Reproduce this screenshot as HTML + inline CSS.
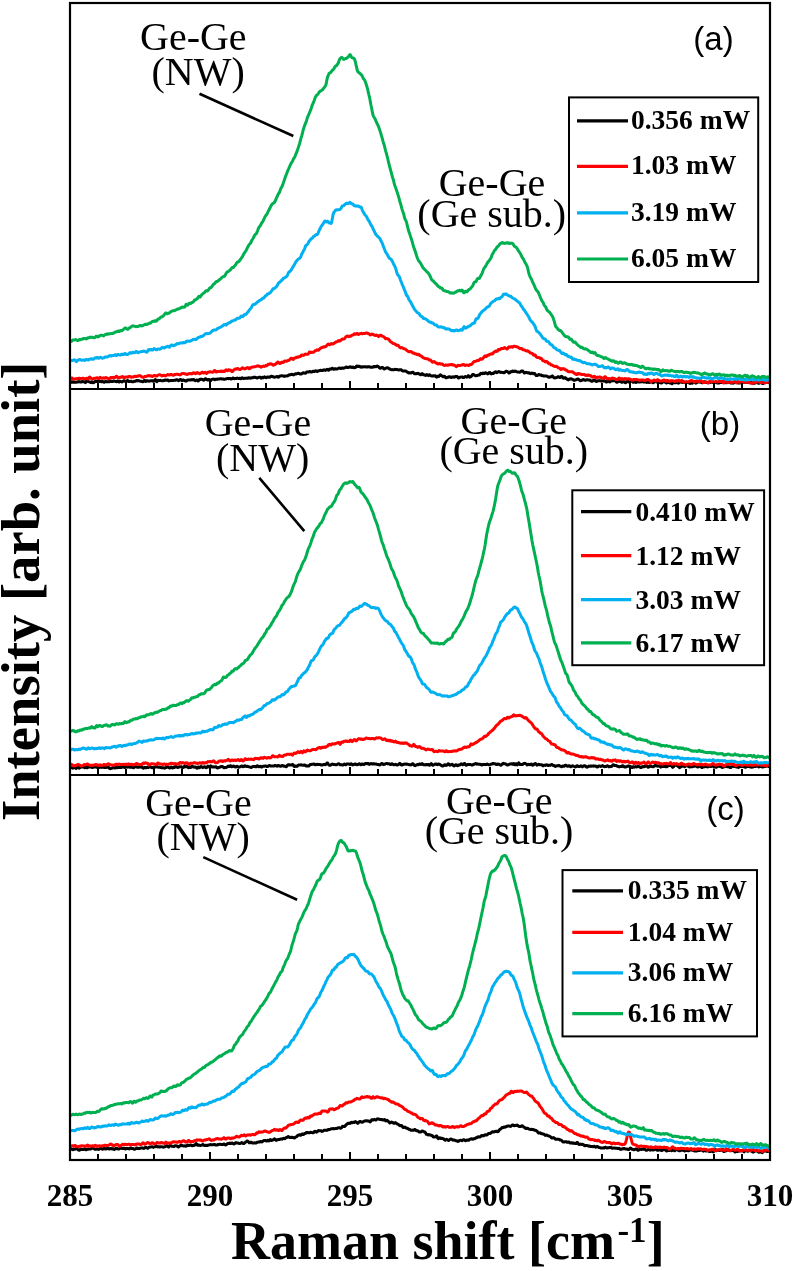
<!DOCTYPE html>
<html><head><meta charset="utf-8"><title>Raman spectra</title>
<style>html,body{margin:0;padding:0;background:#fff;}body{width:793px;height:1271px;overflow:hidden;font-family:"Liberation Serif",serif;}svg{display:block;will-change:transform;}</style>
</head><body>
<svg width="793" height="1271" viewBox="0 0 793 1271">
<rect x="0" y="0" width="793" height="1271" fill="#fff"/>
<defs><clipPath id="pc"><rect x="70" y="3" width="700" height="1157"/></clipPath></defs>
<g clip-path="url(#pc)">
<path d="M70.0,382.3 L70.7,382.5 L71.4,382.0 L72.1,381.7 L72.8,382.2 L73.5,382.2 L74.2,382.0 L74.9,382.2 L75.6,382.3 L76.3,382.2 L77.0,382.1 L77.7,382.0 L78.4,381.7 L79.1,381.6 L79.8,381.8 L80.5,382.1 L81.2,382.0 L81.9,381.7 L82.6,381.5 L83.3,381.7 L84.0,381.8 L84.7,382.0 L85.4,382.6 L86.1,382.0 L86.8,380.6 L87.5,380.5 L88.2,381.3 L88.9,381.7 L89.6,381.9 L90.3,382.4 L91.0,382.5 L91.7,381.7 L92.4,381.9 L93.1,382.7 L93.8,382.6 L94.5,382.1 L95.2,381.4 L95.9,381.1 L96.6,381.5 L97.3,381.6 L98.0,381.2 L98.7,381.2 L99.4,381.4 L100.1,381.3 L100.8,381.5 L101.5,381.7 L102.2,381.6 L102.9,381.6 L103.6,382.0 L104.3,382.2 L105.0,381.8 L105.7,381.5 L106.4,381.7 L107.1,381.8 L107.8,381.7 L108.5,381.6 L109.2,381.8 L109.9,381.5 L110.6,381.0 L111.3,381.2 L112.0,381.6 L112.7,381.5 L113.4,381.0 L114.1,380.9 L114.8,381.3 L115.5,381.4 L116.2,381.7 L116.9,381.5 L117.6,381.0 L118.3,381.5 L119.0,382.0 L119.7,381.4 L120.4,381.2 L121.1,381.6 L121.8,381.9 L122.5,381.8 L123.2,381.1 L123.9,380.7 L124.6,381.0 L125.3,381.3 L126.0,381.6 L126.7,381.3 L127.4,380.5 L128.1,380.7 L128.8,381.6 L129.5,381.6 L130.2,381.2 L130.9,381.2 L131.6,381.5 L132.3,381.7 L133.0,381.7 L133.7,381.5 L134.4,381.2 L135.1,381.3 L135.8,381.1 L136.5,380.5 L137.2,380.7 L137.9,380.9 L138.6,380.6 L139.3,380.8 L140.0,381.1 L140.7,381.3 L141.4,381.3 L142.1,381.6 L142.8,381.8 L143.5,381.3 L144.2,380.5 L144.9,380.6 L145.6,381.4 L146.3,381.2 L147.0,380.7 L147.7,380.8 L148.4,381.1 L149.1,381.2 L149.8,381.1 L150.5,380.8 L151.2,380.7 L151.9,380.7 L152.6,380.7 L153.3,381.2 L154.0,381.3 L154.7,380.0 L155.4,379.6 L156.1,381.1 L156.8,381.7 L157.5,380.6 L158.2,380.2 L158.9,380.6 L159.6,380.4 L160.3,380.3 L161.0,380.6 L161.7,380.8 L162.4,380.7 L163.1,380.7 L163.8,380.5 L164.5,380.2 L165.2,380.1 L165.9,380.2 L166.6,380.2 L167.3,379.9 L168.0,380.2 L168.7,380.9 L169.4,380.8 L170.1,380.6 L170.8,380.6 L171.5,380.4 L172.2,380.4 L172.9,380.6 L173.6,380.4 L174.3,380.2 L175.0,380.4 L175.7,380.1 L176.4,379.7 L177.1,379.7 L177.8,380.3 L178.5,380.7 L179.2,380.2 L179.9,379.7 L180.6,379.5 L181.3,380.0 L182.0,380.6 L182.7,380.2 L183.4,380.0 L184.1,380.3 L184.8,380.7 L185.5,381.0 L186.2,381.1 L186.9,380.5 L187.6,379.9 L188.3,379.9 L189.0,380.1 L189.7,380.1 L190.4,380.1 L191.1,379.8 L191.8,379.6 L192.5,379.9 L193.2,379.7 L193.9,379.5 L194.6,380.3 L195.3,380.7 L196.0,380.4 L196.7,379.9 L197.4,380.1 L198.1,381.0 L198.8,380.6 L199.5,379.4 L200.2,379.3 L200.9,379.4 L201.6,379.2 L202.3,379.4 L203.0,379.8 L203.7,380.3 L204.4,379.8 L205.1,378.8 L205.8,378.8 L206.5,379.2 L207.2,379.8 L207.9,380.0 L208.6,379.6 L209.3,379.6 L210.0,380.5 L210.7,380.5 L211.4,379.6 L212.1,379.3 L212.8,379.3 L213.5,379.1 L214.2,379.3 L214.9,379.7 L215.6,379.3 L216.3,379.2 L217.0,379.4 L217.7,379.1 L218.4,379.0 L219.1,379.0 L219.8,378.9 L220.5,378.7 L221.2,378.8 L221.9,379.0 L222.6,379.0 L223.3,379.0 L224.0,379.2 L224.7,379.3 L225.4,379.1 L226.1,378.8 L226.8,378.6 L227.5,378.4 L228.2,378.5 L228.9,378.7 L229.6,378.4 L230.3,378.5 L231.0,379.0 L231.7,379.0 L232.4,378.3 L233.1,378.0 L233.8,378.6 L234.5,378.7 L235.2,378.4 L235.9,378.6 L236.6,378.3 L237.3,378.1 L238.0,378.4 L238.7,378.6 L239.4,378.3 L240.1,378.3 L240.8,378.8 L241.5,378.3 L242.2,377.8 L242.9,378.3 L243.6,378.4 L244.3,378.4 L245.0,378.2 L245.7,378.3 L246.4,378.2 L247.1,378.1 L247.8,378.2 L248.5,378.0 L249.2,377.7 L249.9,378.1 L250.6,378.2 L251.3,377.9 L252.0,377.8 L252.7,377.7 L253.4,377.2 L254.1,377.2 L254.8,377.4 L255.5,377.3 L256.2,377.6 L256.9,378.0 L257.6,377.9 L258.3,377.4 L259.0,377.3 L259.7,377.2 L260.4,377.3 L261.1,378.2 L261.8,377.7 L262.5,377.2 L263.2,377.7 L263.9,377.2 L264.6,376.8 L265.3,377.4 L266.0,377.7 L266.7,377.2 L267.4,377.1 L268.1,377.2 L268.8,377.0 L269.5,377.2 L270.2,377.1 L270.9,376.5 L271.6,376.3 L272.3,376.4 L273.0,376.7 L273.7,377.1 L274.4,377.2 L275.1,377.1 L275.8,376.9 L276.5,376.6 L277.2,376.4 L277.9,377.0 L278.6,377.2 L279.3,376.5 L280.0,376.0 L280.7,375.9 L281.4,375.8 L282.1,375.7 L282.8,375.9 L283.5,376.1 L284.2,376.4 L284.9,376.1 L285.6,376.0 L286.3,376.0 L287.0,375.9 L287.7,375.8 L288.4,375.2 L289.1,374.8 L289.8,374.9 L290.5,374.7 L291.2,374.4 L291.9,374.3 L292.6,374.4 L293.3,374.9 L294.0,374.7 L294.7,374.1 L295.4,373.8 L296.1,373.9 L296.8,373.8 L297.5,373.4 L298.2,373.3 L298.9,373.5 L299.6,373.7 L300.3,374.1 L301.0,374.1 L301.7,373.7 L302.4,373.2 L303.1,372.8 L303.8,373.0 L304.5,373.1 L305.2,373.3 L305.9,373.0 L306.6,372.0 L307.3,371.9 L308.0,372.1 L308.7,372.0 L309.4,371.6 L310.1,371.6 L310.8,372.0 L311.5,372.1 L312.2,371.7 L312.9,371.2 L313.6,371.3 L314.3,371.6 L315.0,371.1 L315.7,370.7 L316.4,371.1 L317.1,371.5 L317.8,371.2 L318.5,370.9 L319.2,370.7 L319.9,370.4 L320.6,370.3 L321.3,370.4 L322.0,370.6 L322.7,370.5 L323.4,369.9 L324.1,369.8 L324.8,370.1 L325.5,370.4 L326.2,369.9 L326.9,369.3 L327.6,369.6 L328.3,370.2 L329.0,370.0 L329.7,368.9 L330.4,368.9 L331.1,369.2 L331.8,368.5 L332.5,368.3 L333.2,369.0 L333.9,369.2 L334.6,368.7 L335.3,368.7 L336.0,369.0 L336.7,369.1 L337.4,368.9 L338.1,368.6 L338.8,368.1 L339.5,367.9 L340.2,368.3 L340.9,368.6 L341.6,368.3 L342.3,367.9 L343.0,368.2 L343.7,368.3 L344.4,367.9 L345.1,367.6 L345.8,367.2 L346.5,367.0 L347.2,367.4 L347.9,367.5 L348.6,367.3 L349.3,367.3 L350.0,366.9 L350.7,366.7 L351.4,367.4 L352.1,367.6 L352.8,367.1 L353.5,367.2 L354.2,367.7 L354.9,367.6 L355.6,367.4 L356.3,366.3 L357.0,366.0 L357.7,366.5 L358.4,366.5 L359.1,366.2 L359.8,366.5 L360.5,367.1 L361.2,367.2 L361.9,366.8 L362.6,367.0 L363.3,366.9 L364.0,366.7 L364.7,366.7 L365.4,366.8 L366.1,367.0 L366.8,366.9 L367.5,366.8 L368.2,366.9 L368.9,366.7 L369.6,366.8 L370.3,367.2 L371.0,367.3 L371.7,367.1 L372.4,367.3 L373.1,367.1 L373.8,366.5 L374.5,366.5 L375.2,366.8 L375.9,366.7 L376.6,366.2 L377.3,366.1 L378.0,366.4 L378.7,366.9 L379.4,367.7 L380.1,368.2 L380.8,368.0 L381.5,367.7 L382.2,367.4 L382.9,367.7 L383.6,368.5 L384.3,369.0 L385.0,368.6 L385.7,368.1 L386.4,367.9 L387.1,367.8 L387.8,367.8 L388.5,368.1 L389.2,368.8 L389.9,369.3 L390.6,369.3 L391.3,369.6 L392.0,369.8 L392.7,369.6 L393.4,369.8 L394.1,369.7 L394.8,369.3 L395.5,369.4 L396.2,369.5 L396.9,369.4 L397.6,369.6 L398.3,369.9 L399.0,369.9 L399.7,369.8 L400.4,369.7 L401.1,369.7 L401.8,370.3 L402.5,370.9 L403.2,370.9 L403.9,371.0 L404.6,371.1 L405.3,370.9 L406.0,371.1 L406.7,371.7 L407.4,372.1 L408.1,372.6 L408.8,373.0 L409.5,372.7 L410.2,372.9 L410.9,373.1 L411.6,372.6 L412.3,372.2 L413.0,372.3 L413.7,373.1 L414.4,373.8 L415.1,373.8 L415.8,373.6 L416.5,373.7 L417.2,373.6 L417.9,373.3 L418.6,373.8 L419.3,374.0 L420.0,374.2 L420.7,374.7 L421.4,374.2 L422.1,373.6 L422.8,374.2 L423.5,374.8 L424.2,374.8 L424.9,375.1 L425.6,375.4 L426.3,375.0 L427.0,374.6 L427.7,375.1 L428.4,375.6 L429.1,375.0 L429.8,374.8 L430.5,375.5 L431.2,375.9 L431.9,376.1 L432.6,375.9 L433.3,375.7 L434.0,376.1 L434.7,376.0 L435.4,375.7 L436.1,376.8 L436.8,377.1 L437.5,376.3 L438.2,376.3 L438.9,376.5 L439.6,375.5 L440.3,374.9 L441.0,375.3 L441.7,375.8 L442.4,376.2 L443.1,376.7 L443.8,376.5 L444.5,376.2 L445.2,377.0 L445.9,377.8 L446.6,377.8 L447.3,377.4 L448.0,377.2 L448.7,377.0 L449.4,376.8 L450.1,377.0 L450.8,377.3 L451.5,377.5 L452.2,377.2 L452.9,376.7 L453.6,377.1 L454.3,377.3 L455.0,376.7 L455.7,376.5 L456.4,376.4 L457.1,376.5 L457.8,377.4 L458.5,378.0 L459.2,377.7 L459.9,377.3 L460.6,377.1 L461.3,376.9 L462.0,376.9 L462.7,377.3 L463.4,377.6 L464.1,377.3 L464.8,376.7 L465.5,376.6 L466.2,376.9 L466.9,377.2 L467.6,376.5 L468.3,375.7 L469.0,376.4 L469.7,377.2 L470.4,376.9 L471.1,376.5 L471.8,375.7 L472.5,374.7 L473.2,374.4 L473.9,374.8 L474.6,375.3 L475.3,375.7 L476.0,375.7 L476.7,375.5 L477.4,375.5 L478.1,375.1 L478.8,374.9 L479.5,374.9 L480.2,374.1 L480.9,373.2 L481.6,373.6 L482.3,373.7 L483.0,373.0 L483.7,373.4 L484.4,373.6 L485.1,373.0 L485.8,372.8 L486.5,373.1 L487.2,373.5 L487.9,373.9 L488.6,373.4 L489.3,372.5 L490.0,372.6 L490.7,373.5 L491.4,373.9 L492.1,373.4 L492.8,373.3 L493.5,373.4 L494.2,372.8 L494.9,372.1 L495.6,371.7 L496.3,372.3 L497.0,372.8 L497.7,372.1 L498.4,371.6 L499.1,371.6 L499.8,372.1 L500.5,372.4 L501.2,372.2 L501.9,372.4 L502.6,372.4 L503.3,372.5 L504.0,372.8 L504.7,372.4 L505.4,371.7 L506.1,371.2 L506.8,371.3 L507.5,371.6 L508.2,372.1 L508.9,373.0 L509.6,372.8 L510.3,371.8 L511.0,371.7 L511.7,371.8 L512.4,371.0 L513.1,371.1 L513.8,371.6 L514.5,371.2 L515.2,371.1 L515.9,371.4 L516.6,371.8 L517.3,371.9 L518.0,372.0 L518.7,372.1 L519.4,372.2 L520.1,372.2 L520.8,371.6 L521.5,371.0 L522.2,370.9 L522.9,371.2 L523.6,372.1 L524.3,372.9 L525.0,372.9 L525.7,372.4 L526.4,372.3 L527.1,372.6 L527.8,372.9 L528.5,372.8 L529.2,372.8 L529.9,373.4 L530.6,373.7 L531.3,373.2 L532.0,373.1 L532.7,373.3 L533.4,373.8 L534.1,373.7 L534.8,373.5 L535.5,374.6 L536.2,375.5 L536.9,375.5 L537.6,375.4 L538.3,374.8 L539.0,374.4 L539.7,374.9 L540.4,375.0 L541.1,374.9 L541.8,375.6 L542.5,375.8 L543.2,375.8 L543.9,376.0 L544.6,375.9 L545.3,376.0 L546.0,376.1 L546.7,376.1 L547.4,376.4 L548.1,376.9 L548.8,377.3 L549.5,377.2 L550.2,376.7 L550.9,376.7 L551.6,376.7 L552.3,375.9 L553.0,376.4 L553.7,377.6 L554.4,377.9 L555.1,377.9 L555.8,377.7 L556.5,377.6 L557.2,377.2 L557.9,376.7 L558.6,376.8 L559.3,377.3 L560.0,377.5 L560.7,377.0 L561.4,376.2 L562.1,376.6 L562.8,377.7 L563.5,378.3 L564.2,378.1 L564.9,377.6 L565.6,377.9 L566.3,378.8 L567.0,379.0 L567.7,379.6 L568.4,379.9 L569.1,379.3 L569.8,378.9 L570.5,378.8 L571.2,378.8 L571.9,379.1 L572.6,379.5 L573.3,379.8 L574.0,380.3 L574.7,380.3 L575.4,379.9 L576.1,379.8 L576.8,379.4 L577.5,379.1 L578.2,379.1 L578.9,379.5 L579.6,380.2 L580.3,380.7 L581.0,380.6 L581.7,380.3 L582.4,380.0 L583.1,379.7 L583.8,379.6 L584.5,380.2 L585.2,380.2 L585.9,380.0 L586.6,380.0 L587.3,379.7 L588.0,379.9 L588.7,380.1 L589.4,379.9 L590.1,380.2 L590.8,380.9 L591.5,381.3 L592.2,381.3 L592.9,380.7 L593.6,380.2 L594.3,380.1 L595.0,380.4 L595.7,381.1 L596.4,381.5 L597.1,381.2 L597.8,380.7 L598.5,380.8 L599.2,380.8 L599.9,380.6 L600.6,380.9 L601.3,381.2 L602.0,380.9 L602.7,381.0 L603.4,381.1 L604.1,380.8 L604.8,381.0 L605.5,381.5 L606.2,382.0 L606.9,381.9 L607.6,381.0 L608.3,380.7 L609.0,381.7 L609.7,381.9 L610.4,381.1 L611.1,380.8 L611.8,380.9 L612.5,380.8 L613.2,380.7 L613.9,380.6 L614.6,380.7 L615.3,380.7 L616.0,381.4 L616.7,382.2 L617.4,382.0 L618.1,381.8 L618.8,381.4 L619.5,380.9 L620.2,381.2 L620.9,381.8 L621.6,382.3 L622.3,382.2 L623.0,381.6 L623.7,381.5 L624.4,382.1 L625.1,382.7 L625.8,382.7 L626.5,381.7 L627.2,380.9 L627.9,381.2 L628.6,382.0 L629.3,382.0 L630.0,381.6 L630.7,381.2 L631.4,380.5 L632.1,380.9 L632.8,382.0 L633.5,382.3 L634.2,381.8 L634.9,381.7 L635.6,382.3 L636.3,382.5 L637.0,381.8 L637.7,381.6 L638.4,381.9 L639.1,382.0 L639.8,382.0 L640.5,381.7 L641.2,381.6 L641.9,381.7 L642.6,381.7 L643.3,381.8 L644.0,382.1 L644.7,382.1 L645.4,381.9 L646.1,382.0 L646.8,382.4 L647.5,382.1 L648.2,382.1 L648.9,382.4 L649.6,382.4 L650.3,382.2 L651.0,381.9 L651.7,381.7 L652.4,382.3 L653.1,382.8 L653.8,382.3 L654.5,381.7 L655.2,381.7 L655.9,381.8 L656.6,381.9 L657.3,381.9 L658.0,382.0 L658.7,382.4 L659.4,382.5 L660.1,382.6 L660.8,382.8 L661.5,383.1 L662.2,382.6 L662.9,381.8 L663.6,381.5 L664.3,381.2 L665.0,381.7 L665.7,382.6 L666.4,383.0 L667.1,382.8 L667.8,382.4 L668.5,382.3 L669.2,382.6 L669.9,383.1 L670.6,383.0 L671.3,383.2 L672.0,383.7 L672.7,382.9 L673.4,382.2 L674.1,382.6 L674.8,382.8 L675.5,382.5 L676.2,382.4 L676.9,382.7 L677.6,382.9 L678.3,383.2 L679.0,382.9 L679.7,381.9 L680.4,381.4 L681.1,381.7 L681.8,382.2 L682.5,382.4 L683.2,382.3 L683.9,382.1 L684.6,382.6 L685.3,382.7 L686.0,382.0 L686.7,382.0 L687.4,382.4 L688.1,382.3 L688.8,382.6 L689.5,383.3 L690.2,383.4 L690.9,382.8 L691.6,382.7 L692.3,383.2 L693.0,382.8 L693.7,382.1 L694.4,382.0 L695.1,382.5 L695.8,383.2 L696.5,382.9 L697.2,382.0 L697.9,381.7 L698.6,382.0 L699.3,381.9 L700.0,381.8 L700.7,382.2 L701.4,382.3 L702.1,382.8 L702.8,382.7 L703.5,381.9 L704.2,381.7 L704.9,381.7 L705.6,382.3 L706.3,382.5 L707.0,382.4 L707.7,382.8 L708.4,382.4 L709.1,381.9 L709.8,382.3 L710.5,382.5 L711.2,382.0 L711.9,381.9 L712.6,382.1 L713.3,382.7 L714.0,382.7 L714.7,382.5 L715.4,382.5 L716.1,382.1 L716.8,382.4 L717.5,383.1 L718.2,383.1 L718.9,383.0 L719.6,382.7 L720.3,382.2 L721.0,382.3 L721.7,382.4 L722.4,382.2 L723.1,381.9 L723.8,381.7 L724.5,381.8 L725.2,382.3 L725.9,382.8 L726.6,382.5 L727.3,382.1 L728.0,382.5 L728.7,382.4 L729.4,382.0 L730.1,382.4 L730.8,383.0 L731.5,383.0 L732.2,383.1 L732.9,383.2 L733.6,383.1 L734.3,382.3 L735.0,381.5 L735.7,381.9 L736.4,382.4 L737.1,382.6 L737.8,382.9 L738.5,383.0 L739.2,383.1 L739.9,383.1 L740.6,382.7 L741.3,382.6 L742.0,382.4 L742.7,382.3 L743.4,382.5 L744.1,382.6 L744.8,382.5 L745.5,382.3 L746.2,382.2 L746.9,382.2 L747.6,382.2 L748.3,382.1 L749.0,382.2 L749.7,382.4 L750.4,382.0 L751.1,382.1 L751.8,382.9 L752.5,383.3 L753.2,383.1 L753.9,383.3 L754.6,383.3 L755.3,382.4 L756.0,381.8 L756.7,382.2 L757.4,382.8 L758.1,383.1 L758.8,383.3 L759.5,383.1 L760.2,382.5 L760.9,382.0 L761.6,382.5 L762.3,383.5 L763.0,383.5 L763.7,382.9 L764.4,382.5 L765.1,382.4 L765.8,382.3 L766.5,381.9 L767.2,381.5 L767.9,382.0 L768.6,382.5 L769.3,382.7 L770.0,382.7" fill="none" stroke="#000000" stroke-width="3.00" stroke-linejoin="round" stroke-linecap="round"/>
<path d="M70.0,378.7 L70.7,378.4 L71.4,377.9 L72.1,378.0 L72.8,379.1 L73.5,379.4 L74.2,378.9 L74.9,378.9 L75.6,378.8 L76.3,378.6 L77.0,378.8 L77.7,378.6 L78.4,378.2 L79.1,378.3 L79.8,378.5 L80.5,378.7 L81.2,378.6 L81.9,378.4 L82.6,378.2 L83.3,378.3 L84.0,378.7 L84.7,378.8 L85.4,378.7 L86.1,378.4 L86.8,378.2 L87.5,378.9 L88.2,379.0 L88.9,377.8 L89.6,377.0 L90.3,377.5 L91.0,378.4 L91.7,378.7 L92.4,378.9 L93.1,378.8 L93.8,378.5 L94.5,378.3 L95.2,378.3 L95.9,378.2 L96.6,377.8 L97.3,377.8 L98.0,378.5 L98.7,378.7 L99.4,377.9 L100.1,377.3 L100.8,377.8 L101.5,378.2 L102.2,378.3 L102.9,378.1 L103.6,377.7 L104.3,378.2 L105.0,378.2 L105.7,377.5 L106.4,377.8 L107.1,378.3 L107.8,378.3 L108.5,378.6 L109.2,378.9 L109.9,378.2 L110.6,377.5 L111.3,377.4 L112.0,377.7 L112.7,377.6 L113.4,377.4 L114.1,377.6 L114.8,377.5 L115.5,376.9 L116.2,376.2 L116.9,376.4 L117.6,377.4 L118.3,378.0 L119.0,378.0 L119.7,377.5 L120.4,377.1 L121.1,377.3 L121.8,377.1 L122.5,376.5 L123.2,376.9 L123.9,377.8 L124.6,377.7 L125.3,377.3 L126.0,376.9 L126.7,376.9 L127.4,377.2 L128.1,377.0 L128.8,376.6 L129.5,376.5 L130.2,376.5 L130.9,377.0 L131.6,377.2 L132.3,377.0 L133.0,377.0 L133.7,376.8 L134.4,376.5 L135.1,376.3 L135.8,376.4 L136.5,376.5 L137.2,376.3 L137.9,376.0 L138.6,375.9 L139.3,375.7 L140.0,375.6 L140.7,376.1 L141.4,376.7 L142.1,376.9 L142.8,377.2 L143.5,377.5 L144.2,376.8 L144.9,376.5 L145.6,376.6 L146.3,376.3 L147.0,376.1 L147.7,376.0 L148.4,375.6 L149.1,375.5 L149.8,375.9 L150.5,375.9 L151.2,375.8 L151.9,376.5 L152.6,376.5 L153.3,375.8 L154.0,375.5 L154.7,375.5 L155.4,375.8 L156.1,376.1 L156.8,376.0 L157.5,375.4 L158.2,375.1 L158.9,374.9 L159.6,374.7 L160.3,374.9 L161.0,375.4 L161.7,375.9 L162.4,375.8 L163.1,375.4 L163.8,375.2 L164.5,375.6 L165.2,375.9 L165.9,375.7 L166.6,375.1 L167.3,374.7 L168.0,374.6 L168.7,374.9 L169.4,374.9 L170.1,374.7 L170.8,374.5 L171.5,374.6 L172.2,374.9 L172.9,375.2 L173.6,375.2 L174.3,374.8 L175.0,374.4 L175.7,374.4 L176.4,374.2 L177.1,374.2 L177.8,374.4 L178.5,374.4 L179.2,374.6 L179.9,374.9 L180.6,374.7 L181.3,374.1 L182.0,373.5 L182.7,373.6 L183.4,373.5 L184.1,373.4 L184.8,373.9 L185.5,374.0 L186.2,374.0 L186.9,374.4 L187.6,374.4 L188.3,373.9 L189.0,373.5 L189.7,373.7 L190.4,373.7 L191.1,373.6 L191.8,373.9 L192.5,373.6 L193.2,372.8 L193.9,372.8 L194.6,373.1 L195.3,373.7 L196.0,373.6 L196.7,372.8 L197.4,372.6 L198.1,372.9 L198.8,373.3 L199.5,373.7 L200.2,373.5 L200.9,373.0 L201.6,372.6 L202.3,372.1 L203.0,372.6 L203.7,373.0 L204.4,372.6 L205.1,372.3 L205.8,373.0 L206.5,373.4 L207.2,372.6 L207.9,372.2 L208.6,372.2 L209.3,371.8 L210.0,371.8 L210.7,372.1 L211.4,372.1 L212.1,372.1 L212.8,372.3 L213.5,371.9 L214.2,370.7 L214.9,370.5 L215.6,371.4 L216.3,372.0 L217.0,371.8 L217.7,371.4 L218.4,371.4 L219.1,371.6 L219.8,371.6 L220.5,371.2 L221.2,371.0 L221.9,371.6 L222.6,371.5 L223.3,371.1 L224.0,371.6 L224.7,371.4 L225.4,370.3 L226.1,369.9 L226.8,370.6 L227.5,370.7 L228.2,369.9 L228.9,369.7 L229.6,370.3 L230.3,370.1 L231.0,370.4 L231.7,371.5 L232.4,371.6 L233.1,370.6 L233.8,370.0 L234.5,369.5 L235.2,368.9 L235.9,369.1 L236.6,369.0 L237.3,368.5 L238.0,368.6 L238.7,369.2 L239.4,369.4 L240.1,369.4 L240.8,369.3 L241.5,368.6 L242.2,367.9 L242.9,367.8 L243.6,368.4 L244.3,368.9 L245.0,368.8 L245.7,368.5 L246.4,368.0 L247.1,367.8 L247.8,367.6 L248.5,367.9 L249.2,368.7 L249.9,368.5 L250.6,367.6 L251.3,367.3 L252.0,367.2 L252.7,367.1 L253.4,367.1 L254.1,366.9 L254.8,366.7 L255.5,366.6 L256.2,366.4 L256.9,366.1 L257.6,365.8 L258.3,366.0 L259.0,366.2 L259.7,366.4 L260.4,366.8 L261.1,367.2 L261.8,366.9 L262.5,366.4 L263.2,366.2 L263.9,366.1 L264.6,366.4 L265.3,365.9 L266.0,365.3 L266.7,365.7 L267.4,365.3 L268.1,364.2 L268.8,364.2 L269.5,364.3 L270.2,363.8 L270.9,363.7 L271.6,364.1 L272.3,364.5 L273.0,365.1 L273.7,365.2 L274.4,364.6 L275.1,364.2 L275.8,364.0 L276.5,363.4 L277.2,362.6 L277.9,362.0 L278.6,362.5 L279.3,363.3 L280.0,363.5 L280.7,363.1 L281.4,362.4 L282.1,362.1 L282.8,362.6 L283.5,362.4 L284.2,361.5 L284.9,360.9 L285.6,360.9 L286.3,361.3 L287.0,361.1 L287.7,360.6 L288.4,360.5 L289.1,360.2 L289.8,359.5 L290.5,358.8 L291.2,358.3 L291.9,358.3 L292.6,359.2 L293.3,359.4 L294.0,358.3 L294.7,358.1 L295.4,358.0 L296.1,357.5 L296.8,357.2 L297.5,357.1 L298.2,357.2 L298.9,356.8 L299.6,356.6 L300.3,356.5 L301.0,355.6 L301.7,354.9 L302.4,355.1 L303.1,355.4 L303.8,355.2 L304.5,354.6 L305.2,354.1 L305.9,354.2 L306.6,354.3 L307.3,354.2 L308.0,354.2 L308.7,353.3 L309.4,352.1 L310.1,352.0 L310.8,352.5 L311.5,352.5 L312.2,352.3 L312.9,352.2 L313.6,352.2 L314.3,351.7 L315.0,350.8 L315.7,350.6 L316.4,350.3 L317.1,349.8 L317.8,350.1 L318.5,350.2 L319.2,349.5 L319.9,348.8 L320.6,348.2 L321.3,347.7 L322.0,347.5 L322.7,347.3 L323.4,347.0 L324.1,346.8 L324.8,346.9 L325.5,346.6 L326.2,346.0 L326.9,345.5 L327.6,344.5 L328.3,344.0 L329.0,344.5 L329.7,344.8 L330.4,344.3 L331.1,343.7 L331.8,343.6 L332.5,344.0 L333.2,343.9 L333.9,343.5 L334.6,342.9 L335.3,342.3 L336.0,341.9 L336.7,341.9 L337.4,341.6 L338.1,340.9 L338.8,340.5 L339.5,340.9 L340.2,341.0 L340.9,340.3 L341.6,339.5 L342.3,339.1 L343.0,339.1 L343.7,339.0 L344.4,338.8 L345.1,337.9 L345.8,336.9 L346.5,336.5 L347.2,336.1 L347.9,336.1 L348.6,336.8 L349.3,336.4 L350.0,335.9 L350.7,336.2 L351.4,335.7 L352.1,335.0 L352.8,335.0 L353.5,334.8 L354.2,334.0 L354.9,333.7 L355.6,334.2 L356.3,334.0 L357.0,333.4 L357.7,334.0 L358.4,334.4 L359.1,334.0 L359.8,333.8 L360.5,333.6 L361.2,333.3 L361.9,333.7 L362.6,333.8 L363.3,333.4 L364.0,333.4 L364.7,333.6 L365.4,333.3 L366.1,333.0 L366.8,332.9 L367.5,333.1 L368.2,333.7 L368.9,333.8 L369.6,334.3 L370.3,335.0 L371.0,334.6 L371.7,334.1 L372.4,334.2 L373.1,334.5 L373.8,334.9 L374.5,335.0 L375.2,335.5 L375.9,335.5 L376.6,335.1 L377.3,335.4 L378.0,336.0 L378.7,336.6 L379.4,336.1 L380.1,335.3 L380.8,335.2 L381.5,335.6 L382.2,336.2 L382.9,336.4 L383.6,336.6 L384.3,337.2 L385.0,338.2 L385.7,338.7 L386.4,338.4 L387.1,338.6 L387.8,339.0 L388.5,339.2 L389.2,339.8 L389.9,340.8 L390.6,341.8 L391.3,342.1 L392.0,342.5 L392.7,343.2 L393.4,343.6 L394.1,343.8 L394.8,344.0 L395.5,344.3 L396.2,345.0 L396.9,345.4 L397.6,345.2 L398.3,345.5 L399.0,346.5 L399.7,347.4 L400.4,347.9 L401.1,347.7 L401.8,347.6 L402.5,347.9 L403.2,348.4 L403.9,348.8 L404.6,348.8 L405.3,349.1 L406.0,349.7 L406.7,350.2 L407.4,350.9 L408.1,351.4 L408.8,351.7 L409.5,351.7 L410.2,351.5 L410.9,351.5 L411.6,351.8 L412.3,352.6 L413.0,353.2 L413.7,353.1 L414.4,353.2 L415.1,353.8 L415.8,353.9 L416.5,354.0 L417.2,354.6 L417.9,354.7 L418.6,354.2 L419.3,354.7 L420.0,355.7 L420.7,355.9 L421.4,356.0 L422.1,356.7 L422.8,357.5 L423.5,357.7 L424.2,358.1 L424.9,358.4 L425.6,358.5 L426.3,358.7 L427.0,358.8 L427.7,358.8 L428.4,359.2 L429.1,360.0 L429.8,360.1 L430.5,360.0 L431.2,360.7 L431.9,361.8 L432.6,362.2 L433.3,361.8 L434.0,361.6 L434.7,361.8 L435.4,362.7 L436.1,363.0 L436.8,363.1 L437.5,363.9 L438.2,364.1 L438.9,363.6 L439.6,363.5 L440.3,363.9 L441.0,364.2 L441.7,363.9 L442.4,364.0 L443.1,364.8 L443.8,365.2 L444.5,365.4 L445.2,365.3 L445.9,364.9 L446.6,365.0 L447.3,365.3 L448.0,365.3 L448.7,364.9 L449.4,364.7 L450.1,364.8 L450.8,364.8 L451.5,364.5 L452.2,364.5 L452.9,364.9 L453.6,365.0 L454.3,365.2 L455.0,365.6 L455.7,366.2 L456.4,366.6 L457.1,366.0 L457.8,365.3 L458.5,365.4 L459.2,365.6 L459.9,365.6 L460.6,365.4 L461.3,365.1 L462.0,365.1 L462.7,364.8 L463.4,364.4 L464.1,364.7 L464.8,365.4 L465.5,365.6 L466.2,365.1 L466.9,364.9 L467.6,365.1 L468.3,365.4 L469.0,365.4 L469.7,364.8 L470.4,364.4 L471.1,364.6 L471.8,364.2 L472.5,363.3 L473.2,362.4 L473.9,361.7 L474.6,361.4 L475.3,361.3 L476.0,361.1 L476.7,360.8 L477.4,360.6 L478.1,360.5 L478.8,360.3 L479.5,359.8 L480.2,359.0 L480.9,358.7 L481.6,359.2 L482.3,359.0 L483.0,358.2 L483.7,357.4 L484.4,356.4 L485.1,355.9 L485.8,356.4 L486.5,356.5 L487.2,355.5 L487.9,355.2 L488.6,355.2 L489.3,354.4 L490.0,354.3 L490.7,354.3 L491.4,353.7 L492.1,353.9 L492.8,353.8 L493.5,352.6 L494.2,351.9 L494.9,351.7 L495.6,351.1 L496.3,351.0 L497.0,351.4 L497.7,350.7 L498.4,349.5 L499.1,349.4 L499.8,349.7 L500.5,349.3 L501.2,348.5 L501.9,348.4 L502.6,348.6 L503.3,348.5 L504.0,347.9 L504.7,347.6 L505.4,348.2 L506.1,348.5 L506.8,348.9 L507.5,348.9 L508.2,347.6 L508.9,346.9 L509.6,347.3 L510.3,347.1 L511.0,346.6 L511.7,346.8 L512.4,347.3 L513.1,346.8 L513.8,346.2 L514.5,346.2 L515.2,346.4 L515.9,346.7 L516.6,346.8 L517.3,346.9 L518.0,347.3 L518.7,347.7 L519.4,348.3 L520.1,348.7 L520.8,348.4 L521.5,348.4 L522.2,349.1 L522.9,349.7 L523.6,349.8 L524.3,349.9 L525.0,350.2 L525.7,350.6 L526.4,350.9 L527.1,350.8 L527.8,351.0 L528.5,351.5 L529.2,351.8 L529.9,352.5 L530.6,353.1 L531.3,353.2 L532.0,353.2 L532.7,353.9 L533.4,355.1 L534.1,355.2 L534.8,354.7 L535.5,355.4 L536.2,356.9 L536.9,357.4 L537.6,357.4 L538.3,357.5 L539.0,357.4 L539.7,358.0 L540.4,358.6 L541.1,358.3 L541.8,358.9 L542.5,360.3 L543.2,360.8 L543.9,360.7 L544.6,361.3 L545.3,362.0 L546.0,361.6 L546.7,361.5 L547.4,362.1 L548.1,362.9 L548.8,363.6 L549.5,363.7 L550.2,364.0 L550.9,364.9 L551.6,364.9 L552.3,365.1 L553.0,365.7 L553.7,366.0 L554.4,366.2 L555.1,366.5 L555.8,366.4 L556.5,366.3 L557.2,366.9 L557.9,367.5 L558.6,367.9 L559.3,368.1 L560.0,368.5 L560.7,369.5 L561.4,369.4 L562.1,368.6 L562.8,368.8 L563.5,368.8 L564.2,368.7 L564.9,369.5 L565.6,370.0 L566.3,370.0 L567.0,370.5 L567.7,371.3 L568.4,371.7 L569.1,371.7 L569.8,371.7 L570.5,371.7 L571.2,371.7 L571.9,371.8 L572.6,372.0 L573.3,372.4 L574.0,373.0 L574.7,373.5 L575.4,373.8 L576.1,374.5 L576.8,374.6 L577.5,373.6 L578.2,373.5 L578.9,373.9 L579.6,373.8 L580.3,373.9 L581.0,374.3 L581.7,374.5 L582.4,374.5 L583.1,374.6 L583.8,374.4 L584.5,374.4 L585.2,375.2 L585.9,375.4 L586.6,375.2 L587.3,375.5 L588.0,375.1 L588.7,375.0 L589.4,375.5 L590.1,375.5 L590.8,375.7 L591.5,376.5 L592.2,377.1 L592.9,377.2 L593.6,376.6 L594.3,376.2 L595.0,376.6 L595.7,377.5 L596.4,377.9 L597.1,377.4 L597.8,377.1 L598.5,377.3 L599.2,377.1 L599.9,377.0 L600.6,377.3 L601.3,377.7 L602.0,377.9 L602.7,378.3 L603.4,378.5 L604.1,377.7 L604.8,376.7 L605.5,376.8 L606.2,377.7 L606.9,378.5 L607.6,379.0 L608.3,378.6 L609.0,378.4 L609.7,378.9 L610.4,379.0 L611.1,378.7 L611.8,378.5 L612.5,378.0 L613.2,378.3 L613.9,378.7 L614.6,378.6 L615.3,379.0 L616.0,379.5 L616.7,379.5 L617.4,379.6 L618.1,379.0 L618.8,378.1 L619.5,378.1 L620.2,378.8 L620.9,379.2 L621.6,378.8 L622.3,378.6 L623.0,379.2 L623.7,379.4 L624.4,378.7 L625.1,378.6 L625.8,378.9 L626.5,378.8 L627.2,379.1 L627.9,379.0 L628.6,378.7 L629.3,378.9 L630.0,379.1 L630.7,379.5 L631.4,380.1 L632.1,380.3 L632.8,380.0 L633.5,379.6 L634.2,379.5 L634.9,379.8 L635.6,379.8 L636.3,379.4 L637.0,379.6 L637.7,379.8 L638.4,379.9 L639.1,380.2 L639.8,380.4 L640.5,380.1 L641.2,379.9 L641.9,380.1 L642.6,380.1 L643.3,380.0 L644.0,380.3 L644.7,380.5 L645.4,380.4 L646.1,380.0 L646.8,379.7 L647.5,379.5 L648.2,379.6 L648.9,380.0 L649.6,380.3 L650.3,381.2 L651.0,381.7 L651.7,381.0 L652.4,380.9 L653.1,380.7 L653.8,380.1 L654.5,380.1 L655.2,380.8 L655.9,381.2 L656.6,380.6 L657.3,379.7 L658.0,379.7 L658.7,380.5 L659.4,381.1 L660.1,381.0 L660.8,381.0 L661.5,381.1 L662.2,380.8 L662.9,380.5 L663.6,380.2 L664.3,380.0 L665.0,380.6 L665.7,381.2 L666.4,381.0 L667.1,380.3 L667.8,380.4 L668.5,381.1 L669.2,381.4 L669.9,381.3 L670.6,380.8 L671.3,380.7 L672.0,380.7 L672.7,380.8 L673.4,380.9 L674.1,381.3 L674.8,381.6 L675.5,381.1 L676.2,380.6 L676.9,381.1 L677.6,381.2 L678.3,380.6 L679.0,380.5 L679.7,381.0 L680.4,381.3 L681.1,380.7 L681.8,380.5 L682.5,381.0 L683.2,381.8 L683.9,382.0 L684.6,381.7 L685.3,382.3 L686.0,382.5 L686.7,382.1 L687.4,382.0 L688.1,381.9 L688.8,381.6 L689.5,381.2 L690.2,381.0 L690.9,380.7 L691.6,380.5 L692.3,380.8 L693.0,381.2 L693.7,381.8 L694.4,382.0 L695.1,381.6 L695.8,381.5 L696.5,381.2 L697.2,380.9 L697.9,381.3 L698.6,381.6 L699.3,381.3 L700.0,380.7 L700.7,380.5 L701.4,381.1 L702.1,381.9 L702.8,382.4 L703.5,382.6 L704.2,382.5 L704.9,382.3 L705.6,382.1 L706.3,381.9 L707.0,382.1 L707.7,382.7 L708.4,383.0 L709.1,382.1 L709.8,381.5 L710.5,381.8 L711.2,381.7 L711.9,381.5 L712.6,381.4 L713.3,381.6 L714.0,382.2 L714.7,382.1 L715.4,381.7 L716.1,381.6 L716.8,381.8 L717.5,381.9 L718.2,381.6 L718.9,381.3 L719.6,381.3 L720.3,381.6 L721.0,381.7 L721.7,381.5 L722.4,381.7 L723.1,382.5 L723.8,383.1 L724.5,382.1 L725.2,380.8 L725.9,381.0 L726.6,381.7 L727.3,382.3 L728.0,382.8 L728.7,382.1 L729.4,381.2 L730.1,381.7 L730.8,382.2 L731.5,382.4 L732.2,382.4 L732.9,382.1 L733.6,381.9 L734.3,381.6 L735.0,381.8 L735.7,382.7 L736.4,382.9 L737.1,381.9 L737.8,381.4 L738.5,381.9 L739.2,382.3 L739.9,382.4 L740.6,381.9 L741.3,381.9 L742.0,382.4 L742.7,382.6 L743.4,382.2 L744.1,382.1 L744.8,382.4 L745.5,382.4 L746.2,382.2 L746.9,381.6 L747.6,381.3 L748.3,381.8 L749.0,382.5 L749.7,382.9 L750.4,382.8 L751.1,382.7 L751.8,383.2 L752.5,383.4 L753.2,382.8 L753.9,382.5 L754.6,382.5 L755.3,382.2 L756.0,382.3 L756.7,382.3 L757.4,381.7 L758.1,381.4 L758.8,381.7 L759.5,381.9 L760.2,382.5 L760.9,382.6 L761.6,382.3 L762.3,382.3 L763.0,382.2 L763.7,382.1 L764.4,382.6 L765.1,383.0 L765.8,382.5 L766.5,381.7 L767.2,382.0 L767.9,382.3 L768.6,381.8 L769.3,381.7 L770.0,382.1" fill="none" stroke="#ff0000" stroke-width="3.00" stroke-linejoin="round" stroke-linecap="round"/>
<path d="M70.0,361.3 L70.7,360.4 L71.4,360.4 L72.1,360.6 L72.8,360.4 L73.5,360.1 L74.2,359.8 L74.9,359.9 L75.6,360.8 L76.3,361.7 L77.0,361.1 L77.7,360.2 L78.4,360.0 L79.1,359.7 L79.8,359.5 L80.5,359.8 L81.2,360.1 L81.9,360.2 L82.6,360.2 L83.3,359.9 L84.0,360.0 L84.7,360.4 L85.4,360.0 L86.1,359.4 L86.8,359.4 L87.5,359.9 L88.2,360.1 L88.9,359.5 L89.6,359.2 L90.3,359.2 L91.0,358.8 L91.7,358.8 L92.4,359.2 L93.1,359.2 L93.8,359.0 L94.5,358.3 L95.2,357.7 L95.9,358.1 L96.6,357.8 L97.3,357.4 L98.0,358.1 L98.7,358.3 L99.4,357.7 L100.1,357.3 L100.8,357.5 L101.5,357.9 L102.2,358.3 L102.9,358.1 L103.6,357.8 L104.3,357.7 L105.0,357.1 L105.7,356.7 L106.4,357.1 L107.1,357.1 L107.8,356.6 L108.5,356.3 L109.2,355.9 L109.9,355.5 L110.6,356.1 L111.3,356.1 L112.0,355.5 L112.7,355.4 L113.4,355.6 L114.1,355.4 L114.8,354.7 L115.5,354.8 L116.2,355.7 L116.9,355.4 L117.6,354.4 L118.3,354.5 L119.0,354.8 L119.7,354.9 L120.4,355.0 L121.1,354.5 L121.8,354.2 L122.5,354.3 L123.2,354.6 L123.9,354.4 L124.6,353.6 L125.3,353.6 L126.0,354.4 L126.7,354.6 L127.4,354.4 L128.1,354.3 L128.8,353.7 L129.5,353.0 L130.2,352.7 L130.9,353.0 L131.6,353.2 L132.3,352.5 L133.0,352.3 L133.7,352.6 L134.4,352.8 L135.1,352.6 L135.8,351.7 L136.5,351.4 L137.2,352.1 L137.9,352.8 L138.6,352.6 L139.3,352.1 L140.0,351.8 L140.7,351.7 L141.4,351.7 L142.1,351.6 L142.8,351.3 L143.5,351.1 L144.2,351.2 L144.9,351.3 L145.6,351.6 L146.3,352.2 L147.0,352.1 L147.7,351.0 L148.4,349.8 L149.1,349.6 L149.8,350.0 L150.5,349.7 L151.2,349.4 L151.9,350.0 L152.6,350.1 L153.3,349.1 L154.0,348.6 L154.7,348.8 L155.4,349.2 L156.1,349.7 L156.8,349.8 L157.5,349.3 L158.2,348.9 L158.9,349.1 L159.6,349.2 L160.3,349.1 L161.0,348.6 L161.7,347.7 L162.4,347.3 L163.1,347.6 L163.8,348.1 L164.5,347.9 L165.2,347.1 L165.9,346.9 L166.6,346.9 L167.3,346.4 L168.0,346.2 L168.7,346.9 L169.4,347.3 L170.1,346.4 L170.8,345.4 L171.5,344.9 L172.2,344.9 L172.9,345.5 L173.6,345.7 L174.3,345.3 L175.0,345.0 L175.7,344.8 L176.4,344.3 L177.1,343.6 L177.8,343.7 L178.5,343.7 L179.2,343.4 L179.9,343.0 L180.6,342.9 L181.3,343.0 L182.0,343.1 L182.7,342.7 L183.4,342.5 L184.1,342.7 L184.8,342.8 L185.5,342.3 L186.2,341.3 L186.9,341.3 L187.6,341.2 L188.3,341.1 L189.0,341.3 L189.7,341.3 L190.4,341.0 L191.1,340.6 L191.8,340.4 L192.5,339.8 L193.2,339.4 L193.9,339.3 L194.6,339.2 L195.3,339.5 L196.0,339.6 L196.7,339.1 L197.4,338.2 L198.1,337.4 L198.8,337.4 L199.5,337.2 L200.2,336.7 L200.9,336.5 L201.6,336.5 L202.3,336.4 L203.0,335.8 L203.7,335.4 L204.4,334.7 L205.1,334.0 L205.8,333.6 L206.5,333.4 L207.2,333.7 L207.9,333.8 L208.6,333.4 L209.3,333.3 L210.0,333.2 L210.7,332.5 L211.4,331.8 L212.1,331.0 L212.8,330.5 L213.5,330.3 L214.2,329.9 L214.9,329.9 L215.6,330.0 L216.3,329.7 L217.0,329.0 L217.7,328.4 L218.4,328.2 L219.1,327.8 L219.8,327.4 L220.5,327.2 L221.2,326.9 L221.9,326.3 L222.6,325.9 L223.3,325.3 L224.0,324.7 L224.7,324.5 L225.4,324.6 L226.1,325.1 L226.8,324.6 L227.5,323.4 L228.2,323.2 L228.9,323.0 L229.6,322.5 L230.3,322.4 L231.0,321.7 L231.7,320.9 L232.4,320.9 L233.1,320.9 L233.8,320.4 L234.5,319.9 L235.2,320.1 L235.9,319.7 L236.6,318.7 L237.3,318.3 L238.0,318.2 L238.7,318.2 L239.4,318.3 L240.1,317.6 L240.8,316.4 L241.5,316.0 L242.2,316.4 L242.9,316.5 L243.6,315.6 L244.3,314.9 L245.0,314.5 L245.7,314.3 L246.4,314.0 L247.1,313.0 L247.8,312.1 L248.5,311.4 L249.2,310.2 L249.9,309.3 L250.6,308.8 L251.3,307.7 L252.0,306.3 L252.7,305.1 L253.4,304.5 L254.1,304.5 L254.8,304.3 L255.5,303.8 L256.2,303.3 L256.9,302.5 L257.6,301.8 L258.3,301.5 L259.0,301.0 L259.7,300.3 L260.4,300.2 L261.1,299.9 L261.8,299.0 L262.5,298.2 L263.2,298.3 L263.9,298.0 L264.6,296.9 L265.3,296.0 L266.0,295.7 L266.7,295.1 L267.4,294.0 L268.1,293.9 L268.8,293.7 L269.5,292.9 L270.2,292.7 L270.9,291.9 L271.6,290.8 L272.3,289.9 L273.0,288.8 L273.7,288.7 L274.4,288.6 L275.1,287.8 L275.8,287.2 L276.5,286.5 L277.2,285.6 L277.9,284.3 L278.6,282.8 L279.3,282.5 L280.0,282.2 L280.7,281.1 L281.4,280.4 L282.1,280.2 L282.8,279.2 L283.5,278.1 L284.2,277.9 L284.9,277.8 L285.6,277.1 L286.3,276.7 L287.0,276.1 L287.7,274.5 L288.4,272.8 L289.1,271.8 L289.8,271.5 L290.5,271.0 L291.2,269.9 L291.9,268.7 L292.6,267.5 L293.3,266.4 L294.0,265.3 L294.7,264.0 L295.4,262.6 L296.1,261.6 L296.8,260.8 L297.5,259.9 L298.2,259.1 L298.9,258.6 L299.6,258.2 L300.3,257.7 L301.0,256.1 L301.7,254.1 L302.4,253.0 L303.1,251.6 L303.8,250.2 L304.5,249.1 L305.2,247.1 L305.9,245.4 L306.6,245.0 L307.3,244.5 L308.0,243.5 L308.7,241.9 L309.4,240.8 L310.1,240.2 L310.8,239.1 L311.5,238.5 L312.2,238.3 L312.9,237.4 L313.6,236.5 L314.3,236.2 L315.0,235.7 L315.7,234.9 L316.4,234.5 L317.1,234.5 L317.8,233.9 L318.5,232.0 L319.2,230.2 L319.9,229.1 L320.6,227.6 L321.3,226.2 L322.0,225.3 L322.7,224.5 L323.4,223.4 L324.1,222.1 L324.8,221.0 L325.5,221.3 L326.2,221.9 L326.9,221.5 L327.6,221.2 L328.3,221.8 L329.0,222.8 L329.7,223.1 L330.4,223.1 L331.1,223.4 L331.8,221.6 L332.5,217.8 L333.2,214.1 L333.9,212.3 L334.6,211.5 L335.3,210.5 L336.0,209.9 L336.7,209.8 L337.4,209.9 L338.1,209.7 L338.8,209.7 L339.5,209.6 L340.2,209.3 L340.9,208.6 L341.6,207.2 L342.3,205.9 L343.0,205.8 L343.7,205.6 L344.4,204.9 L345.1,204.3 L345.8,203.7 L346.5,203.2 L347.2,203.3 L347.9,203.7 L348.6,203.4 L349.3,202.6 L350.0,202.3 L350.7,203.0 L351.4,203.8 L352.1,203.8 L352.8,203.9 L353.5,204.9 L354.2,205.7 L354.9,205.8 L355.6,206.0 L356.3,206.1 L357.0,206.2 L357.7,205.9 L358.4,206.0 L359.1,206.5 L359.8,207.0 L360.5,206.9 L361.2,207.1 L361.9,208.9 L362.6,211.0 L363.3,212.0 L364.0,213.2 L364.7,214.5 L365.4,215.3 L366.1,215.9 L366.8,217.1 L367.5,218.7 L368.2,220.0 L368.9,220.9 L369.6,222.0 L370.3,223.7 L371.0,225.1 L371.7,225.9 L372.4,227.2 L373.1,229.0 L373.8,230.3 L374.5,231.7 L375.2,233.4 L375.9,234.5 L376.6,235.3 L377.3,236.0 L378.0,236.6 L378.7,237.4 L379.4,237.9 L380.1,238.9 L380.8,240.6 L381.5,241.8 L382.2,243.0 L382.9,244.9 L383.6,246.9 L384.3,248.7 L385.0,250.5 L385.7,252.2 L386.4,253.2 L387.1,254.1 L387.8,255.5 L388.5,256.9 L389.2,258.0 L389.9,258.6 L390.6,258.9 L391.3,259.6 L392.0,260.8 L392.7,261.9 L393.4,263.6 L394.1,265.1 L394.8,266.3 L395.5,268.0 L396.2,270.2 L396.9,272.8 L397.6,274.6 L398.3,275.4 L399.0,276.1 L399.7,277.5 L400.4,279.7 L401.1,281.6 L401.8,283.3 L402.5,285.1 L403.2,286.5 L403.9,288.4 L404.6,290.2 L405.3,291.8 L406.0,294.0 L406.7,295.5 L407.4,296.0 L408.1,297.3 L408.8,299.3 L409.5,300.5 L410.2,301.2 L410.9,302.5 L411.6,303.9 L412.3,305.2 L413.0,306.5 L413.7,307.8 L414.4,309.2 L415.1,310.2 L415.8,310.8 L416.5,311.7 L417.2,312.6 L417.9,312.9 L418.6,313.1 L419.3,314.1 L420.0,315.2 L420.7,316.0 L421.4,316.4 L422.1,316.8 L422.8,317.6 L423.5,318.4 L424.2,318.4 L424.9,318.6 L425.6,319.0 L426.3,319.4 L427.0,319.9 L427.7,320.5 L428.4,321.3 L429.1,322.0 L429.8,321.9 L430.5,322.0 L431.2,322.6 L431.9,323.0 L432.6,322.9 L433.3,323.3 L434.0,324.2 L434.7,324.8 L435.4,325.0 L436.1,324.9 L436.8,325.3 L437.5,326.3 L438.2,327.0 L438.9,327.0 L439.6,327.0 L440.3,327.0 L441.0,326.8 L441.7,326.9 L442.4,327.4 L443.1,327.7 L443.8,327.6 L444.5,327.7 L445.2,328.6 L445.9,329.1 L446.6,328.7 L447.3,328.8 L448.0,329.1 L448.7,329.1 L449.4,329.1 L450.1,329.8 L450.8,330.3 L451.5,330.6 L452.2,330.7 L452.9,330.5 L453.6,330.8 L454.3,331.0 L455.0,330.5 L455.7,330.3 L456.4,330.0 L457.1,330.0 L457.8,330.7 L458.5,330.7 L459.2,330.4 L459.9,330.2 L460.6,329.6 L461.3,329.7 L462.0,330.2 L462.7,329.4 L463.4,327.6 L464.1,326.7 L464.8,327.6 L465.5,328.3 L466.2,327.8 L466.9,327.4 L467.6,327.1 L468.3,326.4 L469.0,326.2 L469.7,326.1 L470.4,325.6 L471.1,324.8 L471.8,324.1 L472.5,323.6 L473.2,323.2 L473.9,323.3 L474.6,322.8 L475.3,320.7 L476.0,319.0 L476.7,318.7 L477.4,318.6 L478.1,318.0 L478.8,316.7 L479.5,314.9 L480.2,313.8 L480.9,313.2 L481.6,312.1 L482.3,311.4 L483.0,310.8 L483.7,310.3 L484.4,309.9 L485.1,309.4 L485.8,308.5 L486.5,307.6 L487.2,307.2 L487.9,306.8 L488.6,306.5 L489.3,306.0 L490.0,304.8 L490.7,303.5 L491.4,302.7 L492.1,302.3 L492.8,301.8 L493.5,301.1 L494.2,300.9 L494.9,300.5 L495.6,299.5 L496.3,299.0 L497.0,299.2 L497.7,298.9 L498.4,298.3 L499.1,298.7 L499.8,298.7 L500.5,297.6 L501.2,297.1 L501.9,296.9 L502.6,295.8 L503.3,294.5 L504.0,294.2 L504.7,294.3 L505.4,294.0 L506.1,293.9 L506.8,294.6 L507.5,295.0 L508.2,295.3 L508.9,295.8 L509.6,296.2 L510.3,296.2 L511.0,296.3 L511.7,297.2 L512.4,297.9 L513.1,298.1 L513.8,298.7 L514.5,298.9 L515.2,299.3 L515.9,300.1 L516.6,300.5 L517.3,301.1 L518.0,301.7 L518.7,302.2 L519.4,302.6 L520.1,303.6 L520.8,305.2 L521.5,306.3 L522.2,307.1 L522.9,308.3 L523.6,309.5 L524.3,310.1 L525.0,311.1 L525.7,312.4 L526.4,313.3 L527.1,314.3 L527.8,315.5 L528.5,316.5 L529.2,317.8 L529.9,319.4 L530.6,320.6 L531.3,321.4 L532.0,322.0 L532.7,322.6 L533.4,323.7 L534.1,324.8 L534.8,325.9 L535.5,327.6 L536.2,329.8 L536.9,331.3 L537.6,331.7 L538.3,332.0 L539.0,332.7 L539.7,333.5 L540.4,334.4 L541.1,335.2 L541.8,336.4 L542.5,337.6 L543.2,338.2 L543.9,338.7 L544.6,338.7 L545.3,339.1 L546.0,340.4 L546.7,341.2 L547.4,341.2 L548.1,341.4 L548.8,341.9 L549.5,343.1 L550.2,344.2 L550.9,344.6 L551.6,344.7 L552.3,345.2 L553.0,346.4 L553.7,347.4 L554.4,347.9 L555.1,348.0 L555.8,348.4 L556.5,349.5 L557.2,349.9 L557.9,350.2 L558.6,350.4 L559.3,350.3 L560.0,351.1 L560.7,352.0 L561.4,352.9 L562.1,353.6 L562.8,353.5 L563.5,353.1 L564.2,353.8 L564.9,354.7 L565.6,354.9 L566.3,354.6 L567.0,355.0 L567.7,356.1 L568.4,356.8 L569.1,356.6 L569.8,356.9 L570.5,357.4 L571.2,357.0 L571.9,357.9 L572.6,359.2 L573.3,359.2 L574.0,358.9 L574.7,359.2 L575.4,359.7 L576.1,359.7 L576.8,360.0 L577.5,360.3 L578.2,360.4 L578.9,360.8 L579.6,360.6 L580.3,360.8 L581.0,361.4 L581.7,361.8 L582.4,362.4 L583.1,362.7 L583.8,362.5 L584.5,362.4 L585.2,362.6 L585.9,363.1 L586.6,363.5 L587.3,363.7 L588.0,363.8 L588.7,363.7 L589.4,363.9 L590.1,364.2 L590.8,364.1 L591.5,364.6 L592.2,365.0 L592.9,364.6 L593.6,364.3 L594.3,364.3 L595.0,364.3 L595.7,364.5 L596.4,364.9 L597.1,365.3 L597.8,366.0 L598.5,366.6 L599.2,366.5 L599.9,366.4 L600.6,366.3 L601.3,366.1 L602.0,365.8 L602.7,365.8 L603.4,366.8 L604.1,367.7 L604.8,367.5 L605.5,367.5 L606.2,367.9 L606.9,367.6 L607.6,367.1 L608.3,367.0 L609.0,367.3 L609.7,368.2 L610.4,368.9 L611.1,368.5 L611.8,367.9 L612.5,368.1 L613.2,368.2 L613.9,368.2 L614.6,368.9 L615.3,369.5 L616.0,369.7 L616.7,369.4 L617.4,368.8 L618.1,369.0 L618.8,370.2 L619.5,370.3 L620.2,369.6 L620.9,369.9 L621.6,370.4 L622.3,370.6 L623.0,370.6 L623.7,370.5 L624.4,370.7 L625.1,370.9 L625.8,370.5 L626.5,369.7 L627.2,369.4 L627.9,370.0 L628.6,370.6 L629.3,371.4 L630.0,371.9 L630.7,371.8 L631.4,371.7 L632.1,372.0 L632.8,372.3 L633.5,372.1 L634.2,372.5 L634.9,372.7 L635.6,372.8 L636.3,372.9 L637.0,372.6 L637.7,372.6 L638.4,372.3 L639.1,372.0 L639.8,372.3 L640.5,372.6 L641.2,372.6 L641.9,372.6 L642.6,372.8 L643.3,373.7 L644.0,374.2 L644.7,374.0 L645.4,374.1 L646.1,374.4 L646.8,374.5 L647.5,373.7 L648.2,373.3 L648.9,373.9 L649.6,373.8 L650.3,373.2 L651.0,373.1 L651.7,373.1 L652.4,373.4 L653.1,373.9 L653.8,374.6 L654.5,374.4 L655.2,373.4 L655.9,373.3 L656.6,373.5 L657.3,373.6 L658.0,374.1 L658.7,374.4 L659.4,374.3 L660.1,374.5 L660.8,375.2 L661.5,375.9 L662.2,375.9 L662.9,375.6 L663.6,375.4 L664.3,375.2 L665.0,375.1 L665.7,375.2 L666.4,375.3 L667.1,375.0 L667.8,375.0 L668.5,375.6 L669.2,375.7 L669.9,375.2 L670.6,375.4 L671.3,375.9 L672.0,375.9 L672.7,375.8 L673.4,375.9 L674.1,376.3 L674.8,376.8 L675.5,376.5 L676.2,375.4 L676.9,375.2 L677.6,376.2 L678.3,377.0 L679.0,377.0 L679.7,376.8 L680.4,376.3 L681.1,376.1 L681.8,376.7 L682.5,377.0 L683.2,376.8 L683.9,376.4 L684.6,376.5 L685.3,376.8 L686.0,377.0 L686.7,376.7 L687.4,376.5 L688.1,376.9 L688.8,377.4 L689.5,377.2 L690.2,376.6 L690.9,376.4 L691.6,376.9 L692.3,377.2 L693.0,376.7 L693.7,376.7 L694.4,377.7 L695.1,377.9 L695.8,377.7 L696.5,377.9 L697.2,378.1 L697.9,378.1 L698.6,378.1 L699.3,378.3 L700.0,378.3 L700.7,378.1 L701.4,377.7 L702.1,377.6 L702.8,377.1 L703.5,377.0 L704.2,377.5 L704.9,377.7 L705.6,377.7 L706.3,377.9 L707.0,378.3 L707.7,378.0 L708.4,377.6 L709.1,378.0 L709.8,378.3 L710.5,378.0 L711.2,378.5 L711.9,379.2 L712.6,378.9 L713.3,378.2 L714.0,378.1 L714.7,378.0 L715.4,377.1 L716.1,376.6 L716.8,377.2 L717.5,378.1 L718.2,378.8 L718.9,378.6 L719.6,377.8 L720.3,377.8 L721.0,378.2 L721.7,378.1 L722.4,378.1 L723.1,378.4 L723.8,378.6 L724.5,378.6 L725.2,378.9 L725.9,379.5 L726.6,379.2 L727.3,378.9 L728.0,379.4 L728.7,379.5 L729.4,379.1 L730.1,378.8 L730.8,378.8 L731.5,379.0 L732.2,379.1 L732.9,379.3 L733.6,379.1 L734.3,378.6 L735.0,378.8 L735.7,379.3 L736.4,379.3 L737.1,378.9 L737.8,378.8 L738.5,378.7 L739.2,378.3 L739.9,378.6 L740.6,379.4 L741.3,379.3 L742.0,378.9 L742.7,379.1 L743.4,379.9 L744.1,380.1 L744.8,379.5 L745.5,379.2 L746.2,379.4 L746.9,380.0 L747.6,379.8 L748.3,379.4 L749.0,379.7 L749.7,379.8 L750.4,379.6 L751.1,379.4 L751.8,379.0 L752.5,379.1 L753.2,379.5 L753.9,379.3 L754.6,379.4 L755.3,380.0 L756.0,379.6 L756.7,379.0 L757.4,379.2 L758.1,379.8 L758.8,380.1 L759.5,380.0 L760.2,379.6 L760.9,379.0 L761.6,379.0 L762.3,379.3 L763.0,379.6 L763.7,379.4 L764.4,379.5 L765.1,380.3 L765.8,379.9 L766.5,379.7 L767.2,380.2 L767.9,380.2 L768.6,379.3 L769.3,378.3 L770.0,378.6" fill="none" stroke="#00b0f0" stroke-width="3.00" stroke-linejoin="round" stroke-linecap="round"/>
<path d="M70.0,340.5 L70.7,340.9 L71.4,341.4 L72.1,340.8 L72.8,340.0 L73.5,340.0 L74.2,340.1 L74.9,339.9 L75.6,339.6 L76.3,339.9 L77.0,340.4 L77.7,340.6 L78.4,340.3 L79.1,339.7 L79.8,339.5 L80.5,339.7 L81.2,339.3 L81.9,339.3 L82.6,339.1 L83.3,338.5 L84.0,338.4 L84.7,338.5 L85.4,338.7 L86.1,338.9 L86.8,338.7 L87.5,337.9 L88.2,337.7 L88.9,337.9 L89.6,337.7 L90.3,337.1 L91.0,337.3 L91.7,337.4 L92.4,337.2 L93.1,337.5 L93.8,337.7 L94.5,337.8 L95.2,337.4 L95.9,336.5 L96.6,336.2 L97.3,336.5 L98.0,336.9 L98.7,336.6 L99.4,335.9 L100.1,335.4 L100.8,335.3 L101.5,335.2 L102.2,335.3 L102.9,335.7 L103.6,335.9 L104.3,335.2 L105.0,334.7 L105.7,334.6 L106.4,334.1 L107.1,334.0 L107.8,334.2 L108.5,334.0 L109.2,333.7 L109.9,333.8 L110.6,333.6 L111.3,333.4 L112.0,333.5 L112.7,333.5 L113.4,333.2 L114.1,332.7 L114.8,332.3 L115.5,332.0 L116.2,331.8 L116.9,331.8 L117.6,331.2 L118.3,331.0 L119.0,331.6 L119.7,331.0 L120.4,330.6 L121.1,330.9 L121.8,330.7 L122.5,330.3 L123.2,329.7 L123.9,329.0 L124.6,328.3 L125.3,327.9 L126.0,328.2 L126.7,328.7 L127.4,329.3 L128.1,329.2 L128.8,328.3 L129.5,327.9 L130.2,327.6 L130.9,327.0 L131.6,326.3 L132.3,326.0 L133.0,326.1 L133.7,326.1 L134.4,326.2 L135.1,326.4 L135.8,326.7 L136.5,326.5 L137.2,326.4 L137.9,326.5 L138.6,326.3 L139.3,325.8 L140.0,325.5 L140.7,325.6 L141.4,325.9 L142.1,325.8 L142.8,325.5 L143.5,325.2 L144.2,324.8 L144.9,324.4 L145.6,324.2 L146.3,324.5 L147.0,324.4 L147.7,324.0 L148.4,323.8 L149.1,323.3 L149.8,323.1 L150.5,323.2 L151.2,322.5 L151.9,321.8 L152.6,321.4 L153.3,321.2 L154.0,321.4 L154.7,321.0 L155.4,320.7 L156.1,321.2 L156.8,320.7 L157.5,319.6 L158.2,319.0 L158.9,318.9 L159.6,318.5 L160.3,317.5 L161.0,317.1 L161.7,317.0 L162.4,316.5 L163.1,316.1 L163.8,315.4 L164.5,314.4 L165.2,313.4 L165.9,312.9 L166.6,313.5 L167.3,313.8 L168.0,313.2 L168.7,313.3 L169.4,313.1 L170.1,312.3 L170.8,311.8 L171.5,311.4 L172.2,310.9 L172.9,310.7 L173.6,310.7 L174.3,310.8 L175.0,310.4 L175.7,309.9 L176.4,309.7 L177.1,309.2 L177.8,309.0 L178.5,309.0 L179.2,308.7 L179.9,308.3 L180.6,308.0 L181.3,307.5 L182.0,307.1 L182.7,307.2 L183.4,307.2 L184.1,307.0 L184.8,306.9 L185.5,305.7 L186.2,304.2 L186.9,304.6 L187.6,305.2 L188.3,304.5 L189.0,303.5 L189.7,303.2 L190.4,303.5 L191.1,303.3 L191.8,302.6 L192.5,302.2 L193.2,302.0 L193.9,301.1 L194.6,300.0 L195.3,299.8 L196.0,299.5 L196.7,298.9 L197.4,298.6 L198.1,297.3 L198.8,296.4 L199.5,297.0 L200.2,296.9 L200.9,295.7 L201.6,294.9 L202.3,294.2 L203.0,293.5 L203.7,293.2 L204.4,292.6 L205.1,291.8 L205.8,291.0 L206.5,290.7 L207.2,291.0 L207.9,290.6 L208.6,289.6 L209.3,288.5 L210.0,287.8 L210.7,287.8 L211.4,287.2 L212.1,286.0 L212.8,285.2 L213.5,284.2 L214.2,283.7 L214.9,283.4 L215.6,282.2 L216.3,281.4 L217.0,281.6 L217.7,281.3 L218.4,280.6 L219.1,280.0 L219.8,279.4 L220.5,279.0 L221.2,278.2 L221.9,277.4 L222.6,276.9 L223.3,276.6 L224.0,276.6 L224.7,276.1 L225.4,274.8 L226.1,273.3 L226.8,272.3 L227.5,271.8 L228.2,271.6 L228.9,271.1 L229.6,270.4 L230.3,269.9 L231.0,269.1 L231.7,267.9 L232.4,267.4 L233.1,267.6 L233.8,267.0 L234.5,266.0 L235.2,265.3 L235.9,264.3 L236.6,263.0 L237.3,262.2 L238.0,262.0 L238.7,261.6 L239.4,260.9 L240.1,260.0 L240.8,258.8 L241.5,257.9 L242.2,257.0 L242.9,255.6 L243.6,254.1 L244.3,253.1 L245.0,252.1 L245.7,251.2 L246.4,249.9 L247.1,248.4 L247.8,247.0 L248.5,245.6 L249.2,244.5 L249.9,243.8 L250.6,243.0 L251.3,241.5 L252.0,240.0 L252.7,239.0 L253.4,237.9 L254.1,236.4 L254.8,235.0 L255.5,234.3 L256.2,233.9 L256.9,232.5 L257.6,230.7 L258.3,228.7 L259.0,227.2 L259.7,226.4 L260.4,225.5 L261.1,224.2 L261.8,222.7 L262.5,221.9 L263.2,220.8 L263.9,219.2 L264.6,217.7 L265.3,216.3 L266.0,215.2 L266.7,214.5 L267.4,213.3 L268.1,211.5 L268.8,210.3 L269.5,209.1 L270.2,207.4 L270.9,206.1 L271.6,204.8 L272.3,203.9 L273.0,203.4 L273.7,203.0 L274.4,202.5 L275.1,201.3 L275.8,199.7 L276.5,197.9 L277.2,196.5 L277.9,194.9 L278.6,193.5 L279.3,192.7 L280.0,190.9 L280.7,188.8 L281.4,187.5 L282.1,186.4 L282.8,184.6 L283.5,182.4 L284.2,180.4 L284.9,178.3 L285.6,176.2 L286.3,174.6 L287.0,172.7 L287.7,170.8 L288.4,169.4 L289.1,167.7 L289.8,166.2 L290.5,164.6 L291.2,163.1 L291.9,162.1 L292.6,160.9 L293.3,159.2 L294.0,158.2 L294.7,157.2 L295.4,155.2 L296.1,153.5 L296.8,152.0 L297.5,150.0 L298.2,147.9 L298.9,145.7 L299.6,143.5 L300.3,140.8 L301.0,138.1 L301.7,136.0 L302.4,133.3 L303.1,130.4 L303.8,127.9 L304.5,125.9 L305.2,124.1 L305.9,122.4 L306.6,120.4 L307.3,117.8 L308.0,116.1 L308.7,114.8 L309.4,112.9 L310.1,111.2 L310.8,109.6 L311.5,107.5 L312.2,105.3 L312.9,103.6 L313.6,102.2 L314.3,100.3 L315.0,98.1 L315.7,96.6 L316.4,95.5 L317.1,95.0 L317.8,94.3 L318.5,93.2 L319.2,92.0 L319.9,91.3 L320.6,91.2 L321.3,90.6 L322.0,90.0 L322.7,89.5 L323.4,88.6 L324.1,87.7 L324.8,86.7 L325.5,85.8 L326.2,83.7 L326.9,79.9 L327.6,76.9 L328.3,75.3 L329.0,73.5 L329.7,73.0 L330.4,72.7 L331.1,71.9 L331.8,71.1 L332.5,70.0 L333.2,69.7 L333.9,69.0 L334.6,67.2 L335.3,66.3 L336.0,66.1 L336.7,65.4 L337.4,64.4 L338.1,63.4 L338.8,61.6 L339.5,59.5 L340.2,58.4 L340.9,57.9 L341.6,57.3 L342.3,57.7 L343.0,58.8 L343.7,59.4 L344.4,59.3 L345.1,58.6 L345.8,58.4 L346.5,58.4 L347.2,57.8 L347.9,57.2 L348.6,56.4 L349.3,55.2 L350.0,54.5 L350.7,55.4 L351.4,56.9 L352.1,57.7 L352.8,58.0 L353.5,58.1 L354.2,58.5 L354.9,60.1 L355.6,62.9 L356.3,66.1 L357.0,69.3 L357.7,71.5 L358.4,72.2 L359.1,72.7 L359.8,73.2 L360.5,74.0 L361.2,74.6 L361.9,75.3 L362.6,76.9 L363.3,78.4 L364.0,79.3 L364.7,80.2 L365.4,81.9 L366.1,84.0 L366.8,86.2 L367.5,88.7 L368.2,91.8 L368.9,94.8 L369.6,97.5 L370.3,101.4 L371.0,105.2 L371.7,108.4 L372.4,112.4 L373.1,115.4 L373.8,116.7 L374.5,117.9 L375.2,119.2 L375.9,120.8 L376.6,122.5 L377.3,124.0 L378.0,125.4 L378.7,127.0 L379.4,129.0 L380.1,131.1 L380.8,133.4 L381.5,135.8 L382.2,138.1 L382.9,140.9 L383.6,143.3 L384.3,145.4 L385.0,148.3 L385.7,151.1 L386.4,153.4 L387.1,156.1 L387.8,159.0 L388.5,162.0 L389.2,164.8 L389.9,167.5 L390.6,170.2 L391.3,172.7 L392.0,175.5 L392.7,177.9 L393.4,179.8 L394.1,182.8 L394.8,185.5 L395.5,187.2 L396.2,189.2 L396.9,191.4 L397.6,193.6 L398.3,195.7 L399.0,198.1 L399.7,200.8 L400.4,203.3 L401.1,205.6 L401.8,208.3 L402.5,210.7 L403.2,212.5 L403.9,214.8 L404.6,217.8 L405.3,219.7 L406.0,220.8 L406.7,222.9 L407.4,226.0 L408.1,229.0 L408.8,231.4 L409.5,233.2 L410.2,235.4 L410.9,237.6 L411.6,239.7 L412.3,242.2 L413.0,244.7 L413.7,247.0 L414.4,249.1 L415.1,250.9 L415.8,253.0 L416.5,255.5 L417.2,257.5 L417.9,259.2 L418.6,260.8 L419.3,261.6 L420.0,262.3 L420.7,263.6 L421.4,264.8 L422.1,266.0 L422.8,267.3 L423.5,268.3 L424.2,269.1 L424.9,269.7 L425.6,270.3 L426.3,271.2 L427.0,271.9 L427.7,272.5 L428.4,273.2 L429.1,274.3 L429.8,275.5 L430.5,277.0 L431.2,278.8 L431.9,280.1 L432.6,280.5 L433.3,280.9 L434.0,281.9 L434.7,282.6 L435.4,283.1 L436.1,283.9 L436.8,284.6 L437.5,285.5 L438.2,286.4 L438.9,286.7 L439.6,287.1 L440.3,287.9 L441.0,288.0 L441.7,288.1 L442.4,288.9 L443.1,290.0 L443.8,290.6 L444.5,290.8 L445.2,290.7 L445.9,291.1 L446.6,291.6 L447.3,291.5 L448.0,291.6 L448.7,291.9 L449.4,292.4 L450.1,293.1 L450.8,293.1 L451.5,292.7 L452.2,293.1 L452.9,293.2 L453.6,293.1 L454.3,293.0 L455.0,292.3 L455.7,292.0 L456.4,291.9 L457.1,291.3 L457.8,290.8 L458.5,290.8 L459.2,290.5 L459.9,290.3 L460.6,291.0 L461.3,290.7 L462.0,290.0 L462.7,290.9 L463.4,292.5 L464.1,292.8 L464.8,292.0 L465.5,291.2 L466.2,291.5 L466.9,291.8 L467.6,291.2 L468.3,290.1 L469.0,289.5 L469.7,289.2 L470.4,288.6 L471.1,287.7 L471.8,287.0 L472.5,286.0 L473.2,284.6 L473.9,282.9 L474.6,281.9 L475.3,281.9 L476.0,281.6 L476.7,280.1 L477.4,278.7 L478.1,278.3 L478.8,278.5 L479.5,278.2 L480.2,276.9 L480.9,275.5 L481.6,274.4 L482.3,272.8 L483.0,270.7 L483.7,269.0 L484.4,267.8 L485.1,266.9 L485.8,265.9 L486.5,264.6 L487.2,263.2 L487.9,262.0 L488.6,261.2 L489.3,260.5 L490.0,259.3 L490.7,258.5 L491.4,256.9 L492.1,254.7 L492.8,253.7 L493.5,252.4 L494.2,250.9 L494.9,250.1 L495.6,249.4 L496.3,248.2 L497.0,247.1 L497.7,246.5 L498.4,246.0 L499.1,245.0 L499.8,244.1 L500.5,243.5 L501.2,243.1 L501.9,242.7 L502.6,242.5 L503.3,243.2 L504.0,243.4 L504.7,243.3 L505.4,243.0 L506.1,242.9 L506.8,243.2 L507.5,242.8 L508.2,242.8 L508.9,243.3 L509.6,243.6 L510.3,243.2 L511.0,243.1 L511.7,243.3 L512.4,243.3 L513.1,244.0 L513.8,245.3 L514.5,246.3 L515.2,246.7 L515.9,247.1 L516.6,247.8 L517.3,248.7 L518.0,250.0 L518.7,251.2 L519.4,252.1 L520.1,253.1 L520.8,254.4 L521.5,256.0 L522.2,257.4 L522.9,258.2 L523.6,259.4 L524.3,260.9 L525.0,262.4 L525.7,263.6 L526.4,264.8 L527.1,266.2 L527.8,268.6 L528.5,271.8 L529.2,274.5 L529.9,276.2 L530.6,277.8 L531.3,278.9 L532.0,280.5 L532.7,282.3 L533.4,283.5 L534.1,285.1 L534.8,286.8 L535.5,288.4 L536.2,289.9 L536.9,290.6 L537.6,291.4 L538.3,292.4 L539.0,294.0 L539.7,295.8 L540.4,297.5 L541.1,299.1 L541.8,300.7 L542.5,301.6 L543.2,302.6 L543.9,304.6 L544.6,305.9 L545.3,306.4 L546.0,307.6 L546.7,309.4 L547.4,310.5 L548.1,311.1 L548.8,311.7 L549.5,312.2 L550.2,313.0 L550.9,314.2 L551.6,315.2 L552.3,316.2 L553.0,317.7 L553.7,319.6 L554.4,321.9 L555.1,324.5 L555.8,326.7 L556.5,327.3 L557.2,328.0 L557.9,329.2 L558.6,329.7 L559.3,330.3 L560.0,330.6 L560.7,330.6 L561.4,331.5 L562.1,332.5 L562.8,333.4 L563.5,334.3 L564.2,335.2 L564.9,336.0 L565.6,336.5 L566.3,336.6 L567.0,336.7 L567.7,337.0 L568.4,337.1 L569.1,337.9 L569.8,339.2 L570.5,339.4 L571.2,339.1 L571.9,339.9 L572.6,341.2 L573.3,342.1 L574.0,342.3 L574.7,341.9 L575.4,342.3 L576.1,343.3 L576.8,343.9 L577.5,344.7 L578.2,345.4 L578.9,345.9 L579.6,346.4 L580.3,347.0 L581.0,347.5 L581.7,347.3 L582.4,347.5 L583.1,348.4 L583.8,348.8 L584.5,348.9 L585.2,348.8 L585.9,348.8 L586.6,349.4 L587.3,349.6 L588.0,350.0 L588.7,350.9 L589.4,351.2 L590.1,351.6 L590.8,352.5 L591.5,352.6 L592.2,352.0 L592.9,352.4 L593.6,353.2 L594.3,352.8 L595.0,352.6 L595.7,353.8 L596.4,354.9 L597.1,355.4 L597.8,355.5 L598.5,355.5 L599.2,355.9 L599.9,356.1 L600.6,356.3 L601.3,356.9 L602.0,357.1 L602.7,357.2 L603.4,358.0 L604.1,358.6 L604.8,358.1 L605.5,357.5 L606.2,358.1 L606.9,358.6 L607.6,358.8 L608.3,359.1 L609.0,359.4 L609.7,360.1 L610.4,360.4 L611.1,360.4 L611.8,361.1 L612.5,361.3 L613.2,360.9 L613.9,360.8 L614.6,361.6 L615.3,362.4 L616.0,362.2 L616.7,361.9 L617.4,362.7 L618.1,363.3 L618.8,363.0 L619.5,362.3 L620.2,361.9 L620.9,362.1 L621.6,362.7 L622.3,363.3 L623.0,363.4 L623.7,362.9 L624.4,362.7 L625.1,362.9 L625.8,363.5 L626.5,364.0 L627.2,364.0 L627.9,364.3 L628.6,364.6 L629.3,364.4 L630.0,364.8 L630.7,364.7 L631.4,364.3 L632.1,364.5 L632.8,365.2 L633.5,365.3 L634.2,364.9 L634.9,365.3 L635.6,365.6 L636.3,365.4 L637.0,365.7 L637.7,366.0 L638.4,366.4 L639.1,366.5 L639.8,366.7 L640.5,367.5 L641.2,367.5 L641.9,366.5 L642.6,366.2 L643.3,366.8 L644.0,367.4 L644.7,367.9 L645.4,368.6 L646.1,368.8 L646.8,368.5 L647.5,368.4 L648.2,368.2 L648.9,368.5 L649.6,369.1 L650.3,368.9 L651.0,368.7 L651.7,368.9 L652.4,369.2 L653.1,369.5 L653.8,369.1 L654.5,369.0 L655.2,369.2 L655.9,369.2 L656.6,369.4 L657.3,369.8 L658.0,369.5 L658.7,369.4 L659.4,370.3 L660.1,371.1 L660.8,371.6 L661.5,371.4 L662.2,370.3 L662.9,369.9 L663.6,370.6 L664.3,370.8 L665.0,370.4 L665.7,370.6 L666.4,370.8 L667.1,370.6 L667.8,370.9 L668.5,371.2 L669.2,371.1 L669.9,371.2 L670.6,370.8 L671.3,370.3 L672.0,370.5 L672.7,370.9 L673.4,371.1 L674.1,371.3 L674.8,371.6 L675.5,371.7 L676.2,371.6 L676.9,371.4 L677.6,371.4 L678.3,371.4 L679.0,371.8 L679.7,371.9 L680.4,371.5 L681.1,371.4 L681.8,371.4 L682.5,371.8 L683.2,372.4 L683.9,372.6 L684.6,372.7 L685.3,372.3 L686.0,372.1 L686.7,372.3 L687.4,372.5 L688.1,372.5 L688.8,372.6 L689.5,373.0 L690.2,373.4 L690.9,373.2 L691.6,373.0 L692.3,372.8 L693.0,372.4 L693.7,372.2 L694.4,372.5 L695.1,372.6 L695.8,372.6 L696.5,373.1 L697.2,373.1 L697.9,372.8 L698.6,373.1 L699.3,373.7 L700.0,373.8 L700.7,374.1 L701.4,374.8 L702.1,374.6 L702.8,373.8 L703.5,373.6 L704.2,373.3 L704.9,373.0 L705.6,373.6 L706.3,374.1 L707.0,373.9 L707.7,374.0 L708.4,374.6 L709.1,374.6 L709.8,374.6 L710.5,375.0 L711.2,374.6 L711.9,373.9 L712.6,373.7 L713.3,374.0 L714.0,374.6 L714.7,375.1 L715.4,375.1 L716.1,374.5 L716.8,374.3 L717.5,374.8 L718.2,374.7 L718.9,374.1 L719.6,374.1 L720.3,374.7 L721.0,375.2 L721.7,375.0 L722.4,375.0 L723.1,375.1 L723.8,374.7 L724.5,374.9 L725.2,375.8 L725.9,375.6 L726.6,375.1 L727.3,375.5 L728.0,376.0 L728.7,375.7 L729.4,375.4 L730.1,375.5 L730.8,375.1 L731.5,374.9 L732.2,375.0 L732.9,375.1 L733.6,375.5 L734.3,375.5 L735.0,375.3 L735.7,375.8 L736.4,376.3 L737.1,376.2 L737.8,376.1 L738.5,376.0 L739.2,375.6 L739.9,375.6 L740.6,376.0 L741.3,376.6 L742.0,377.3 L742.7,377.1 L743.4,376.2 L744.1,375.7 L744.8,375.2 L745.5,375.3 L746.2,376.4 L746.9,376.4 L747.6,375.7 L748.3,376.5 L749.0,377.5 L749.7,377.2 L750.4,376.8 L751.1,376.5 L751.8,376.0 L752.5,375.8 L753.2,376.1 L753.9,376.5 L754.6,376.8 L755.3,377.3 L756.0,377.7 L756.7,377.5 L757.4,377.2 L758.1,376.6 L758.8,376.7 L759.5,377.7 L760.2,377.9 L760.9,377.5 L761.6,376.8 L762.3,376.5 L763.0,376.8 L763.7,376.5 L764.4,376.5 L765.1,377.0 L765.8,377.3 L766.5,377.8 L767.2,377.3 L767.9,376.8 L768.6,376.9 L769.3,376.9 L770.0,377.3" fill="none" stroke="#00b050" stroke-width="3.00" stroke-linejoin="round" stroke-linecap="round"/>
<path d="M70.0,767.0 L70.7,766.9 L71.4,767.3 L72.1,767.9 L72.8,768.2 L73.5,767.8 L74.2,767.2 L74.9,767.3 L75.6,768.1 L76.3,768.5 L77.0,767.8 L77.7,767.0 L78.4,767.3 L79.1,768.1 L79.8,767.7 L80.5,766.9 L81.2,767.0 L81.9,767.0 L82.6,767.0 L83.3,767.1 L84.0,767.3 L84.7,767.7 L85.4,767.6 L86.1,767.4 L86.8,767.8 L87.5,767.7 L88.2,767.0 L88.9,767.0 L89.6,767.1 L90.3,767.1 L91.0,767.0 L91.7,767.3 L92.4,767.5 L93.1,767.2 L93.8,767.0 L94.5,767.0 L95.2,766.8 L95.9,766.9 L96.6,767.2 L97.3,767.4 L98.0,768.0 L98.7,767.7 L99.4,767.0 L100.1,767.0 L100.8,767.2 L101.5,767.4 L102.2,767.2 L102.9,766.7 L103.6,767.0 L104.3,767.6 L105.0,767.6 L105.7,767.4 L106.4,767.4 L107.1,767.2 L107.8,767.0 L108.5,767.4 L109.2,768.1 L109.9,768.5 L110.6,768.7 L111.3,768.4 L112.0,768.2 L112.7,767.9 L113.4,767.4 L114.1,767.6 L114.8,768.0 L115.5,767.7 L116.2,767.5 L116.9,767.7 L117.6,767.7 L118.3,767.4 L119.0,767.4 L119.7,767.6 L120.4,767.4 L121.1,767.3 L121.8,767.4 L122.5,766.9 L123.2,766.5 L123.9,766.9 L124.6,767.5 L125.3,767.3 L126.0,766.8 L126.7,766.9 L127.4,767.2 L128.1,766.9 L128.8,766.9 L129.5,767.2 L130.2,767.0 L130.9,767.1 L131.6,767.3 L132.3,767.2 L133.0,767.6 L133.7,767.8 L134.4,767.2 L135.1,766.4 L135.8,766.4 L136.5,766.9 L137.2,767.3 L137.9,767.3 L138.6,767.2 L139.3,767.0 L140.0,766.9 L140.7,767.1 L141.4,767.3 L142.1,767.3 L142.8,767.7 L143.5,768.2 L144.2,767.6 L144.9,767.2 L145.6,767.8 L146.3,767.7 L147.0,767.2 L147.7,767.5 L148.4,767.4 L149.1,767.0 L149.8,766.8 L150.5,766.8 L151.2,767.4 L151.9,767.7 L152.6,767.5 L153.3,767.8 L154.0,767.9 L154.7,767.2 L155.4,767.1 L156.1,767.0 L156.8,766.6 L157.5,766.7 L158.2,767.2 L158.9,767.3 L159.6,767.2 L160.3,767.3 L161.0,767.6 L161.7,767.7 L162.4,767.8 L163.1,767.7 L163.8,767.9 L164.5,768.2 L165.2,767.9 L165.9,767.5 L166.6,767.4 L167.3,766.9 L168.0,767.1 L168.7,767.6 L169.4,767.9 L170.1,767.9 L170.8,767.2 L171.5,767.0 L172.2,767.9 L172.9,767.8 L173.6,767.2 L174.3,767.5 L175.0,767.1 L175.7,766.4 L176.4,766.5 L177.1,767.2 L177.8,767.5 L178.5,767.1 L179.2,766.8 L179.9,766.9 L180.6,766.7 L181.3,766.7 L182.0,767.2 L182.7,767.7 L183.4,767.4 L184.1,766.6 L184.8,766.5 L185.5,766.8 L186.2,766.7 L186.9,766.3 L187.6,766.7 L188.3,767.7 L189.0,767.6 L189.7,767.0 L190.4,767.5 L191.1,767.3 L191.8,766.2 L192.5,766.3 L193.2,766.9 L193.9,767.2 L194.6,767.0 L195.3,766.9 L196.0,767.3 L196.7,768.2 L197.4,768.1 L198.1,767.0 L198.8,767.0 L199.5,767.7 L200.2,767.0 L200.9,766.5 L201.6,766.9 L202.3,767.3 L203.0,767.5 L203.7,767.1 L204.4,766.8 L205.1,767.0 L205.8,767.5 L206.5,767.7 L207.2,767.0 L207.9,766.1 L208.6,766.5 L209.3,767.1 L210.0,766.5 L210.7,765.8 L211.4,766.2 L212.1,767.0 L212.8,767.1 L213.5,766.8 L214.2,767.1 L214.9,767.1 L215.6,766.7 L216.3,767.0 L217.0,767.8 L217.7,768.0 L218.4,767.6 L219.1,767.3 L219.8,767.3 L220.5,766.9 L221.2,766.5 L221.9,766.4 L222.6,766.6 L223.3,767.3 L224.0,767.8 L224.7,767.5 L225.4,767.5 L226.1,767.5 L226.8,767.1 L227.5,766.7 L228.2,766.1 L228.9,766.5 L229.6,766.6 L230.3,765.7 L231.0,766.0 L231.7,766.8 L232.4,766.6 L233.1,766.1 L233.8,766.2 L234.5,766.5 L235.2,766.9 L235.9,766.9 L236.6,766.5 L237.3,766.3 L238.0,766.7 L238.7,767.2 L239.4,767.1 L240.1,766.9 L240.8,766.4 L241.5,765.9 L242.2,766.2 L242.9,766.7 L243.6,766.6 L244.3,765.9 L245.0,765.7 L245.7,766.2 L246.4,766.4 L247.1,766.3 L247.8,766.4 L248.5,766.6 L249.2,766.9 L249.9,767.1 L250.6,767.3 L251.3,767.4 L252.0,767.0 L252.7,766.5 L253.4,766.5 L254.1,766.6 L254.8,766.5 L255.5,766.8 L256.2,766.8 L256.9,766.0 L257.6,765.8 L258.3,766.5 L259.0,766.8 L259.7,766.4 L260.4,766.3 L261.1,766.9 L261.8,767.0 L262.5,766.4 L263.2,766.2 L263.9,766.2 L264.6,766.2 L265.3,765.9 L266.0,766.0 L266.7,766.5 L267.4,766.5 L268.1,766.3 L268.8,765.8 L269.5,765.4 L270.2,765.9 L270.9,766.1 L271.6,766.0 L272.3,765.9 L273.0,765.9 L273.7,766.1 L274.4,765.8 L275.1,765.4 L275.8,765.6 L276.5,766.1 L277.2,766.2 L277.9,765.6 L278.6,765.5 L279.3,765.9 L280.0,766.0 L280.7,766.2 L281.4,766.0 L282.1,765.5 L282.8,765.6 L283.5,766.1 L284.2,766.2 L284.9,766.1 L285.6,766.6 L286.3,766.8 L287.0,765.9 L287.7,765.0 L288.4,764.8 L289.1,764.8 L289.8,765.0 L290.5,765.0 L291.2,765.1 L291.9,765.1 L292.6,764.4 L293.3,764.9 L294.0,766.3 L294.7,766.5 L295.4,766.0 L296.1,766.2 L296.8,766.4 L297.5,766.1 L298.2,765.3 L298.9,764.9 L299.6,765.0 L300.3,764.9 L301.0,764.8 L301.7,764.9 L302.4,765.1 L303.1,765.3 L303.8,765.3 L304.5,764.9 L305.2,765.3 L305.9,765.9 L306.6,765.8 L307.3,765.9 L308.0,766.1 L308.7,766.0 L309.4,765.4 L310.1,764.6 L310.8,764.6 L311.5,764.5 L312.2,764.3 L312.9,764.3 L313.6,764.1 L314.3,764.1 L315.0,764.7 L315.7,764.8 L316.4,764.4 L317.1,764.3 L317.8,764.4 L318.5,764.5 L319.2,764.6 L319.9,764.6 L320.6,764.7 L321.3,765.0 L322.0,765.1 L322.7,764.9 L323.4,764.4 L324.1,764.4 L324.8,764.7 L325.5,764.7 L326.2,764.1 L326.9,763.1 L327.6,763.1 L328.3,764.3 L329.0,765.1 L329.7,765.3 L330.4,765.2 L331.1,764.8 L331.8,764.3 L332.5,764.1 L333.2,764.4 L333.9,764.5 L334.6,764.6 L335.3,764.7 L336.0,764.7 L336.7,764.7 L337.4,764.3 L338.1,763.9 L338.8,763.8 L339.5,764.3 L340.2,764.8 L340.9,764.7 L341.6,764.8 L342.3,765.0 L343.0,764.9 L343.7,764.5 L344.4,764.1 L345.1,764.5 L345.8,764.8 L346.5,764.2 L347.2,763.9 L347.9,763.9 L348.6,763.9 L349.3,764.1 L350.0,764.5 L350.7,764.0 L351.4,763.8 L352.1,764.7 L352.8,764.9 L353.5,764.6 L354.2,764.3 L354.9,764.0 L355.6,764.0 L356.3,764.5 L357.0,764.7 L357.7,764.6 L358.4,764.2 L359.1,763.8 L359.8,764.0 L360.5,764.7 L361.2,764.7 L361.9,764.0 L362.6,763.9 L363.3,764.5 L364.0,764.6 L364.7,764.1 L365.4,763.5 L366.1,763.4 L366.8,763.7 L367.5,763.6 L368.2,763.5 L368.9,764.1 L369.6,764.4 L370.3,763.9 L371.0,763.5 L371.7,763.9 L372.4,764.1 L373.1,763.6 L373.8,763.8 L374.5,764.1 L375.2,763.9 L375.9,764.0 L376.6,764.2 L377.3,764.4 L378.0,764.4 L378.7,764.5 L379.4,764.9 L380.1,764.9 L380.8,764.4 L381.5,763.6 L382.2,763.6 L382.9,764.3 L383.6,764.5 L384.3,764.3 L385.0,764.1 L385.7,763.7 L386.4,763.6 L387.1,763.6 L387.8,763.8 L388.5,763.8 L389.2,763.7 L389.9,764.3 L390.6,764.6 L391.3,763.9 L392.0,763.8 L392.7,764.3 L393.4,764.5 L394.1,764.8 L394.8,764.6 L395.5,764.3 L396.2,764.6 L396.9,765.0 L397.6,764.9 L398.3,764.6 L399.0,764.1 L399.7,763.4 L400.4,763.8 L401.1,764.8 L401.8,765.0 L402.5,764.7 L403.2,764.5 L403.9,764.3 L404.6,764.1 L405.3,764.1 L406.0,764.2 L406.7,764.1 L407.4,764.2 L408.1,764.4 L408.8,764.5 L409.5,764.7 L410.2,764.8 L410.9,764.9 L411.6,764.7 L412.3,763.8 L413.0,763.7 L413.7,764.6 L414.4,765.4 L415.1,765.7 L415.8,765.4 L416.5,764.9 L417.2,764.5 L417.9,764.8 L418.6,764.8 L419.3,764.1 L420.0,764.0 L420.7,764.5 L421.4,764.2 L422.1,763.6 L422.8,764.2 L423.5,764.8 L424.2,764.7 L424.9,764.9 L425.6,764.8 L426.3,764.5 L427.0,764.7 L427.7,764.6 L428.4,764.4 L429.1,765.0 L429.8,765.2 L430.5,764.2 L431.2,763.5 L431.9,764.2 L432.6,765.3 L433.3,765.1 L434.0,764.6 L434.7,764.4 L435.4,764.0 L436.1,763.9 L436.8,764.6 L437.5,764.7 L438.2,764.0 L438.9,764.0 L439.6,764.4 L440.3,764.8 L441.0,765.3 L441.7,765.7 L442.4,766.0 L443.1,765.9 L443.8,765.5 L444.5,764.7 L445.2,764.8 L445.9,765.4 L446.6,765.3 L447.3,764.7 L448.0,763.8 L448.7,764.0 L449.4,765.0 L450.1,765.2 L450.8,764.9 L451.5,764.4 L452.2,764.3 L452.9,765.0 L453.6,765.8 L454.3,765.9 L455.0,765.3 L455.7,764.7 L456.4,764.7 L457.1,765.6 L457.8,765.8 L458.5,765.1 L459.2,765.0 L459.9,764.9 L460.6,764.2 L461.3,763.7 L462.0,764.4 L462.7,764.8 L463.4,764.3 L464.1,763.6 L464.8,763.6 L465.5,764.8 L466.2,765.3 L466.9,764.9 L467.6,764.6 L468.3,764.5 L469.0,764.6 L469.7,764.6 L470.4,764.6 L471.1,764.7 L471.8,765.1 L472.5,765.0 L473.2,764.5 L473.9,764.3 L474.6,764.2 L475.3,763.6 L476.0,763.6 L476.7,764.2 L477.4,764.1 L478.1,764.1 L478.8,764.3 L479.5,764.2 L480.2,764.3 L480.9,764.6 L481.6,765.0 L482.3,764.8 L483.0,764.5 L483.7,764.6 L484.4,764.6 L485.1,764.4 L485.8,764.4 L486.5,764.4 L487.2,764.0 L487.9,764.4 L488.6,764.7 L489.3,764.8 L490.0,764.8 L490.7,764.4 L491.4,764.0 L492.1,763.9 L492.8,763.6 L493.5,763.5 L494.2,763.7 L494.9,763.8 L495.6,763.9 L496.3,764.6 L497.0,764.5 L497.7,763.9 L498.4,764.1 L499.1,764.3 L499.8,764.6 L500.5,765.3 L501.2,765.0 L501.9,764.4 L502.6,763.7 L503.3,763.3 L504.0,763.7 L504.7,763.8 L505.4,763.8 L506.1,764.2 L506.8,764.7 L507.5,765.1 L508.2,764.9 L508.9,764.5 L509.6,764.1 L510.3,764.1 L511.0,763.9 L511.7,763.8 L512.4,764.2 L513.1,763.7 L513.8,763.5 L514.5,764.6 L515.2,764.8 L515.9,763.8 L516.6,764.0 L517.3,764.9 L518.0,764.1 L518.7,762.9 L519.4,763.6 L520.1,764.6 L520.8,764.6 L521.5,764.5 L522.2,764.6 L522.9,764.3 L523.6,763.6 L524.3,763.3 L525.0,763.6 L525.7,763.6 L526.4,764.1 L527.1,764.9 L527.8,764.7 L528.5,764.3 L529.2,764.4 L529.9,764.7 L530.6,764.5 L531.3,764.0 L532.0,764.5 L532.7,765.3 L533.4,764.9 L534.1,764.2 L534.8,763.7 L535.5,763.5 L536.2,764.2 L536.9,765.2 L537.6,764.9 L538.3,764.3 L539.0,764.4 L539.7,764.7 L540.4,764.8 L541.1,764.7 L541.8,764.8 L542.5,765.5 L543.2,765.8 L543.9,765.2 L544.6,765.2 L545.3,765.4 L546.0,764.9 L546.7,764.8 L547.4,765.3 L548.1,765.5 L548.8,765.3 L549.5,765.3 L550.2,765.4 L550.9,764.9 L551.6,764.4 L552.3,764.8 L553.0,765.4 L553.7,765.4 L554.4,765.8 L555.1,766.4 L555.8,766.3 L556.5,765.9 L557.2,765.7 L557.9,765.8 L558.6,765.5 L559.3,765.6 L560.0,766.1 L560.7,766.3 L561.4,766.7 L562.1,766.5 L562.8,766.0 L563.5,766.3 L564.2,766.3 L564.9,765.5 L565.6,765.2 L566.3,765.5 L567.0,766.0 L567.7,766.2 L568.4,766.0 L569.1,765.7 L569.8,765.9 L570.5,766.7 L571.2,766.8 L571.9,766.1 L572.6,765.7 L573.3,766.1 L574.0,766.4 L574.7,766.6 L575.4,767.0 L576.1,766.6 L576.8,765.7 L577.5,765.8 L578.2,766.5 L578.9,766.6 L579.6,766.5 L580.3,766.1 L581.0,765.8 L581.7,766.4 L582.4,766.9 L583.1,766.4 L583.8,765.7 L584.5,765.7 L585.2,766.0 L585.9,766.4 L586.6,767.0 L587.3,767.2 L588.0,766.6 L588.7,766.1 L589.4,766.2 L590.1,766.2 L590.8,766.1 L591.5,766.2 L592.2,766.0 L592.9,765.9 L593.6,766.2 L594.3,766.0 L595.0,765.9 L595.7,766.2 L596.4,766.5 L597.1,767.0 L597.8,766.8 L598.5,766.2 L599.2,765.9 L599.9,766.1 L600.6,766.4 L601.3,766.3 L602.0,766.0 L602.7,765.6 L603.4,766.1 L604.1,766.7 L604.8,766.6 L605.5,766.5 L606.2,766.5 L606.9,765.9 L607.6,765.7 L608.3,766.4 L609.0,766.9 L609.7,766.7 L610.4,766.4 L611.1,766.5 L611.8,766.3 L612.5,765.3 L613.2,764.7 L613.9,765.0 L614.6,765.4 L615.3,765.5 L616.0,765.5 L616.7,765.8 L617.4,766.3 L618.1,766.4 L618.8,766.7 L619.5,766.9 L620.2,766.4 L620.9,766.4 L621.6,766.6 L622.3,765.8 L623.0,765.7 L623.7,766.6 L624.4,766.9 L625.1,766.8 L625.8,766.9 L626.5,766.8 L627.2,766.4 L627.9,766.0 L628.6,766.0 L629.3,766.3 L630.0,766.4 L630.7,766.4 L631.4,767.2 L632.1,767.5 L632.8,766.7 L633.5,766.7 L634.2,767.2 L634.9,766.9 L635.6,766.6 L636.3,766.9 L637.0,766.9 L637.7,766.4 L638.4,766.3 L639.1,766.7 L639.8,767.0 L640.5,767.4 L641.2,767.5 L641.9,766.9 L642.6,766.6 L643.3,766.6 L644.0,766.7 L644.7,766.6 L645.4,766.0 L646.1,765.7 L646.8,766.0 L647.5,766.7 L648.2,767.3 L648.9,766.9 L649.6,766.1 L650.3,766.1 L651.0,766.4 L651.7,766.4 L652.4,766.6 L653.1,766.8 L653.8,766.6 L654.5,765.8 L655.2,765.5 L655.9,765.6 L656.6,765.7 L657.3,766.1 L658.0,766.2 L658.7,765.9 L659.4,766.0 L660.1,766.6 L660.8,767.2 L661.5,766.6 L662.2,765.8 L662.9,766.3 L663.6,766.6 L664.3,766.3 L665.0,766.3 L665.7,766.7 L666.4,766.8 L667.1,766.5 L667.8,766.0 L668.5,765.7 L669.2,765.4 L669.9,765.3 L670.6,765.6 L671.3,765.7 L672.0,766.5 L672.7,767.4 L673.4,766.9 L674.1,765.7 L674.8,765.1 L675.5,765.3 L676.2,765.2 L676.9,765.3 L677.6,766.1 L678.3,766.4 L679.0,767.0 L679.7,767.7 L680.4,767.1 L681.1,766.5 L681.8,766.4 L682.5,766.1 L683.2,765.9 L683.9,766.3 L684.6,766.7 L685.3,766.2 L686.0,765.5 L686.7,765.4 L687.4,765.7 L688.1,766.2 L688.8,766.6 L689.5,766.9 L690.2,766.9 L690.9,766.7 L691.6,766.7 L692.3,766.8 L693.0,766.4 L693.7,766.0 L694.4,766.2 L695.1,765.8 L695.8,765.8 L696.5,766.4 L697.2,766.8 L697.9,767.1 L698.6,766.6 L699.3,766.1 L700.0,766.2 L700.7,766.6 L701.4,767.3 L702.1,767.6 L702.8,767.0 L703.5,766.5 L704.2,766.6 L704.9,766.7 L705.6,766.2 L706.3,766.1 L707.0,766.8 L707.7,766.9 L708.4,766.5 L709.1,765.9 L709.8,765.9 L710.5,766.5 L711.2,766.4 L711.9,765.6 L712.6,765.6 L713.3,766.2 L714.0,767.1 L714.7,766.8 L715.4,766.4 L716.1,767.2 L716.8,767.2 L717.5,765.8 L718.2,765.4 L718.9,766.2 L719.6,766.4 L720.3,766.2 L721.0,766.5 L721.7,767.2 L722.4,767.5 L723.1,767.1 L723.8,766.6 L724.5,766.7 L725.2,766.5 L725.9,766.2 L726.6,766.6 L727.3,766.7 L728.0,766.6 L728.7,766.8 L729.4,767.1 L730.1,767.5 L730.8,767.5 L731.5,766.6 L732.2,766.1 L732.9,766.2 L733.6,766.4 L734.3,766.6 L735.0,766.4 L735.7,766.6 L736.4,767.1 L737.1,767.1 L737.8,767.1 L738.5,767.4 L739.2,767.0 L739.9,766.2 L740.6,766.4 L741.3,766.6 L742.0,766.3 L742.7,766.2 L743.4,766.5 L744.1,766.7 L744.8,767.0 L745.5,767.3 L746.2,767.1 L746.9,766.3 L747.6,766.3 L748.3,766.6 L749.0,766.5 L749.7,766.5 L750.4,767.0 L751.1,767.1 L751.8,767.2 L752.5,767.1 L753.2,766.8 L753.9,766.6 L754.6,766.4 L755.3,766.5 L756.0,766.4 L756.7,765.7 L757.4,765.5 L758.1,766.5 L758.8,766.9 L759.5,766.5 L760.2,766.2 L760.9,766.4 L761.6,766.7 L762.3,766.9 L763.0,767.0 L763.7,766.6 L764.4,766.3 L765.1,766.5 L765.8,766.4 L766.5,766.1 L767.2,765.8 L767.9,766.1 L768.6,766.6 L769.3,766.4 L770.0,766.4" fill="none" stroke="#000000" stroke-width="3.00" stroke-linejoin="round" stroke-linecap="round"/>
<path d="M70.0,765.8 L70.7,765.4 L71.4,764.3 L72.1,764.6 L72.8,765.6 L73.5,765.9 L74.2,765.8 L74.9,765.8 L75.6,765.5 L76.3,765.3 L77.0,765.0 L77.7,764.4 L78.4,764.5 L79.1,764.9 L79.8,765.1 L80.5,765.6 L81.2,766.1 L81.9,765.9 L82.6,765.6 L83.3,765.3 L84.0,764.7 L84.7,764.5 L85.4,764.9 L86.1,764.8 L86.8,764.0 L87.5,764.0 L88.2,764.6 L88.9,764.9 L89.6,765.3 L90.3,765.4 L91.0,765.2 L91.7,765.2 L92.4,765.3 L93.1,765.3 L93.8,765.2 L94.5,764.9 L95.2,764.6 L95.9,764.7 L96.6,765.0 L97.3,764.8 L98.0,764.9 L98.7,765.4 L99.4,765.1 L100.1,764.8 L100.8,765.3 L101.5,765.6 L102.2,765.3 L102.9,765.1 L103.6,764.7 L104.3,764.4 L105.0,765.0 L105.7,765.3 L106.4,764.9 L107.1,764.4 L107.8,763.9 L108.5,763.8 L109.2,764.4 L109.9,764.8 L110.6,764.7 L111.3,765.0 L112.0,765.2 L112.7,765.1 L113.4,765.3 L114.1,765.2 L114.8,764.6 L115.5,764.4 L116.2,764.2 L116.9,764.5 L117.6,764.7 L118.3,764.3 L119.0,764.1 L119.7,764.3 L120.4,764.5 L121.1,764.4 L121.8,764.4 L122.5,764.4 L123.2,764.2 L123.9,764.2 L124.6,764.6 L125.3,764.7 L126.0,764.1 L126.7,764.3 L127.4,764.8 L128.1,764.2 L128.8,763.9 L129.5,764.3 L130.2,764.6 L130.9,764.6 L131.6,764.3 L132.3,764.5 L133.0,764.9 L133.7,764.8 L134.4,764.5 L135.1,764.6 L135.8,764.0 L136.5,763.4 L137.2,763.7 L137.9,764.2 L138.6,764.3 L139.3,764.5 L140.0,764.7 L140.7,764.5 L141.4,764.6 L142.1,764.5 L142.8,763.4 L143.5,763.0 L144.2,763.4 L144.9,763.1 L145.6,762.8 L146.3,763.2 L147.0,763.2 L147.7,763.2 L148.4,764.3 L149.1,765.1 L149.8,764.8 L150.5,764.2 L151.2,763.8 L151.9,763.7 L152.6,763.8 L153.3,763.9 L154.0,764.0 L154.7,764.2 L155.4,764.5 L156.1,764.8 L156.8,764.3 L157.5,763.2 L158.2,763.0 L158.9,763.6 L159.6,763.9 L160.3,764.0 L161.0,764.1 L161.7,764.2 L162.4,764.4 L163.1,764.4 L163.8,764.0 L164.5,763.9 L165.2,764.4 L165.9,764.4 L166.6,764.3 L167.3,764.4 L168.0,764.4 L168.7,764.1 L169.4,763.9 L170.1,763.7 L170.8,763.3 L171.5,763.3 L172.2,763.5 L172.9,763.4 L173.6,763.7 L174.3,764.2 L175.0,763.6 L175.7,763.7 L176.4,764.3 L177.1,763.9 L177.8,763.8 L178.5,763.9 L179.2,763.2 L179.9,762.5 L180.6,762.5 L181.3,763.2 L182.0,763.1 L182.7,762.6 L183.4,762.8 L184.1,763.2 L184.8,763.5 L185.5,763.3 L186.2,762.8 L186.9,762.8 L187.6,763.3 L188.3,764.2 L189.0,764.6 L189.7,763.8 L190.4,763.3 L191.1,763.3 L191.8,763.2 L192.5,763.3 L193.2,763.2 L193.9,762.8 L194.6,762.6 L195.3,762.9 L196.0,763.2 L196.7,763.2 L197.4,763.5 L198.1,763.3 L198.8,763.1 L199.5,763.0 L200.2,762.7 L200.9,763.1 L201.6,763.4 L202.3,762.7 L203.0,762.5 L203.7,763.0 L204.4,763.2 L205.1,762.8 L205.8,762.6 L206.5,762.7 L207.2,762.2 L207.9,761.6 L208.6,761.8 L209.3,761.7 L210.0,761.5 L210.7,761.7 L211.4,761.8 L212.1,761.7 L212.8,761.2 L213.5,760.8 L214.2,761.2 L214.9,762.2 L215.6,762.7 L216.3,762.7 L217.0,762.6 L217.7,762.3 L218.4,761.7 L219.1,761.0 L219.8,761.1 L220.5,761.1 L221.2,760.8 L221.9,761.0 L222.6,761.5 L223.3,761.2 L224.0,760.7 L224.7,761.0 L225.4,760.9 L226.1,760.5 L226.8,760.4 L227.5,760.0 L228.2,759.4 L228.9,759.8 L229.6,760.7 L230.3,761.0 L231.0,760.6 L231.7,760.0 L232.4,760.1 L233.1,760.5 L233.8,760.5 L234.5,760.0 L235.2,760.0 L235.9,760.5 L236.6,760.4 L237.3,759.9 L238.0,759.6 L238.7,760.0 L239.4,760.7 L240.1,760.6 L240.8,759.7 L241.5,759.6 L242.2,760.6 L242.9,761.0 L243.6,760.7 L244.3,759.9 L245.0,758.8 L245.7,758.8 L246.4,759.4 L247.1,759.5 L247.8,759.4 L248.5,759.1 L249.2,759.1 L249.9,759.3 L250.6,759.2 L251.3,759.1 L252.0,759.2 L252.7,759.4 L253.4,759.8 L254.1,759.4 L254.8,758.5 L255.5,758.3 L256.2,758.6 L256.9,758.6 L257.6,758.5 L258.3,758.8 L259.0,759.0 L259.7,758.6 L260.4,758.0 L261.1,757.8 L261.8,757.8 L262.5,758.3 L263.2,758.3 L263.9,757.4 L264.6,757.3 L265.3,757.6 L266.0,757.9 L266.7,758.2 L267.4,758.0 L268.1,757.5 L268.8,757.4 L269.5,757.9 L270.2,757.9 L270.9,757.7 L271.6,757.0 L272.3,756.0 L273.0,755.7 L273.7,756.2 L274.4,756.7 L275.1,756.8 L275.8,756.8 L276.5,756.8 L277.2,756.8 L277.9,756.9 L278.6,756.2 L279.3,755.4 L280.0,755.8 L280.7,756.3 L281.4,756.1 L282.1,756.4 L282.8,756.5 L283.5,755.7 L284.2,755.2 L284.9,755.0 L285.6,755.1 L286.3,754.7 L287.0,754.2 L287.7,754.3 L288.4,754.3 L289.1,754.3 L289.8,754.4 L290.5,754.2 L291.2,754.1 L291.9,754.8 L292.6,755.1 L293.3,754.2 L294.0,753.2 L294.7,753.1 L295.4,753.4 L296.1,753.3 L296.8,752.7 L297.5,752.0 L298.2,751.8 L298.9,752.2 L299.6,752.7 L300.3,752.0 L301.0,751.3 L301.7,752.1 L302.4,752.8 L303.1,752.1 L303.8,750.9 L304.5,751.2 L305.2,751.9 L305.9,751.6 L306.6,750.8 L307.3,750.1 L308.0,750.2 L308.7,750.6 L309.4,750.8 L310.1,750.7 L310.8,750.5 L311.5,750.2 L312.2,749.6 L312.9,749.3 L313.6,749.6 L314.3,749.6 L315.0,749.5 L315.7,749.7 L316.4,749.2 L317.1,748.5 L317.8,748.3 L318.5,747.9 L319.2,747.4 L319.9,747.5 L320.6,748.3 L321.3,747.9 L322.0,747.2 L322.7,747.5 L323.4,747.5 L324.1,747.0 L324.8,747.2 L325.5,747.4 L326.2,746.8 L326.9,746.4 L327.6,746.1 L328.3,745.1 L329.0,744.4 L329.7,744.3 L330.4,744.8 L331.1,744.9 L331.8,744.1 L332.5,743.7 L333.2,743.9 L333.9,744.0 L334.6,744.0 L335.3,743.7 L336.0,743.4 L336.7,743.2 L337.4,742.9 L338.1,742.4 L338.8,742.5 L339.5,743.7 L340.2,744.3 L340.9,743.1 L341.6,741.9 L342.3,742.1 L343.0,742.2 L343.7,741.4 L344.4,741.2 L345.1,741.3 L345.8,741.0 L346.5,741.2 L347.2,741.5 L347.9,741.2 L348.6,741.3 L349.3,741.5 L350.0,740.5 L350.7,740.0 L351.4,741.0 L352.1,741.6 L352.8,741.0 L353.5,740.3 L354.2,739.6 L354.9,739.8 L355.6,740.7 L356.3,740.9 L357.0,740.2 L357.7,739.4 L358.4,738.8 L359.1,738.7 L359.8,738.9 L360.5,739.2 L361.2,739.0 L361.9,739.0 L362.6,739.4 L363.3,739.5 L364.0,739.2 L364.7,739.1 L365.4,738.5 L366.1,738.0 L366.8,738.2 L367.5,738.4 L368.2,738.4 L368.9,738.5 L369.6,738.6 L370.3,738.8 L371.0,738.7 L371.7,738.5 L372.4,738.6 L373.1,738.5 L373.8,738.8 L374.5,739.0 L375.2,738.7 L375.9,738.1 L376.6,737.8 L377.3,738.1 L378.0,738.0 L378.7,737.7 L379.4,737.7 L380.1,737.9 L380.8,738.1 L381.5,738.5 L382.2,739.2 L382.9,739.6 L383.6,739.4 L384.3,738.9 L385.0,738.8 L385.7,739.5 L386.4,740.5 L387.1,740.6 L387.8,740.1 L388.5,740.5 L389.2,740.9 L389.9,740.2 L390.6,740.4 L391.3,741.2 L392.0,741.1 L392.7,740.9 L393.4,741.6 L394.1,742.0 L394.8,741.6 L395.5,741.1 L396.2,741.6 L396.9,742.4 L397.6,742.6 L398.3,742.5 L399.0,742.7 L399.7,743.0 L400.4,743.0 L401.1,743.2 L401.8,743.1 L402.5,743.1 L403.2,743.4 L403.9,743.0 L404.6,743.0 L405.3,743.3 L406.0,742.9 L406.7,743.0 L407.4,743.7 L408.1,744.1 L408.8,744.4 L409.5,745.3 L410.2,745.8 L410.9,745.8 L411.6,746.2 L412.3,746.0 L413.0,745.1 L413.7,744.4 L414.4,744.9 L415.1,746.2 L415.8,746.6 L416.5,746.5 L417.2,747.0 L417.9,747.4 L418.6,746.9 L419.3,746.5 L420.0,746.9 L420.7,747.6 L421.4,748.3 L422.1,748.4 L422.8,748.2 L423.5,748.4 L424.2,748.7 L424.9,749.1 L425.6,749.8 L426.3,749.9 L427.0,749.4 L427.7,749.1 L428.4,749.2 L429.1,749.4 L429.8,749.6 L430.5,749.8 L431.2,749.7 L431.9,749.5 L432.6,749.7 L433.3,750.8 L434.0,751.7 L434.7,751.6 L435.4,751.3 L436.1,751.2 L436.8,751.4 L437.5,751.8 L438.2,751.3 L438.9,750.6 L439.6,750.7 L440.3,751.1 L441.0,751.0 L441.7,750.9 L442.4,750.9 L443.1,751.0 L443.8,751.2 L444.5,751.6 L445.2,751.8 L445.9,750.8 L446.6,750.7 L447.3,751.6 L448.0,751.8 L448.7,751.6 L449.4,751.6 L450.1,751.6 L450.8,751.6 L451.5,751.6 L452.2,751.3 L452.9,751.0 L453.6,751.0 L454.3,751.0 L455.0,750.8 L455.7,750.9 L456.4,751.0 L457.1,750.7 L457.8,750.3 L458.5,749.7 L459.2,749.5 L459.9,749.5 L460.6,749.2 L461.3,749.2 L462.0,749.1 L462.7,748.3 L463.4,747.7 L464.1,747.5 L464.8,747.0 L465.5,747.2 L466.2,747.5 L466.9,747.1 L467.6,746.8 L468.3,746.8 L469.0,746.7 L469.7,746.2 L470.4,745.0 L471.1,743.8 L471.8,744.1 L472.5,744.7 L473.2,744.1 L473.9,743.7 L474.6,743.5 L475.3,742.8 L476.0,742.5 L476.7,742.3 L477.4,741.8 L478.1,741.3 L478.8,740.7 L479.5,739.9 L480.2,739.5 L480.9,739.1 L481.6,738.9 L482.3,738.8 L483.0,738.1 L483.7,737.0 L484.4,736.3 L485.1,736.3 L485.8,736.4 L486.5,735.7 L487.2,735.2 L487.9,734.6 L488.6,733.5 L489.3,732.9 L490.0,732.4 L490.7,731.6 L491.4,731.1 L492.1,730.5 L492.8,730.0 L493.5,729.1 L494.2,728.4 L494.9,727.7 L495.6,726.5 L496.3,725.6 L497.0,725.0 L497.7,724.5 L498.4,723.9 L499.1,723.0 L499.8,722.1 L500.5,721.4 L501.2,721.0 L501.9,720.4 L502.6,720.1 L503.3,719.5 L504.0,718.6 L504.7,718.4 L505.4,718.6 L506.1,718.8 L506.8,718.2 L507.5,717.2 L508.2,717.5 L508.9,717.9 L509.6,717.5 L510.3,717.2 L511.0,716.8 L511.7,716.6 L512.4,716.4 L513.1,715.3 L513.8,714.9 L514.5,715.6 L515.2,715.9 L515.9,715.7 L516.6,715.8 L517.3,715.7 L518.0,715.5 L518.7,715.6 L519.4,715.5 L520.1,715.3 L520.8,715.6 L521.5,716.0 L522.2,716.3 L522.9,716.9 L523.6,717.3 L524.3,717.9 L525.0,718.2 L525.7,717.6 L526.4,717.9 L527.1,719.0 L527.8,719.7 L528.5,720.5 L529.2,721.3 L529.9,721.7 L530.6,722.3 L531.3,722.9 L532.0,723.7 L532.7,724.9 L533.4,726.1 L534.1,727.2 L534.8,728.0 L535.5,728.8 L536.2,729.1 L536.9,729.1 L537.6,729.9 L538.3,731.2 L539.0,732.0 L539.7,732.4 L540.4,733.1 L541.1,733.5 L541.8,733.9 L542.5,735.1 L543.2,736.2 L543.9,736.8 L544.6,737.7 L545.3,738.4 L546.0,738.7 L546.7,739.1 L547.4,739.8 L548.1,740.6 L548.8,740.9 L549.5,741.1 L550.2,742.0 L550.9,743.1 L551.6,744.0 L552.3,744.1 L553.0,744.2 L553.7,744.5 L554.4,744.6 L555.1,744.9 L555.8,746.0 L556.5,747.1 L557.2,747.6 L557.9,747.5 L558.6,747.9 L559.3,748.5 L560.0,748.8 L560.7,749.3 L561.4,749.8 L562.1,750.0 L562.8,749.9 L563.5,749.9 L564.2,750.4 L564.9,750.7 L565.6,751.4 L566.3,752.2 L567.0,752.9 L567.7,753.0 L568.4,752.4 L569.1,752.7 L569.8,753.4 L570.5,753.9 L571.2,754.1 L571.9,754.1 L572.6,754.0 L573.3,754.2 L574.0,754.4 L574.7,754.6 L575.4,755.2 L576.1,755.4 L576.8,755.3 L577.5,755.4 L578.2,755.7 L578.9,756.2 L579.6,756.6 L580.3,756.8 L581.0,756.5 L581.7,756.5 L582.4,757.1 L583.1,757.2 L583.8,756.8 L584.5,757.0 L585.2,757.0 L585.9,756.7 L586.6,756.9 L587.3,757.4 L588.0,757.7 L588.7,757.8 L589.4,757.9 L590.1,758.1 L590.8,757.9 L591.5,757.4 L592.2,757.6 L592.9,758.0 L593.6,757.7 L594.3,757.7 L595.0,758.4 L595.7,759.0 L596.4,758.9 L597.1,758.8 L597.8,759.0 L598.5,759.1 L599.2,759.6 L599.9,759.5 L600.6,759.2 L601.3,759.6 L602.0,760.0 L602.7,759.9 L603.4,760.2 L604.1,760.7 L604.8,761.1 L605.5,760.8 L606.2,760.4 L606.9,760.1 L607.6,759.8 L608.3,760.3 L609.0,760.8 L609.7,760.6 L610.4,760.4 L611.1,761.0 L611.8,761.3 L612.5,760.5 L613.2,760.1 L613.9,760.3 L614.6,760.1 L615.3,759.8 L616.0,760.7 L616.7,761.4 L617.4,760.8 L618.1,760.6 L618.8,761.3 L619.5,761.3 L620.2,760.8 L620.9,760.9 L621.6,761.5 L622.3,761.9 L623.0,761.8 L623.7,761.3 L624.4,761.5 L625.1,762.1 L625.8,761.8 L626.5,761.4 L627.2,761.4 L627.9,761.1 L628.6,761.5 L629.3,762.5 L630.0,762.8 L630.7,762.7 L631.4,762.4 L632.1,761.8 L632.8,762.1 L633.5,763.2 L634.2,763.8 L634.9,763.1 L635.6,762.2 L636.3,762.4 L637.0,763.3 L637.7,763.2 L638.4,762.6 L639.1,762.9 L639.8,763.7 L640.5,763.6 L641.2,763.0 L641.9,762.9 L642.6,762.9 L643.3,762.3 L644.0,762.0 L644.7,762.7 L645.4,763.6 L646.1,763.9 L646.8,763.3 L647.5,762.4 L648.2,761.9 L648.9,762.4 L649.6,763.2 L650.3,763.4 L651.0,763.1 L651.7,762.7 L652.4,762.1 L653.1,762.1 L653.8,762.6 L654.5,762.6 L655.2,762.2 L655.9,762.4 L656.6,762.8 L657.3,762.8 L658.0,762.7 L658.7,762.7 L659.4,763.2 L660.1,763.9 L660.8,763.8 L661.5,763.7 L662.2,763.9 L662.9,764.1 L663.6,763.9 L664.3,763.5 L665.0,763.8 L665.7,763.6 L666.4,763.3 L667.1,763.7 L667.8,763.9 L668.5,763.9 L669.2,763.7 L669.9,763.0 L670.6,762.6 L671.3,763.4 L672.0,764.2 L672.7,764.2 L673.4,763.8 L674.1,763.5 L674.8,763.9 L675.5,764.2 L676.2,763.7 L676.9,763.6 L677.6,764.1 L678.3,764.3 L679.0,764.4 L679.7,764.6 L680.4,764.1 L681.1,763.2 L681.8,763.2 L682.5,764.0 L683.2,764.3 L683.9,764.2 L684.6,764.6 L685.3,764.9 L686.0,765.0 L686.7,764.8 L687.4,764.4 L688.1,764.2 L688.8,764.1 L689.5,764.0 L690.2,764.4 L690.9,764.9 L691.6,764.8 L692.3,764.3 L693.0,763.8 L693.7,763.6 L694.4,763.8 L695.1,764.1 L695.8,764.5 L696.5,764.7 L697.2,764.9 L697.9,764.7 L698.6,764.2 L699.3,764.2 L700.0,764.7 L700.7,764.7 L701.4,764.2 L702.1,764.3 L702.8,764.9 L703.5,765.1 L704.2,764.7 L704.9,764.3 L705.6,764.1 L706.3,764.4 L707.0,764.7 L707.7,765.0 L708.4,765.0 L709.1,765.0 L709.8,765.0 L710.5,764.8 L711.2,764.7 L711.9,764.3 L712.6,763.6 L713.3,763.6 L714.0,764.2 L714.7,764.7 L715.4,765.1 L716.1,765.2 L716.8,764.8 L717.5,764.6 L718.2,764.5 L718.9,764.2 L719.6,764.2 L720.3,764.3 L721.0,764.4 L721.7,764.4 L722.4,764.8 L723.1,765.6 L723.8,766.0 L724.5,766.0 L725.2,765.3 L725.9,764.6 L726.6,764.4 L727.3,764.2 L728.0,764.1 L728.7,764.4 L729.4,764.3 L730.1,763.8 L730.8,763.6 L731.5,764.0 L732.2,764.5 L732.9,764.4 L733.6,764.2 L734.3,764.5 L735.0,765.4 L735.7,765.9 L736.4,765.6 L737.1,765.1 L737.8,764.8 L738.5,764.6 L739.2,764.4 L739.9,764.5 L740.6,764.9 L741.3,765.2 L742.0,765.4 L742.7,765.3 L743.4,764.8 L744.1,764.3 L744.8,764.4 L745.5,764.8 L746.2,765.0 L746.9,765.1 L747.6,764.7 L748.3,764.8 L749.0,765.2 L749.7,764.5 L750.4,764.5 L751.1,765.2 L751.8,765.1 L752.5,765.1 L753.2,765.5 L753.9,764.8 L754.6,764.3 L755.3,764.9 L756.0,765.0 L756.7,765.1 L757.4,765.1 L758.1,764.6 L758.8,764.5 L759.5,765.0 L760.2,765.0 L760.9,764.9 L761.6,765.4 L762.3,765.2 L763.0,764.6 L763.7,764.9 L764.4,765.5 L765.1,765.8 L765.8,765.8 L766.5,765.6 L767.2,765.3 L767.9,764.7 L768.6,764.3 L769.3,764.9 L770.0,765.2" fill="none" stroke="#ff0000" stroke-width="3.00" stroke-linejoin="round" stroke-linecap="round"/>
<path d="M70.0,749.9 L70.7,749.8 L71.4,749.5 L72.1,749.2 L72.8,749.2 L73.5,749.2 L74.2,749.8 L74.9,750.1 L75.6,749.6 L76.3,749.4 L77.0,749.7 L77.7,749.8 L78.4,749.5 L79.1,749.1 L79.8,749.4 L80.5,749.4 L81.2,748.9 L81.9,748.5 L82.6,748.2 L83.3,748.0 L84.0,748.2 L84.7,748.5 L85.4,748.7 L86.1,749.0 L86.8,749.2 L87.5,748.5 L88.2,747.9 L88.9,748.3 L89.6,748.8 L90.3,748.6 L91.0,748.2 L91.7,748.1 L92.4,748.1 L93.1,748.4 L93.8,748.8 L94.5,748.5 L95.2,748.6 L95.9,748.8 L96.6,748.4 L97.3,748.3 L98.0,748.4 L98.7,748.2 L99.4,747.8 L100.1,748.3 L100.8,748.4 L101.5,748.0 L102.2,748.1 L102.9,748.1 L103.6,748.1 L104.3,748.7 L105.0,748.3 L105.7,747.5 L106.4,747.6 L107.1,747.8 L107.8,747.7 L108.5,747.7 L109.2,747.7 L109.9,747.9 L110.6,747.9 L111.3,747.3 L112.0,747.0 L112.7,746.9 L113.4,746.7 L114.1,746.3 L114.8,746.3 L115.5,746.7 L116.2,747.2 L116.9,746.9 L117.6,746.0 L118.3,745.9 L119.0,746.0 L119.7,745.4 L120.4,745.5 L121.1,746.1 L121.8,746.5 L122.5,746.3 L123.2,745.6 L123.9,745.3 L124.6,745.6 L125.3,745.8 L126.0,745.2 L126.7,744.9 L127.4,745.0 L128.1,744.7 L128.8,744.3 L129.5,744.0 L130.2,744.0 L130.9,744.2 L131.6,744.5 L132.3,744.3 L133.0,743.9 L133.7,743.7 L134.4,743.6 L135.1,743.6 L135.8,743.4 L136.5,742.9 L137.2,742.4 L137.9,742.1 L138.6,741.4 L139.3,741.1 L140.0,741.4 L140.7,741.6 L141.4,742.2 L142.1,742.4 L142.8,741.5 L143.5,741.0 L144.2,741.3 L144.9,741.3 L145.6,741.0 L146.3,740.9 L147.0,741.1 L147.7,740.8 L148.4,740.2 L149.1,740.2 L149.8,740.1 L150.5,739.8 L151.2,739.8 L151.9,739.9 L152.6,740.1 L153.3,740.1 L154.0,739.6 L154.7,739.3 L155.4,738.9 L156.1,738.3 L156.8,738.5 L157.5,738.6 L158.2,738.4 L158.9,738.5 L159.6,738.5 L160.3,738.5 L161.0,738.6 L161.7,738.7 L162.4,738.3 L163.1,738.0 L163.8,738.7 L164.5,739.0 L165.2,738.2 L165.9,737.8 L166.6,737.5 L167.3,737.5 L168.0,737.8 L168.7,737.5 L169.4,737.1 L170.1,736.9 L170.8,736.6 L171.5,736.7 L172.2,737.2 L172.9,737.3 L173.6,737.2 L174.3,736.8 L175.0,736.3 L175.7,736.1 L176.4,736.1 L177.1,736.1 L177.8,736.0 L178.5,735.7 L179.2,735.3 L179.9,735.7 L180.6,736.2 L181.3,735.6 L182.0,735.2 L182.7,735.8 L183.4,735.8 L184.1,735.0 L184.8,734.8 L185.5,734.5 L186.2,734.4 L186.9,734.9 L187.6,735.0 L188.3,734.6 L189.0,734.5 L189.7,734.5 L190.4,734.3 L191.1,733.9 L191.8,733.5 L192.5,733.6 L193.2,734.1 L193.9,733.9 L194.6,733.7 L195.3,733.5 L196.0,733.1 L196.7,733.1 L197.4,733.2 L198.1,732.9 L198.8,732.7 L199.5,732.9 L200.2,733.1 L200.9,732.9 L201.6,732.3 L202.3,731.5 L203.0,731.3 L203.7,731.8 L204.4,731.9 L205.1,731.4 L205.8,731.3 L206.5,731.3 L207.2,731.2 L207.9,730.7 L208.6,730.4 L209.3,730.1 L210.0,729.6 L210.7,729.6 L211.4,729.7 L212.1,729.8 L212.8,729.9 L213.5,729.2 L214.2,727.7 L214.9,727.3 L215.6,727.6 L216.3,727.3 L217.0,727.3 L217.7,727.1 L218.4,725.9 L219.1,725.5 L219.8,726.1 L220.5,726.2 L221.2,725.9 L221.9,725.5 L222.6,724.8 L223.3,724.4 L224.0,724.5 L224.7,724.1 L225.4,723.8 L226.1,724.2 L226.8,724.3 L227.5,723.9 L228.2,723.3 L228.9,722.8 L229.6,722.5 L230.3,722.5 L231.0,722.5 L231.7,722.4 L232.4,722.4 L233.1,722.7 L233.8,722.5 L234.5,721.7 L235.2,721.5 L235.9,721.3 L236.6,720.6 L237.3,720.0 L238.0,720.1 L238.7,720.3 L239.4,720.0 L240.1,719.6 L240.8,719.5 L241.5,719.5 L242.2,718.6 L242.9,717.5 L243.6,717.1 L244.3,716.4 L245.0,715.9 L245.7,716.8 L246.4,717.5 L247.1,716.8 L247.8,715.8 L248.5,715.7 L249.2,716.0 L249.9,715.7 L250.6,715.0 L251.3,714.6 L252.0,714.4 L252.7,714.3 L253.4,713.8 L254.1,713.0 L254.8,712.3 L255.5,712.0 L256.2,711.8 L256.9,711.4 L257.6,710.6 L258.3,710.1 L259.0,709.7 L259.7,709.3 L260.4,709.8 L261.1,709.4 L261.8,708.4 L262.5,707.9 L263.2,706.9 L263.9,705.7 L264.6,705.6 L265.3,705.5 L266.0,704.7 L266.7,703.9 L267.4,703.4 L268.1,703.4 L268.8,703.2 L269.5,702.6 L270.2,702.1 L270.9,701.8 L271.6,700.9 L272.3,699.8 L273.0,699.6 L273.7,700.1 L274.4,700.2 L275.1,699.6 L275.8,699.0 L276.5,698.3 L277.2,697.8 L277.9,697.2 L278.6,696.8 L279.3,696.8 L280.0,696.8 L280.7,696.3 L281.4,695.4 L282.1,694.6 L282.8,694.6 L283.5,694.9 L284.2,694.4 L284.9,693.4 L285.6,692.5 L286.3,691.8 L287.0,691.7 L287.7,691.2 L288.4,690.0 L289.1,688.9 L289.8,688.3 L290.5,687.5 L291.2,686.7 L291.9,686.4 L292.6,686.4 L293.3,686.3 L294.0,685.9 L294.7,685.9 L295.4,685.6 L296.1,684.3 L296.8,682.9 L297.5,681.5 L298.2,679.7 L298.9,678.2 L299.6,678.0 L300.3,677.7 L301.0,676.4 L301.7,675.2 L302.4,674.6 L303.1,674.0 L303.8,673.1 L304.5,672.6 L305.2,672.3 L305.9,671.3 L306.6,670.6 L307.3,669.6 L308.0,667.9 L308.7,666.7 L309.4,665.6 L310.1,663.7 L310.8,661.8 L311.5,660.6 L312.2,660.4 L312.9,660.3 L313.6,659.2 L314.3,657.6 L315.0,656.5 L315.7,656.0 L316.4,655.3 L317.1,654.4 L317.8,653.3 L318.5,651.9 L319.2,650.2 L319.9,648.7 L320.6,647.4 L321.3,646.1 L322.0,645.5 L322.7,644.9 L323.4,643.7 L324.1,642.0 L324.8,640.7 L325.5,639.9 L326.2,638.7 L326.9,638.2 L327.6,638.4 L328.3,637.8 L329.0,636.3 L329.7,634.9 L330.4,634.2 L331.1,633.8 L331.8,633.7 L332.5,633.4 L333.2,631.8 L333.9,630.1 L334.6,629.1 L335.3,628.7 L336.0,627.8 L336.7,626.9 L337.4,626.2 L338.1,625.6 L338.8,625.6 L339.5,625.3 L340.2,624.4 L340.9,623.3 L341.6,622.6 L342.3,621.8 L343.0,620.9 L343.7,620.0 L344.4,618.8 L345.1,618.2 L345.8,618.0 L346.5,617.1 L347.2,616.2 L347.9,615.0 L348.6,613.3 L349.3,612.5 L350.0,612.4 L350.7,612.0 L351.4,611.5 L352.1,611.3 L352.8,610.5 L353.5,609.4 L354.2,609.2 L354.9,609.5 L355.6,608.9 L356.3,608.2 L357.0,608.5 L357.7,608.6 L358.4,608.0 L359.1,607.1 L359.8,606.1 L360.5,606.1 L361.2,606.4 L361.9,606.0 L362.6,605.3 L363.3,604.6 L364.0,603.8 L364.7,603.4 L365.4,603.7 L366.1,604.2 L366.8,604.3 L367.5,605.1 L368.2,605.5 L368.9,605.6 L369.6,606.1 L370.3,606.9 L371.0,607.4 L371.7,607.5 L372.4,607.5 L373.1,607.6 L373.8,607.5 L374.5,607.5 L375.2,608.2 L375.9,608.4 L376.6,608.0 L377.3,608.1 L378.0,608.2 L378.7,608.9 L379.4,610.3 L380.1,612.0 L380.8,613.7 L381.5,615.1 L382.2,616.4 L382.9,617.4 L383.6,618.2 L384.3,619.2 L385.0,620.0 L385.7,620.7 L386.4,621.0 L387.1,621.2 L387.8,622.0 L388.5,623.1 L389.2,623.8 L389.9,624.1 L390.6,624.5 L391.3,625.4 L392.0,626.6 L392.7,627.3 L393.4,628.1 L394.1,630.0 L394.8,631.5 L395.5,632.0 L396.2,632.9 L396.9,634.3 L397.6,635.7 L398.3,637.2 L399.0,638.3 L399.7,639.6 L400.4,641.1 L401.1,642.3 L401.8,643.5 L402.5,644.5 L403.2,645.2 L403.9,647.0 L404.6,649.2 L405.3,650.4 L406.0,651.3 L406.7,652.6 L407.4,653.7 L408.1,655.1 L408.8,656.3 L409.5,656.5 L410.2,656.9 L410.9,658.1 L411.6,659.7 L412.3,661.8 L413.0,663.3 L413.7,664.2 L414.4,665.6 L415.1,668.1 L415.8,670.0 L416.5,671.2 L417.2,673.1 L417.9,675.3 L418.6,677.0 L419.3,678.2 L420.0,679.2 L420.7,680.0 L421.4,681.3 L422.1,683.1 L422.8,684.0 L423.5,684.1 L424.2,684.2 L424.9,684.8 L425.6,686.0 L426.3,687.1 L427.0,687.8 L427.7,688.3 L428.4,688.7 L429.1,689.5 L429.8,690.5 L430.5,691.7 L431.2,692.3 L431.9,692.0 L432.6,691.9 L433.3,692.3 L434.0,692.6 L434.7,692.9 L435.4,693.3 L436.1,693.6 L436.8,694.2 L437.5,694.6 L438.2,694.7 L438.9,694.7 L439.6,694.6 L440.3,694.8 L441.0,695.2 L441.7,695.6 L442.4,696.0 L443.1,695.9 L443.8,695.8 L444.5,695.9 L445.2,695.9 L445.9,696.1 L446.6,696.1 L447.3,695.9 L448.0,696.5 L448.7,696.8 L449.4,696.6 L450.1,696.4 L450.8,696.1 L451.5,695.8 L452.2,695.7 L452.9,695.6 L453.6,695.2 L454.3,694.8 L455.0,694.8 L455.7,694.6 L456.4,694.0 L457.1,693.6 L457.8,693.1 L458.5,692.4 L459.2,692.2 L459.9,692.1 L460.6,691.6 L461.3,690.9 L462.0,690.1 L462.7,689.7 L463.4,689.6 L464.1,689.1 L464.8,688.0 L465.5,687.0 L466.2,686.9 L466.9,686.7 L467.6,685.7 L468.3,684.1 L469.0,682.7 L469.7,682.1 L470.4,680.6 L471.1,679.0 L471.8,678.2 L472.5,676.9 L473.2,675.6 L473.9,675.2 L474.6,674.6 L475.3,673.3 L476.0,672.4 L476.7,672.0 L477.4,670.8 L478.1,669.0 L478.8,667.3 L479.5,665.8 L480.2,664.9 L480.9,664.3 L481.6,663.3 L482.3,662.1 L483.0,660.8 L483.7,659.2 L484.4,658.1 L485.1,657.3 L485.8,656.2 L486.5,655.0 L487.2,653.4 L487.9,651.8 L488.6,650.4 L489.3,648.5 L490.0,647.0 L490.7,646.3 L491.4,645.1 L492.1,643.2 L492.8,641.2 L493.5,639.7 L494.2,638.1 L494.9,636.0 L495.6,634.1 L496.3,633.2 L497.0,632.3 L497.7,630.4 L498.4,628.2 L499.1,626.7 L499.8,624.7 L500.5,622.5 L501.2,621.6 L501.9,621.2 L502.6,620.5 L503.3,619.7 L504.0,618.5 L504.7,617.1 L505.4,616.1 L506.1,615.2 L506.8,614.1 L507.5,613.5 L508.2,613.4 L508.9,612.8 L509.6,611.5 L510.3,610.4 L511.0,610.0 L511.7,609.6 L512.4,609.0 L513.1,608.3 L513.8,607.4 L514.5,606.9 L515.2,607.1 L515.9,607.7 L516.6,608.2 L517.3,608.4 L518.0,609.7 L518.7,611.5 L519.4,612.6 L520.1,613.9 L520.8,615.7 L521.5,617.1 L522.2,617.9 L522.9,618.9 L523.6,620.1 L524.3,621.4 L525.0,622.6 L525.7,623.5 L526.4,624.9 L527.1,627.0 L527.8,629.2 L528.5,631.8 L529.2,634.0 L529.9,636.0 L530.6,638.3 L531.3,640.7 L532.0,642.7 L532.7,644.1 L533.4,645.8 L534.1,648.3 L534.8,650.5 L535.5,651.8 L536.2,652.5 L536.9,654.1 L537.6,656.1 L538.3,657.4 L539.0,658.9 L539.7,661.4 L540.4,663.6 L541.1,665.2 L541.8,666.9 L542.5,669.4 L543.2,672.1 L543.9,674.1 L544.6,676.1 L545.3,678.5 L546.0,680.5 L546.7,682.4 L547.4,684.2 L548.1,685.7 L548.8,687.2 L549.5,688.9 L550.2,690.8 L550.9,691.9 L551.6,692.7 L552.3,693.8 L553.0,695.2 L553.7,696.2 L554.4,696.7 L555.1,697.7 L555.8,699.8 L556.5,702.0 L557.2,702.9 L557.9,703.6 L558.6,705.2 L559.3,706.6 L560.0,707.1 L560.7,708.0 L561.4,709.5 L562.1,710.5 L562.8,711.2 L563.5,712.1 L564.2,713.8 L564.9,714.8 L565.6,715.2 L566.3,715.3 L567.0,715.6 L567.7,716.8 L568.4,717.9 L569.1,718.9 L569.8,719.7 L570.5,719.8 L571.2,720.2 L571.9,721.3 L572.6,722.1 L573.3,722.7 L574.0,723.5 L574.7,723.8 L575.4,724.5 L576.1,726.0 L576.8,727.1 L577.5,728.1 L578.2,728.8 L578.9,728.5 L579.6,728.1 L580.3,728.6 L581.0,729.3 L581.7,730.2 L582.4,730.7 L583.1,730.9 L583.8,731.6 L584.5,732.1 L585.2,732.9 L585.9,733.5 L586.6,733.8 L587.3,734.2 L588.0,734.5 L588.7,734.6 L589.4,734.9 L590.1,736.1 L590.8,737.6 L591.5,738.3 L592.2,738.3 L592.9,738.0 L593.6,738.1 L594.3,738.7 L595.0,738.9 L595.7,738.8 L596.4,739.1 L597.1,739.5 L597.8,739.7 L598.5,739.9 L599.2,740.0 L599.9,740.9 L600.6,741.9 L601.3,741.8 L602.0,741.7 L602.7,742.3 L603.4,742.4 L604.1,742.1 L604.8,742.6 L605.5,743.4 L606.2,743.6 L606.9,744.0 L607.6,744.4 L608.3,744.2 L609.0,744.2 L609.7,744.8 L610.4,745.1 L611.1,744.7 L611.8,744.9 L612.5,745.7 L613.2,746.5 L613.9,747.2 L614.6,747.2 L615.3,747.0 L616.0,747.4 L616.7,747.6 L617.4,747.7 L618.1,748.0 L618.8,747.6 L619.5,747.4 L620.2,747.8 L620.9,748.0 L621.6,748.5 L622.3,749.2 L623.0,749.8 L623.7,750.0 L624.4,749.4 L625.1,748.8 L625.8,749.0 L626.5,749.1 L627.2,749.4 L627.9,749.9 L628.6,749.6 L629.3,749.5 L630.0,750.3 L630.7,750.7 L631.4,750.8 L632.1,751.0 L632.8,751.1 L633.5,751.3 L634.2,751.6 L634.9,751.7 L635.6,751.6 L636.3,751.4 L637.0,751.0 L637.7,751.2 L638.4,751.7 L639.1,751.7 L639.8,751.9 L640.5,752.6 L641.2,752.5 L641.9,751.7 L642.6,751.7 L643.3,752.4 L644.0,752.9 L644.7,753.0 L645.4,753.2 L646.1,753.5 L646.8,753.8 L647.5,753.9 L648.2,754.3 L648.9,755.3 L649.6,755.6 L650.3,754.7 L651.0,754.3 L651.7,754.7 L652.4,755.0 L653.1,754.8 L653.8,754.8 L654.5,755.0 L655.2,754.9 L655.9,754.9 L656.6,754.8 L657.3,754.5 L658.0,754.7 L658.7,755.4 L659.4,755.9 L660.1,755.6 L660.8,755.3 L661.5,755.8 L662.2,756.6 L662.9,756.7 L663.6,756.3 L664.3,756.2 L665.0,756.5 L665.7,756.2 L666.4,755.9 L667.1,756.4 L667.8,757.2 L668.5,757.4 L669.2,757.3 L669.9,757.2 L670.6,757.2 L671.3,757.0 L672.0,757.4 L672.7,758.3 L673.4,757.9 L674.1,757.2 L674.8,757.3 L675.5,757.8 L676.2,757.9 L676.9,757.2 L677.6,756.7 L678.3,757.2 L679.0,757.7 L679.7,758.0 L680.4,758.4 L681.1,758.4 L681.8,758.1 L682.5,757.9 L683.2,758.6 L683.9,759.3 L684.6,758.9 L685.3,758.5 L686.0,758.7 L686.7,758.9 L687.4,758.4 L688.1,758.3 L688.8,758.8 L689.5,758.9 L690.2,758.7 L690.9,758.7 L691.6,758.7 L692.3,758.8 L693.0,758.6 L693.7,758.5 L694.4,758.9 L695.1,759.2 L695.8,758.9 L696.5,759.0 L697.2,759.2 L697.9,759.0 L698.6,759.0 L699.3,759.2 L700.0,760.2 L700.7,761.1 L701.4,760.8 L702.1,760.1 L702.8,760.0 L703.5,760.0 L704.2,760.2 L704.9,760.2 L705.6,759.9 L706.3,760.1 L707.0,760.5 L707.7,760.6 L708.4,760.3 L709.1,760.0 L709.8,760.3 L710.5,760.6 L711.2,760.5 L711.9,760.4 L712.6,759.8 L713.3,759.6 L714.0,760.5 L714.7,761.0 L715.4,760.7 L716.1,760.8 L716.8,760.9 L717.5,760.5 L718.2,760.3 L718.9,760.7 L719.6,760.9 L720.3,760.7 L721.0,760.9 L721.7,760.6 L722.4,760.6 L723.1,761.2 L723.8,760.9 L724.5,760.4 L725.2,760.8 L725.9,761.6 L726.6,761.7 L727.3,761.3 L728.0,761.4 L728.7,761.5 L729.4,761.2 L730.1,761.3 L730.8,761.3 L731.5,761.1 L732.2,761.1 L732.9,761.4 L733.6,761.4 L734.3,761.2 L735.0,761.5 L735.7,762.0 L736.4,762.1 L737.1,762.3 L737.8,762.5 L738.5,762.6 L739.2,762.6 L739.9,762.1 L740.6,761.9 L741.3,762.2 L742.0,762.9 L742.7,762.6 L743.4,761.3 L744.1,761.3 L744.8,762.2 L745.5,762.6 L746.2,762.5 L746.9,762.3 L747.6,762.4 L748.3,762.5 L749.0,762.5 L749.7,762.1 L750.4,761.7 L751.1,761.8 L751.8,762.2 L752.5,762.4 L753.2,762.3 L753.9,762.0 L754.6,762.2 L755.3,761.9 L756.0,761.6 L756.7,761.6 L757.4,762.2 L758.1,762.9 L758.8,763.0 L759.5,762.9 L760.2,763.0 L760.9,762.8 L761.6,762.7 L762.3,763.0 L763.0,763.1 L763.7,762.7 L764.4,762.5 L765.1,762.6 L765.8,762.5 L766.5,762.6 L767.2,762.9 L767.9,762.9 L768.6,762.7 L769.3,762.6 L770.0,762.8" fill="none" stroke="#00b0f0" stroke-width="3.00" stroke-linejoin="round" stroke-linecap="round"/>
<path d="M70.0,731.2 L70.7,730.9 L71.4,731.0 L72.1,730.8 L72.8,730.5 L73.5,730.7 L74.2,731.0 L74.9,731.5 L75.6,731.8 L76.3,731.7 L77.0,731.2 L77.7,730.8 L78.4,731.0 L79.1,730.8 L79.8,730.2 L80.5,730.0 L81.2,730.2 L81.9,730.0 L82.6,729.4 L83.3,729.1 L84.0,729.3 L84.7,728.9 L85.4,728.4 L86.1,728.6 L86.8,728.6 L87.5,728.4 L88.2,728.3 L88.9,727.9 L89.6,727.7 L90.3,728.1 L91.0,727.4 L91.7,726.6 L92.4,727.4 L93.1,727.9 L93.8,727.7 L94.5,728.0 L95.2,727.9 L95.9,726.5 L96.6,725.5 L97.3,726.0 L98.0,726.7 L98.7,726.1 L99.4,725.4 L100.1,725.5 L100.8,726.0 L101.5,726.3 L102.2,726.6 L102.9,726.3 L103.6,725.6 L104.3,725.3 L105.0,725.2 L105.7,725.1 L106.4,724.8 L107.1,725.1 L107.8,725.9 L108.5,725.8 L109.2,725.9 L109.9,726.3 L110.6,725.7 L111.3,724.9 L112.0,724.6 L112.7,724.5 L113.4,724.7 L114.1,724.8 L114.8,724.9 L115.5,724.3 L116.2,723.8 L116.9,723.8 L117.6,724.0 L118.3,724.2 L119.0,724.0 L119.7,723.5 L120.4,723.7 L121.1,723.9 L121.8,723.4 L122.5,723.3 L123.2,723.5 L123.9,722.9 L124.6,721.8 L125.3,721.7 L126.0,722.6 L126.7,722.7 L127.4,722.1 L128.1,721.8 L128.8,722.0 L129.5,721.6 L130.2,720.8 L130.9,720.3 L131.6,720.3 L132.3,720.0 L133.0,719.4 L133.7,718.9 L134.4,719.0 L135.1,719.0 L135.8,718.6 L136.5,718.7 L137.2,718.8 L137.9,718.3 L138.6,717.7 L139.3,717.7 L140.0,717.6 L140.7,717.0 L141.4,716.7 L142.1,716.8 L142.8,716.7 L143.5,716.3 L144.2,716.2 L144.9,716.7 L145.6,716.0 L146.3,714.9 L147.0,714.8 L147.7,715.1 L148.4,714.9 L149.1,714.4 L149.8,714.2 L150.5,713.7 L151.2,713.6 L151.9,714.3 L152.6,714.3 L153.3,713.5 L154.0,713.1 L154.7,713.0 L155.4,712.4 L156.1,712.2 L156.8,712.4 L157.5,712.3 L158.2,711.8 L158.9,711.4 L159.6,711.0 L160.3,710.6 L161.0,710.5 L161.7,710.0 L162.4,709.5 L163.1,709.5 L163.8,709.6 L164.5,709.5 L165.2,709.2 L165.9,709.2 L166.6,709.0 L167.3,708.2 L168.0,707.8 L168.7,707.9 L169.4,707.3 L170.1,706.2 L170.8,706.1 L171.5,706.3 L172.2,705.8 L172.9,705.3 L173.6,705.2 L174.3,705.5 L175.0,705.6 L175.7,705.5 L176.4,705.4 L177.1,704.7 L177.8,704.6 L178.5,704.6 L179.2,703.9 L179.9,703.3 L180.6,703.0 L181.3,703.3 L182.0,703.7 L182.7,702.9 L183.4,702.5 L184.1,702.7 L184.8,701.9 L185.5,701.3 L186.2,701.0 L186.9,700.6 L187.6,701.1 L188.3,701.3 L189.0,700.7 L189.7,700.0 L190.4,699.6 L191.1,698.8 L191.8,697.7 L192.5,697.9 L193.2,697.9 L193.9,697.2 L194.6,697.3 L195.3,697.2 L196.0,696.8 L196.7,696.6 L197.4,696.5 L198.1,695.9 L198.8,695.0 L199.5,694.7 L200.2,694.5 L200.9,694.0 L201.6,693.7 L202.3,693.8 L203.0,693.9 L203.7,693.7 L204.4,693.3 L205.1,692.4 L205.8,691.1 L206.5,690.2 L207.2,690.0 L207.9,689.8 L208.6,689.5 L209.3,689.5 L210.0,689.1 L210.7,688.2 L211.4,687.6 L212.1,686.7 L212.8,685.6 L213.5,685.2 L214.2,684.8 L214.9,684.3 L215.6,684.7 L216.3,684.5 L217.0,683.3 L217.7,683.0 L218.4,683.2 L219.1,682.5 L219.8,681.6 L220.5,681.1 L221.2,680.9 L221.9,680.1 L222.6,678.6 L223.3,677.1 L224.0,676.9 L224.7,677.4 L225.4,677.5 L226.1,677.3 L226.8,676.3 L227.5,675.2 L228.2,675.0 L228.9,674.7 L229.6,673.6 L230.3,673.2 L231.0,672.9 L231.7,671.5 L232.4,670.9 L233.1,671.2 L233.8,670.4 L234.5,669.1 L235.2,668.6 L235.9,668.9 L236.6,669.0 L237.3,668.4 L238.0,667.8 L238.7,667.4 L239.4,666.4 L240.1,665.8 L240.8,665.5 L241.5,664.5 L242.2,663.7 L242.9,663.7 L243.6,663.3 L244.3,662.2 L245.0,661.0 L245.7,660.3 L246.4,660.2 L247.1,659.9 L247.8,658.9 L248.5,657.7 L249.2,656.7 L249.9,655.7 L250.6,654.7 L251.3,654.3 L252.0,653.5 L252.7,652.2 L253.4,650.9 L254.1,649.7 L254.8,648.6 L255.5,647.6 L256.2,647.0 L256.9,646.0 L257.6,644.7 L258.3,643.6 L259.0,642.5 L259.7,641.4 L260.4,640.3 L261.1,639.1 L261.8,638.3 L262.5,637.6 L263.2,636.7 L263.9,635.5 L264.6,634.0 L265.3,633.1 L266.0,632.2 L266.7,630.3 L267.4,629.0 L268.1,628.8 L268.8,628.2 L269.5,626.8 L270.2,625.9 L270.9,625.1 L271.6,623.4 L272.3,622.3 L273.0,621.5 L273.7,619.8 L274.4,618.4 L275.1,617.6 L275.8,616.7 L276.5,615.9 L277.2,614.4 L277.9,612.6 L278.6,611.7 L279.3,610.8 L280.0,609.6 L280.7,608.4 L281.4,606.6 L282.1,605.1 L282.8,604.6 L283.5,603.7 L284.2,602.0 L284.9,600.8 L285.6,599.8 L286.3,598.7 L287.0,598.0 L287.7,597.3 L288.4,596.9 L289.1,596.3 L289.8,595.1 L290.5,593.7 L291.2,592.1 L291.9,590.2 L292.6,588.0 L293.3,586.1 L294.0,584.3 L294.7,582.8 L295.4,581.4 L296.1,578.9 L296.8,576.5 L297.5,574.6 L298.2,573.0 L298.9,571.7 L299.6,570.6 L300.3,569.5 L301.0,567.5 L301.7,565.4 L302.4,564.0 L303.1,562.3 L303.8,561.1 L304.5,560.1 L305.2,558.5 L305.9,556.5 L306.6,554.5 L307.3,552.0 L308.0,549.7 L308.7,548.0 L309.4,546.6 L310.1,545.1 L310.8,543.2 L311.5,540.7 L312.2,538.5 L312.9,537.2 L313.6,535.3 L314.3,532.9 L315.0,531.3 L315.7,530.3 L316.4,529.1 L317.1,528.1 L317.8,527.4 L318.5,526.6 L319.2,525.4 L319.9,523.9 L320.6,523.3 L321.3,522.9 L322.0,521.4 L322.7,520.0 L323.4,518.6 L324.1,516.5 L324.8,514.8 L325.5,513.5 L326.2,512.2 L326.9,510.5 L327.6,509.2 L328.3,508.6 L329.0,507.8 L329.7,507.0 L330.4,506.8 L331.1,506.5 L331.8,505.6 L332.5,504.3 L333.2,503.1 L333.9,502.2 L334.6,501.1 L335.3,499.8 L336.0,497.6 L336.7,495.5 L337.4,494.7 L338.1,493.9 L338.8,492.1 L339.5,490.3 L340.2,489.4 L340.9,488.8 L341.6,487.4 L342.3,486.1 L343.0,485.1 L343.7,484.0 L344.4,483.3 L345.1,483.0 L345.8,483.1 L346.5,483.4 L347.2,483.2 L347.9,482.8 L348.6,482.6 L349.3,481.9 L350.0,481.5 L350.7,481.9 L351.4,482.1 L352.1,481.7 L352.8,481.5 L353.5,482.6 L354.2,483.8 L354.9,484.6 L355.6,485.3 L356.3,486.0 L357.0,487.2 L357.7,487.8 L358.4,487.7 L359.1,487.4 L359.8,488.6 L360.5,490.9 L361.2,492.2 L361.9,492.9 L362.6,493.5 L363.3,494.4 L364.0,495.4 L364.7,496.4 L365.4,497.5 L366.1,498.3 L366.8,499.3 L367.5,500.6 L368.2,502.2 L368.9,503.5 L369.6,504.5 L370.3,506.1 L371.0,508.0 L371.7,509.8 L372.4,511.3 L373.1,513.0 L373.8,515.3 L374.5,517.7 L375.2,519.5 L375.9,521.3 L376.6,523.1 L377.3,524.9 L378.0,527.4 L378.7,530.1 L379.4,532.4 L380.1,534.8 L380.8,537.5 L381.5,540.3 L382.2,542.7 L382.9,544.1 L383.6,546.0 L384.3,548.7 L385.0,550.6 L385.7,552.6 L386.4,555.0 L387.1,556.8 L387.8,558.2 L388.5,559.9 L389.2,561.7 L389.9,563.6 L390.6,565.8 L391.3,568.2 L392.0,569.6 L392.7,570.5 L393.4,572.1 L394.1,574.3 L394.8,576.4 L395.5,577.7 L396.2,578.9 L396.9,580.5 L397.6,582.4 L398.3,585.0 L399.0,586.9 L399.7,588.4 L400.4,589.9 L401.1,591.5 L401.8,593.5 L402.5,595.7 L403.2,597.5 L403.9,599.3 L404.6,601.1 L405.3,602.7 L406.0,604.4 L406.7,605.9 L407.4,607.0 L408.1,608.0 L408.8,608.8 L409.5,609.7 L410.2,611.2 L410.9,612.7 L411.6,614.0 L412.3,615.0 L413.0,615.9 L413.7,616.9 L414.4,618.3 L415.1,619.9 L415.8,621.6 L416.5,623.3 L417.2,624.9 L417.9,626.7 L418.6,628.3 L419.3,629.1 L420.0,630.4 L420.7,631.9 L421.4,632.6 L422.1,633.2 L422.8,633.3 L423.5,633.5 L424.2,634.7 L424.9,635.8 L425.6,636.3 L426.3,636.9 L427.0,637.8 L427.7,638.5 L428.4,639.5 L429.1,640.2 L429.8,640.8 L430.5,642.1 L431.2,642.9 L431.9,643.0 L432.6,643.1 L433.3,643.1 L434.0,643.0 L434.7,643.3 L435.4,643.2 L436.1,643.3 L436.8,643.1 L437.5,643.0 L438.2,643.5 L438.9,644.0 L439.6,644.1 L440.3,643.7 L441.0,643.4 L441.7,643.4 L442.4,643.5 L443.1,643.9 L443.8,643.8 L444.5,642.8 L445.2,641.8 L445.9,641.5 L446.6,641.0 L447.3,639.9 L448.0,639.2 L448.7,639.5 L449.4,639.3 L450.1,638.4 L450.8,637.9 L451.5,637.7 L452.2,636.8 L452.9,634.6 L453.6,632.8 L454.3,632.5 L455.0,632.1 L455.7,630.9 L456.4,629.4 L457.1,628.2 L457.8,627.5 L458.5,626.5 L459.2,625.4 L459.9,624.3 L460.6,622.7 L461.3,621.2 L462.0,620.2 L462.7,618.9 L463.4,617.6 L464.1,616.1 L464.8,614.3 L465.5,612.7 L466.2,611.1 L466.9,610.0 L467.6,608.9 L468.3,607.2 L469.0,605.4 L469.7,603.6 L470.4,601.0 L471.1,598.5 L471.8,596.5 L472.5,594.0 L473.2,591.1 L473.9,588.0 L474.6,585.2 L475.3,582.4 L476.0,579.8 L476.7,577.9 L477.4,576.3 L478.1,574.1 L478.8,571.1 L479.5,568.6 L480.2,566.3 L480.9,563.6 L481.6,561.0 L482.3,558.4 L483.0,555.3 L483.7,551.8 L484.4,548.8 L485.1,544.9 L485.8,540.2 L486.5,535.6 L487.2,531.8 L487.9,528.6 L488.6,525.3 L489.3,522.6 L490.0,520.7 L490.7,518.9 L491.4,516.6 L492.1,514.2 L492.8,512.1 L493.5,509.5 L494.2,506.2 L494.9,502.9 L495.6,499.1 L496.3,494.6 L497.0,490.0 L497.7,486.2 L498.4,484.0 L499.1,482.3 L499.8,480.5 L500.5,478.6 L501.2,476.3 L501.9,475.2 L502.6,474.6 L503.3,473.9 L504.0,473.6 L504.7,473.2 L505.4,472.3 L506.1,471.6 L506.8,470.8 L507.5,470.2 L508.2,470.5 L508.9,471.4 L509.6,471.4 L510.3,471.3 L511.0,472.0 L511.7,472.7 L512.4,473.2 L513.1,473.2 L513.8,472.8 L514.5,472.8 L515.2,473.6 L515.9,474.8 L516.6,475.7 L517.3,476.2 L518.0,477.7 L518.7,479.7 L519.4,481.8 L520.1,484.4 L520.8,487.2 L521.5,490.2 L522.2,492.4 L522.9,493.9 L523.6,496.3 L524.3,499.2 L525.0,501.6 L525.7,504.4 L526.4,507.1 L527.1,510.5 L527.8,515.2 L528.5,519.3 L529.2,523.1 L529.9,527.7 L530.6,532.1 L531.3,536.3 L532.0,540.8 L532.7,544.6 L533.4,547.8 L534.1,551.1 L534.8,554.4 L535.5,557.7 L536.2,560.9 L536.9,564.3 L537.6,568.3 L538.3,572.5 L539.0,576.0 L539.7,579.0 L540.4,582.4 L541.1,586.8 L541.8,591.1 L542.5,594.1 L543.2,596.8 L543.9,599.7 L544.6,602.9 L545.3,606.1 L546.0,608.4 L546.7,610.8 L547.4,614.4 L548.1,617.4 L548.8,620.2 L549.5,623.1 L550.2,624.8 L550.9,627.2 L551.6,630.7 L552.3,633.5 L553.0,636.2 L553.7,639.1 L554.4,641.7 L555.1,643.4 L555.8,644.7 L556.5,646.6 L557.2,648.9 L557.9,651.0 L558.6,653.2 L559.3,655.5 L560.0,657.8 L560.7,660.0 L561.4,661.4 L562.1,662.9 L562.8,665.0 L563.5,667.0 L564.2,668.9 L564.9,671.1 L565.6,673.2 L566.3,674.0 L567.0,674.8 L567.7,676.8 L568.4,679.6 L569.1,682.1 L569.8,683.3 L570.5,683.8 L571.2,684.8 L571.9,685.8 L572.6,687.3 L573.3,689.5 L574.0,690.8 L574.7,691.6 L575.4,692.8 L576.1,694.6 L576.8,695.8 L577.5,696.2 L578.2,697.1 L578.9,698.7 L579.6,699.4 L580.3,699.9 L581.0,701.4 L581.7,702.9 L582.4,703.9 L583.1,704.5 L583.8,705.1 L584.5,705.8 L585.2,706.5 L585.9,707.3 L586.6,708.4 L587.3,709.1 L588.0,709.2 L588.7,710.4 L589.4,711.6 L590.1,711.5 L590.8,711.6 L591.5,712.7 L592.2,713.9 L592.9,714.6 L593.6,714.8 L594.3,715.1 L595.0,715.8 L595.7,716.6 L596.4,717.1 L597.1,717.3 L597.8,717.3 L598.5,718.0 L599.2,719.2 L599.9,720.2 L600.6,720.7 L601.3,721.3 L602.0,722.0 L602.7,723.0 L603.4,723.8 L604.1,723.5 L604.8,724.1 L605.5,725.3 L606.2,725.7 L606.9,725.9 L607.6,726.3 L608.3,726.4 L609.0,726.8 L609.7,727.7 L610.4,728.5 L611.1,728.9 L611.8,729.2 L612.5,729.1 L613.2,728.8 L613.9,728.9 L614.6,729.2 L615.3,729.5 L616.0,730.4 L616.7,731.2 L617.4,731.1 L618.1,730.9 L618.8,730.7 L619.5,730.6 L620.2,731.4 L620.9,732.5 L621.6,732.8 L622.3,733.3 L623.0,734.0 L623.7,734.2 L624.4,734.2 L625.1,734.3 L625.8,734.3 L626.5,734.3 L627.2,733.9 L627.9,734.0 L628.6,735.3 L629.3,736.1 L630.0,736.1 L630.7,736.1 L631.4,736.1 L632.1,736.6 L632.8,737.2 L633.5,737.1 L634.2,737.2 L634.9,737.9 L635.6,738.5 L636.3,739.0 L637.0,739.4 L637.7,739.0 L638.4,739.1 L639.1,739.3 L639.8,738.7 L640.5,739.0 L641.2,739.8 L641.9,739.8 L642.6,739.8 L643.3,740.1 L644.0,740.1 L644.7,740.3 L645.4,740.5 L646.1,740.2 L646.8,740.3 L647.5,741.2 L648.2,742.0 L648.9,741.9 L649.6,742.0 L650.3,742.7 L651.0,743.5 L651.7,743.3 L652.4,742.9 L653.1,743.1 L653.8,743.4 L654.5,743.5 L655.2,743.8 L655.9,744.1 L656.6,743.8 L657.3,743.7 L658.0,744.6 L658.7,744.9 L659.4,744.3 L660.1,744.6 L660.8,745.8 L661.5,746.0 L662.2,745.4 L662.9,745.4 L663.6,745.4 L664.3,745.6 L665.0,746.2 L665.7,745.9 L666.4,745.5 L667.1,745.8 L667.8,746.2 L668.5,746.3 L669.2,746.2 L669.9,746.2 L670.6,746.6 L671.3,746.9 L672.0,747.2 L672.7,747.6 L673.4,747.8 L674.1,747.7 L674.8,747.2 L675.5,746.9 L676.2,747.1 L676.9,747.5 L677.6,748.1 L678.3,748.5 L679.0,748.3 L679.7,747.8 L680.4,747.8 L681.1,748.3 L681.8,748.5 L682.5,748.1 L683.2,748.1 L683.9,748.7 L684.6,749.4 L685.3,749.2 L686.0,748.8 L686.7,749.0 L687.4,749.3 L688.1,749.3 L688.8,749.5 L689.5,749.9 L690.2,750.2 L690.9,750.4 L691.6,751.0 L692.3,751.2 L693.0,750.9 L693.7,751.0 L694.4,751.2 L695.1,751.0 L695.8,750.9 L696.5,751.3 L697.2,751.6 L697.9,751.3 L698.6,750.5 L699.3,750.3 L700.0,750.9 L700.7,751.5 L701.4,751.5 L702.1,751.0 L702.8,751.4 L703.5,752.0 L704.2,751.9 L704.9,752.1 L705.6,752.5 L706.3,752.4 L707.0,752.5 L707.7,752.7 L708.4,752.6 L709.1,752.6 L709.8,752.4 L710.5,752.2 L711.2,752.8 L711.9,753.3 L712.6,753.0 L713.3,752.6 L714.0,752.7 L714.7,753.0 L715.4,753.1 L716.1,753.2 L716.8,753.6 L717.5,754.0 L718.2,754.0 L718.9,753.8 L719.6,753.7 L720.3,753.6 L721.0,753.8 L721.7,753.6 L722.4,753.6 L723.1,754.4 L723.8,755.1 L724.5,755.2 L725.2,754.7 L725.9,754.5 L726.6,754.7 L727.3,754.3 L728.0,754.0 L728.7,754.0 L729.4,754.4 L730.1,754.7 L730.8,754.8 L731.5,755.1 L732.2,755.1 L732.9,755.2 L733.6,755.2 L734.3,754.5 L735.0,753.9 L735.7,754.5 L736.4,755.0 L737.1,754.9 L737.8,754.8 L738.5,754.9 L739.2,755.5 L739.9,755.9 L740.6,755.7 L741.3,755.5 L742.0,755.4 L742.7,755.1 L743.4,755.3 L744.1,755.7 L744.8,755.6 L745.5,755.7 L746.2,756.1 L746.9,756.3 L747.6,755.9 L748.3,755.6 L749.0,755.4 L749.7,755.5 L750.4,755.6 L751.1,755.4 L751.8,755.9 L752.5,756.8 L753.2,756.3 L753.9,755.4 L754.6,756.0 L755.3,757.0 L756.0,757.3 L756.7,757.3 L757.4,756.4 L758.1,755.8 L758.8,756.4 L759.5,756.9 L760.2,756.8 L760.9,756.4 L761.6,756.3 L762.3,756.4 L763.0,756.8 L763.7,757.5 L764.4,757.8 L765.1,757.6 L765.8,757.5 L766.5,757.2 L767.2,756.8 L767.9,757.0 L768.6,757.5 L769.3,757.8 L770.0,758.0" fill="none" stroke="#00b050" stroke-width="3.00" stroke-linejoin="round" stroke-linecap="round"/>
<path d="M70.0,1148.9 L70.7,1148.8 L71.4,1148.7 L72.1,1149.4 L72.8,1149.7 L73.5,1149.3 L74.2,1149.3 L74.9,1149.3 L75.6,1148.9 L76.3,1148.4 L77.0,1148.5 L77.7,1149.3 L78.4,1149.9 L79.1,1150.3 L79.8,1150.1 L80.5,1149.3 L81.2,1149.2 L81.9,1149.5 L82.6,1149.6 L83.3,1149.6 L84.0,1149.3 L84.7,1148.8 L85.4,1149.0 L86.1,1149.8 L86.8,1149.5 L87.5,1149.1 L88.2,1149.2 L88.9,1149.1 L89.6,1149.0 L90.3,1148.9 L91.0,1148.9 L91.7,1148.4 L92.4,1148.0 L93.1,1148.2 L93.8,1148.5 L94.5,1149.0 L95.2,1149.3 L95.9,1149.3 L96.6,1149.1 L97.3,1148.9 L98.0,1149.2 L98.7,1149.4 L99.4,1149.0 L100.1,1148.5 L100.8,1148.4 L101.5,1148.5 L102.2,1149.0 L102.9,1149.3 L103.6,1148.6 L104.3,1148.2 L105.0,1148.7 L105.7,1149.1 L106.4,1148.7 L107.1,1148.3 L107.8,1148.3 L108.5,1148.8 L109.2,1149.0 L109.9,1148.7 L110.6,1148.5 L111.3,1148.6 L112.0,1148.9 L112.7,1148.8 L113.4,1148.8 L114.1,1149.5 L114.8,1149.2 L115.5,1148.4 L116.2,1148.3 L116.9,1148.5 L117.6,1148.8 L118.3,1149.0 L119.0,1148.9 L119.7,1148.6 L120.4,1148.0 L121.1,1147.9 L121.8,1148.2 L122.5,1148.6 L123.2,1148.6 L123.9,1148.1 L124.6,1148.4 L125.3,1149.0 L126.0,1148.8 L126.7,1148.4 L127.4,1148.6 L128.1,1148.6 L128.8,1148.7 L129.5,1148.9 L130.2,1148.3 L130.9,1148.1 L131.6,1148.5 L132.3,1148.5 L133.0,1148.5 L133.7,1149.0 L134.4,1149.2 L135.1,1149.0 L135.8,1148.7 L136.5,1148.0 L137.2,1148.0 L137.9,1148.5 L138.6,1148.5 L139.3,1148.6 L140.0,1148.3 L140.7,1147.9 L141.4,1148.0 L142.1,1148.0 L142.8,1148.1 L143.5,1148.4 L144.2,1148.2 L144.9,1147.7 L145.6,1147.4 L146.3,1147.5 L147.0,1147.9 L147.7,1148.4 L148.4,1147.8 L149.1,1147.2 L149.8,1147.1 L150.5,1146.9 L151.2,1146.9 L151.9,1146.7 L152.6,1146.9 L153.3,1147.4 L154.0,1146.9 L154.7,1146.8 L155.4,1146.8 L156.1,1146.1 L156.8,1146.2 L157.5,1146.9 L158.2,1146.7 L158.9,1146.8 L159.6,1147.0 L160.3,1146.8 L161.0,1146.7 L161.7,1146.7 L162.4,1146.9 L163.1,1147.2 L163.8,1147.1 L164.5,1146.9 L165.2,1146.7 L165.9,1146.1 L166.6,1145.7 L167.3,1145.9 L168.0,1146.7 L168.7,1147.0 L169.4,1146.1 L170.1,1145.3 L170.8,1145.6 L171.5,1146.2 L172.2,1146.3 L172.9,1146.3 L173.6,1146.6 L174.3,1146.3 L175.0,1145.7 L175.7,1145.7 L176.4,1145.7 L177.1,1146.1 L177.8,1146.8 L178.5,1147.0 L179.2,1146.4 L179.9,1145.7 L180.6,1145.6 L181.3,1145.7 L182.0,1145.4 L182.7,1145.6 L183.4,1146.1 L184.1,1146.1 L184.8,1145.8 L185.5,1146.0 L186.2,1146.3 L186.9,1145.6 L187.6,1145.0 L188.3,1145.3 L189.0,1145.6 L189.7,1145.4 L190.4,1145.1 L191.1,1145.1 L191.8,1145.7 L192.5,1145.7 L193.2,1145.3 L193.9,1145.4 L194.6,1145.3 L195.3,1144.5 L196.0,1143.5 L196.7,1144.0 L197.4,1145.3 L198.1,1145.2 L198.8,1145.0 L199.5,1145.3 L200.2,1145.4 L200.9,1145.4 L201.6,1145.1 L202.3,1144.8 L203.0,1144.5 L203.7,1145.1 L204.4,1145.6 L205.1,1145.4 L205.8,1145.3 L206.5,1145.3 L207.2,1145.6 L207.9,1145.3 L208.6,1144.9 L209.3,1144.9 L210.0,1144.7 L210.7,1144.6 L211.4,1144.8 L212.1,1144.8 L212.8,1144.8 L213.5,1144.7 L214.2,1144.4 L214.9,1144.4 L215.6,1145.0 L216.3,1145.1 L217.0,1145.1 L217.7,1144.8 L218.4,1144.4 L219.1,1144.4 L219.8,1144.2 L220.5,1144.3 L221.2,1144.4 L221.9,1144.5 L222.6,1144.6 L223.3,1144.2 L224.0,1144.0 L224.7,1144.6 L225.4,1144.9 L226.1,1144.8 L226.8,1144.2 L227.5,1143.5 L228.2,1143.6 L228.9,1143.5 L229.6,1143.1 L230.3,1143.5 L231.0,1143.5 L231.7,1143.0 L232.4,1143.1 L233.1,1143.6 L233.8,1144.0 L234.5,1143.8 L235.2,1143.0 L235.9,1142.7 L236.6,1143.0 L237.3,1143.1 L238.0,1143.1 L238.7,1143.2 L239.4,1143.6 L240.1,1143.6 L240.8,1143.1 L241.5,1142.6 L242.2,1142.7 L242.9,1143.3 L243.6,1143.6 L244.3,1143.3 L245.0,1142.5 L245.7,1142.1 L246.4,1141.6 L247.1,1141.0 L247.8,1141.2 L248.5,1141.9 L249.2,1142.8 L249.9,1142.8 L250.6,1142.2 L251.3,1142.3 L252.0,1142.8 L252.7,1143.1 L253.4,1143.1 L254.1,1143.0 L254.8,1142.8 L255.5,1142.9 L256.2,1142.9 L256.9,1142.5 L257.6,1142.2 L258.3,1142.1 L259.0,1142.0 L259.7,1142.0 L260.4,1141.5 L261.1,1141.5 L261.8,1141.9 L262.5,1141.5 L263.2,1141.0 L263.9,1140.6 L264.6,1140.5 L265.3,1140.5 L266.0,1140.7 L266.7,1141.0 L267.4,1140.5 L268.1,1140.3 L268.8,1141.0 L269.5,1140.6 L270.2,1139.6 L270.9,1139.9 L271.6,1140.5 L272.3,1140.1 L273.0,1139.8 L273.7,1139.5 L274.4,1138.8 L275.1,1139.2 L275.8,1140.2 L276.5,1140.4 L277.2,1139.8 L277.9,1139.6 L278.6,1139.6 L279.3,1139.6 L280.0,1139.3 L280.7,1138.9 L281.4,1138.9 L282.1,1139.2 L282.8,1138.8 L283.5,1138.3 L284.2,1138.6 L284.9,1138.7 L285.6,1138.0 L286.3,1137.5 L287.0,1137.4 L287.7,1136.8 L288.4,1136.5 L289.1,1137.2 L289.8,1137.6 L290.5,1137.5 L291.2,1137.3 L291.9,1137.3 L292.6,1137.5 L293.3,1137.6 L294.0,1137.9 L294.7,1137.9 L295.4,1137.2 L296.1,1136.9 L296.8,1136.6 L297.5,1135.6 L298.2,1135.2 L298.9,1135.0 L299.6,1134.7 L300.3,1135.2 L301.0,1135.2 L301.7,1134.1 L302.4,1133.9 L303.1,1134.6 L303.8,1134.3 L304.5,1133.5 L305.2,1133.4 L305.9,1133.1 L306.6,1132.4 L307.3,1132.5 L308.0,1132.7 L308.7,1132.8 L309.4,1132.7 L310.1,1132.5 L310.8,1132.3 L311.5,1132.4 L312.2,1132.6 L312.9,1132.8 L313.6,1132.5 L314.3,1131.6 L315.0,1131.2 L315.7,1131.6 L316.4,1132.2 L317.1,1131.9 L317.8,1131.0 L318.5,1130.6 L319.2,1130.7 L319.9,1130.8 L320.6,1130.7 L321.3,1131.0 L322.0,1131.4 L322.7,1131.1 L323.4,1130.7 L324.1,1130.2 L324.8,1130.3 L325.5,1130.3 L326.2,1130.2 L326.9,1130.4 L327.6,1130.1 L328.3,1129.5 L329.0,1129.6 L329.7,1129.6 L330.4,1129.1 L331.1,1128.8 L331.8,1128.8 L332.5,1128.7 L333.2,1128.6 L333.9,1128.7 L334.6,1128.8 L335.3,1128.6 L336.0,1128.6 L336.7,1128.5 L337.4,1128.2 L338.1,1127.9 L338.8,1127.7 L339.5,1127.8 L340.2,1128.1 L340.9,1128.3 L341.6,1127.6 L342.3,1126.5 L343.0,1126.3 L343.7,1126.6 L344.4,1126.6 L345.1,1126.0 L345.8,1125.1 L346.5,1124.5 L347.2,1123.9 L347.9,1123.5 L348.6,1123.2 L349.3,1123.3 L350.0,1123.4 L350.7,1122.7 L351.4,1122.3 L352.1,1122.7 L352.8,1122.5 L353.5,1122.2 L354.2,1122.4 L354.9,1122.0 L355.6,1121.6 L356.3,1122.1 L357.0,1122.9 L357.7,1123.4 L358.4,1122.8 L359.1,1121.9 L359.8,1121.5 L360.5,1121.6 L361.2,1122.1 L361.9,1122.2 L362.6,1122.0 L363.3,1121.8 L364.0,1121.1 L364.7,1120.9 L365.4,1120.9 L366.1,1120.7 L366.8,1120.8 L367.5,1121.1 L368.2,1120.9 L368.9,1121.0 L369.6,1121.7 L370.3,1121.9 L371.0,1121.0 L371.7,1119.8 L372.4,1119.8 L373.1,1120.0 L373.8,1119.7 L374.5,1119.5 L375.2,1119.7 L375.9,1120.0 L376.6,1119.5 L377.3,1118.8 L378.0,1118.9 L378.7,1119.1 L379.4,1119.2 L380.1,1119.5 L380.8,1119.6 L381.5,1119.5 L382.2,1119.8 L382.9,1120.0 L383.6,1120.0 L384.3,1119.5 L385.0,1119.8 L385.7,1121.0 L386.4,1120.6 L387.1,1120.2 L387.8,1121.0 L388.5,1121.5 L389.2,1122.4 L389.9,1123.0 L390.6,1122.6 L391.3,1122.1 L392.0,1122.2 L392.7,1122.7 L393.4,1123.0 L394.1,1123.3 L394.8,1123.0 L395.5,1122.6 L396.2,1123.1 L396.9,1123.8 L397.6,1124.1 L398.3,1124.4 L399.0,1124.9 L399.7,1125.5 L400.4,1125.7 L401.1,1125.5 L401.8,1125.7 L402.5,1126.7 L403.2,1127.5 L403.9,1127.4 L404.6,1127.1 L405.3,1127.3 L406.0,1128.1 L406.7,1128.3 L407.4,1128.2 L408.1,1128.7 L408.8,1129.2 L409.5,1129.4 L410.2,1129.7 L410.9,1130.2 L411.6,1130.3 L412.3,1130.1 L413.0,1130.3 L413.7,1130.2 L414.4,1129.5 L415.1,1129.6 L415.8,1130.3 L416.5,1130.8 L417.2,1130.8 L417.9,1130.8 L418.6,1131.5 L419.3,1132.0 L420.0,1131.9 L420.7,1132.0 L421.4,1131.5 L422.1,1130.9 L422.8,1131.1 L423.5,1131.5 L424.2,1131.9 L424.9,1132.0 L425.6,1132.9 L426.3,1134.2 L427.0,1134.4 L427.7,1134.7 L428.4,1135.0 L429.1,1134.6 L429.8,1134.8 L430.5,1135.2 L431.2,1135.2 L431.9,1135.4 L432.6,1136.1 L433.3,1136.9 L434.0,1137.1 L434.7,1137.1 L435.4,1136.9 L436.1,1136.1 L436.8,1136.0 L437.5,1137.6 L438.2,1138.7 L438.9,1138.2 L439.6,1137.7 L440.3,1138.2 L441.0,1138.5 L441.7,1138.2 L442.4,1138.4 L443.1,1138.7 L443.8,1138.9 L444.5,1139.8 L445.2,1140.2 L445.9,1139.8 L446.6,1139.3 L447.3,1139.6 L448.0,1140.3 L448.7,1140.4 L449.4,1140.0 L450.1,1139.3 L450.8,1139.1 L451.5,1139.1 L452.2,1139.6 L452.9,1140.2 L453.6,1140.0 L454.3,1139.9 L455.0,1140.4 L455.7,1140.7 L456.4,1140.7 L457.1,1141.0 L457.8,1141.4 L458.5,1141.2 L459.2,1140.7 L459.9,1140.4 L460.6,1140.2 L461.3,1140.4 L462.0,1140.7 L462.7,1140.3 L463.4,1139.8 L464.1,1139.8 L464.8,1140.3 L465.5,1140.8 L466.2,1140.4 L466.9,1139.9 L467.6,1140.0 L468.3,1140.3 L469.0,1140.0 L469.7,1139.4 L470.4,1139.1 L471.1,1138.8 L471.8,1138.8 L472.5,1139.2 L473.2,1139.0 L473.9,1138.8 L474.6,1138.8 L475.3,1138.2 L476.0,1137.7 L476.7,1137.7 L477.4,1137.2 L478.1,1136.7 L478.8,1136.8 L479.5,1137.0 L480.2,1137.0 L480.9,1136.3 L481.6,1135.5 L482.3,1135.6 L483.0,1135.9 L483.7,1135.7 L484.4,1135.2 L485.1,1134.7 L485.8,1134.8 L486.5,1135.1 L487.2,1134.7 L487.9,1133.9 L488.6,1133.4 L489.3,1133.4 L490.0,1133.5 L490.7,1133.0 L491.4,1132.5 L492.1,1132.0 L492.8,1131.7 L493.5,1132.0 L494.2,1131.9 L494.9,1131.6 L495.6,1131.5 L496.3,1131.2 L497.0,1131.3 L497.7,1131.8 L498.4,1131.4 L499.1,1130.2 L499.8,1129.4 L500.5,1129.1 L501.2,1128.6 L501.9,1127.7 L502.6,1127.4 L503.3,1127.5 L504.0,1127.1 L504.7,1127.1 L505.4,1127.2 L506.1,1126.6 L506.8,1126.3 L507.5,1126.2 L508.2,1125.9 L508.9,1125.9 L509.6,1126.2 L510.3,1126.4 L511.0,1126.2 L511.7,1125.5 L512.4,1125.1 L513.1,1125.0 L513.8,1125.5 L514.5,1125.7 L515.2,1125.4 L515.9,1125.5 L516.6,1125.2 L517.3,1125.1 L518.0,1125.8 L518.7,1126.3 L519.4,1126.4 L520.1,1126.4 L520.8,1126.4 L521.5,1126.0 L522.2,1125.8 L522.9,1126.3 L523.6,1127.0 L524.3,1127.3 L525.0,1127.7 L525.7,1128.5 L526.4,1128.5 L527.1,1128.2 L527.8,1128.4 L528.5,1128.8 L529.2,1129.1 L529.9,1129.3 L530.6,1129.4 L531.3,1129.3 L532.0,1129.4 L532.7,1129.6 L533.4,1129.6 L534.1,1130.0 L534.8,1130.3 L535.5,1130.2 L536.2,1130.6 L536.9,1131.3 L537.6,1131.8 L538.3,1132.8 L539.0,1133.1 L539.7,1132.8 L540.4,1133.0 L541.1,1133.6 L541.8,1133.7 L542.5,1133.8 L543.2,1134.1 L543.9,1134.2 L544.6,1134.7 L545.3,1135.4 L546.0,1135.2 L546.7,1135.0 L547.4,1135.4 L548.1,1135.9 L548.8,1135.9 L549.5,1136.1 L550.2,1136.6 L550.9,1137.2 L551.6,1137.9 L552.3,1138.0 L553.0,1137.8 L553.7,1137.6 L554.4,1138.1 L555.1,1138.9 L555.8,1139.3 L556.5,1139.3 L557.2,1139.1 L557.9,1139.3 L558.6,1139.3 L559.3,1139.4 L560.0,1140.0 L560.7,1140.1 L561.4,1140.3 L562.1,1141.0 L562.8,1141.7 L563.5,1142.1 L564.2,1141.9 L564.9,1141.8 L565.6,1141.7 L566.3,1141.8 L567.0,1142.3 L567.7,1142.3 L568.4,1142.0 L569.1,1142.1 L569.8,1142.8 L570.5,1143.1 L571.2,1142.7 L571.9,1142.8 L572.6,1143.2 L573.3,1143.1 L574.0,1143.2 L574.7,1143.3 L575.4,1143.6 L576.1,1143.6 L576.8,1142.6 L577.5,1142.5 L578.2,1143.7 L578.9,1144.4 L579.6,1144.4 L580.3,1144.1 L581.0,1144.3 L581.7,1144.4 L582.4,1144.3 L583.1,1144.4 L583.8,1144.9 L584.5,1145.6 L585.2,1145.8 L585.9,1145.4 L586.6,1145.5 L587.3,1145.6 L588.0,1145.9 L588.7,1146.2 L589.4,1146.1 L590.1,1146.2 L590.8,1146.5 L591.5,1146.6 L592.2,1146.6 L592.9,1146.7 L593.6,1146.5 L594.3,1146.3 L595.0,1146.8 L595.7,1147.2 L596.4,1146.8 L597.1,1146.5 L597.8,1146.7 L598.5,1147.2 L599.2,1147.6 L599.9,1147.6 L600.6,1147.9 L601.3,1148.0 L602.0,1148.0 L602.7,1147.9 L603.4,1147.8 L604.1,1148.0 L604.8,1147.7 L605.5,1147.1 L606.2,1147.6 L606.9,1148.1 L607.6,1147.7 L608.3,1147.8 L609.0,1147.8 L609.7,1147.4 L610.4,1147.5 L611.1,1147.6 L611.8,1148.0 L612.5,1148.3 L613.2,1148.1 L613.9,1147.9 L614.6,1148.0 L615.3,1148.2 L616.0,1148.3 L616.7,1148.2 L617.4,1148.3 L618.1,1148.6 L618.8,1148.3 L619.5,1148.5 L620.2,1149.2 L620.9,1149.4 L621.6,1149.2 L622.3,1148.8 L623.0,1148.8 L623.7,1148.5 L624.4,1148.4 L625.1,1148.9 L625.8,1149.0 L626.5,1149.0 L627.2,1149.1 L627.9,1149.6 L628.6,1149.6 L629.3,1149.0 L630.0,1148.3 L630.7,1148.1 L631.4,1148.7 L632.1,1149.2 L632.8,1149.3 L633.5,1149.7 L634.2,1149.7 L634.9,1149.4 L635.6,1149.0 L636.3,1148.9 L637.0,1149.5 L637.7,1150.2 L638.4,1150.3 L639.1,1149.7 L639.8,1149.1 L640.5,1149.3 L641.2,1149.5 L641.9,1149.2 L642.6,1149.2 L643.3,1149.2 L644.0,1149.1 L644.7,1149.2 L645.4,1149.8 L646.1,1150.3 L646.8,1150.3 L647.5,1149.9 L648.2,1149.4 L648.9,1149.2 L649.6,1149.8 L650.3,1150.2 L651.0,1149.9 L651.7,1149.7 L652.4,1149.8 L653.1,1150.1 L653.8,1149.9 L654.5,1149.2 L655.2,1149.0 L655.9,1149.3 L656.6,1149.9 L657.3,1150.3 L658.0,1150.2 L658.7,1150.0 L659.4,1149.8 L660.1,1149.9 L660.8,1150.3 L661.5,1150.5 L662.2,1150.4 L662.9,1149.9 L663.6,1149.5 L664.3,1149.7 L665.0,1149.6 L665.7,1150.0 L666.4,1151.0 L667.1,1150.8 L667.8,1150.2 L668.5,1150.4 L669.2,1150.6 L669.9,1150.2 L670.6,1150.1 L671.3,1150.5 L672.0,1150.7 L672.7,1150.1 L673.4,1149.6 L674.1,1150.3 L674.8,1150.8 L675.5,1150.0 L676.2,1149.5 L676.9,1149.6 L677.6,1149.7 L678.3,1150.4 L679.0,1150.8 L679.7,1150.7 L680.4,1150.5 L681.1,1150.2 L681.8,1150.2 L682.5,1150.2 L683.2,1150.1 L683.9,1150.5 L684.6,1150.9 L685.3,1150.8 L686.0,1150.6 L686.7,1150.5 L687.4,1150.5 L688.1,1150.7 L688.8,1150.7 L689.5,1150.3 L690.2,1149.9 L690.9,1149.9 L691.6,1150.1 L692.3,1150.3 L693.0,1150.3 L693.7,1150.5 L694.4,1150.9 L695.1,1151.0 L695.8,1150.9 L696.5,1151.0 L697.2,1150.8 L697.9,1150.5 L698.6,1150.4 L699.3,1150.6 L700.0,1150.4 L700.7,1150.1 L701.4,1149.7 L702.1,1149.8 L702.8,1150.8 L703.5,1151.1 L704.2,1150.3 L704.9,1150.0 L705.6,1150.8 L706.3,1151.1 L707.0,1150.6 L707.7,1150.5 L708.4,1151.1 L709.1,1151.4 L709.8,1151.5 L710.5,1151.5 L711.2,1151.0 L711.9,1151.1 L712.6,1151.6 L713.3,1151.9 L714.0,1151.3 L714.7,1149.8 L715.4,1149.6 L716.1,1150.7 L716.8,1150.7 L717.5,1150.1 L718.2,1149.9 L718.9,1150.3 L719.6,1150.5 L720.3,1150.2 L721.0,1150.2 L721.7,1149.8 L722.4,1149.4 L723.1,1150.6 L723.8,1151.5 L724.5,1151.2 L725.2,1151.0 L725.9,1150.9 L726.6,1150.3 L727.3,1150.0 L728.0,1150.0 L728.7,1149.8 L729.4,1150.2 L730.1,1150.8 L730.8,1150.7 L731.5,1150.5 L732.2,1150.4 L732.9,1150.5 L733.6,1150.7 L734.3,1151.1 L735.0,1151.9 L735.7,1151.8 L736.4,1151.4 L737.1,1151.5 L737.8,1151.2 L738.5,1151.2 L739.2,1151.0 L739.9,1150.8 L740.6,1150.6 L741.3,1150.5 L742.0,1150.7 L742.7,1150.9 L743.4,1151.3 L744.1,1151.8 L744.8,1150.9 L745.5,1149.9 L746.2,1150.2 L746.9,1150.9 L747.6,1151.3 L748.3,1151.1 L749.0,1150.7 L749.7,1150.8 L750.4,1150.8 L751.1,1150.9 L751.8,1151.3 L752.5,1151.8 L753.2,1152.1 L753.9,1151.8 L754.6,1151.1 L755.3,1150.8 L756.0,1151.0 L756.7,1150.8 L757.4,1150.9 L758.1,1151.7 L758.8,1152.3 L759.5,1152.1 L760.2,1151.7 L760.9,1151.4 L761.6,1152.2 L762.3,1152.6 L763.0,1151.7 L763.7,1151.3 L764.4,1151.1 L765.1,1150.8 L765.8,1150.8 L766.5,1151.0 L767.2,1151.6 L767.9,1151.5 L768.6,1150.7 L769.3,1150.7 L770.0,1151.6" fill="none" stroke="#000000" stroke-width="3.00" stroke-linejoin="round" stroke-linecap="round"/>
<path d="M70.0,1146.0 L70.7,1145.9 L71.4,1146.1 L72.1,1146.0 L72.8,1145.8 L73.5,1146.3 L74.2,1146.1 L74.9,1145.5 L75.6,1145.7 L76.3,1146.3 L77.0,1146.7 L77.7,1146.8 L78.4,1146.6 L79.1,1146.3 L79.8,1146.3 L80.5,1146.2 L81.2,1145.8 L81.9,1145.8 L82.6,1146.0 L83.3,1145.9 L84.0,1146.0 L84.7,1146.0 L85.4,1146.1 L86.1,1146.1 L86.8,1145.7 L87.5,1145.1 L88.2,1145.4 L88.9,1146.2 L89.6,1146.1 L90.3,1145.9 L91.0,1146.3 L91.7,1146.2 L92.4,1145.7 L93.1,1145.8 L93.8,1146.5 L94.5,1146.0 L95.2,1145.3 L95.9,1145.8 L96.6,1146.2 L97.3,1146.0 L98.0,1145.9 L98.7,1145.9 L99.4,1145.8 L100.1,1145.9 L100.8,1146.2 L101.5,1146.1 L102.2,1145.8 L102.9,1145.8 L103.6,1145.8 L104.3,1145.4 L105.0,1145.2 L105.7,1145.3 L106.4,1145.6 L107.1,1145.6 L107.8,1145.4 L108.5,1145.2 L109.2,1145.0 L109.9,1144.5 L110.6,1144.1 L111.3,1144.2 L112.0,1144.7 L112.7,1145.4 L113.4,1145.8 L114.1,1145.5 L114.8,1145.2 L115.5,1144.9 L116.2,1144.6 L116.9,1144.6 L117.6,1144.5 L118.3,1145.0 L119.0,1146.0 L119.7,1146.3 L120.4,1145.8 L121.1,1145.4 L121.8,1145.0 L122.5,1144.3 L123.2,1144.2 L123.9,1144.6 L124.6,1144.5 L125.3,1144.3 L126.0,1144.5 L126.7,1144.7 L127.4,1144.6 L128.1,1144.4 L128.8,1144.2 L129.5,1144.3 L130.2,1145.1 L130.9,1145.1 L131.6,1144.4 L132.3,1144.4 L133.0,1144.4 L133.7,1144.4 L134.4,1144.6 L135.1,1144.9 L135.8,1144.6 L136.5,1144.0 L137.2,1144.1 L137.9,1144.0 L138.6,1143.9 L139.3,1144.0 L140.0,1144.4 L140.7,1144.6 L141.4,1144.3 L142.1,1143.7 L142.8,1142.8 L143.5,1142.9 L144.2,1143.7 L144.9,1144.2 L145.6,1144.0 L146.3,1143.4 L147.0,1142.9 L147.7,1142.5 L148.4,1142.7 L149.1,1143.3 L149.8,1143.4 L150.5,1143.5 L151.2,1143.5 L151.9,1142.8 L152.6,1142.7 L153.3,1143.3 L154.0,1143.6 L154.7,1143.9 L155.4,1143.9 L156.1,1143.2 L156.8,1142.5 L157.5,1142.6 L158.2,1143.0 L158.9,1142.9 L159.6,1143.1 L160.3,1143.0 L161.0,1142.5 L161.7,1142.5 L162.4,1143.1 L163.1,1143.1 L163.8,1143.0 L164.5,1143.5 L165.2,1143.1 L165.9,1142.2 L166.6,1142.9 L167.3,1143.2 L168.0,1142.9 L168.7,1142.9 L169.4,1143.0 L170.1,1143.3 L170.8,1143.3 L171.5,1142.6 L172.2,1142.2 L172.9,1142.0 L173.6,1141.8 L174.3,1141.8 L175.0,1142.1 L175.7,1142.0 L176.4,1142.1 L177.1,1142.4 L177.8,1142.1 L178.5,1141.8 L179.2,1141.5 L179.9,1141.5 L180.6,1142.3 L181.3,1142.2 L182.0,1141.5 L182.7,1140.9 L183.4,1140.8 L184.1,1140.8 L184.8,1141.3 L185.5,1142.1 L186.2,1142.1 L186.9,1141.9 L187.6,1141.3 L188.3,1140.5 L189.0,1140.6 L189.7,1141.5 L190.4,1141.9 L191.1,1141.7 L191.8,1141.5 L192.5,1141.5 L193.2,1141.5 L193.9,1141.0 L194.6,1140.7 L195.3,1140.8 L196.0,1140.3 L196.7,1140.0 L197.4,1140.2 L198.1,1139.9 L198.8,1139.9 L199.5,1140.2 L200.2,1140.0 L200.9,1140.0 L201.6,1140.6 L202.3,1141.0 L203.0,1140.9 L203.7,1140.4 L204.4,1139.9 L205.1,1140.1 L205.8,1140.0 L206.5,1139.6 L207.2,1139.6 L207.9,1139.4 L208.6,1138.9 L209.3,1138.8 L210.0,1139.5 L210.7,1140.1 L211.4,1140.4 L212.1,1140.3 L212.8,1139.9 L213.5,1140.1 L214.2,1140.0 L214.9,1139.3 L215.6,1139.0 L216.3,1138.9 L217.0,1138.4 L217.7,1138.5 L218.4,1138.9 L219.1,1138.9 L219.8,1138.9 L220.5,1139.1 L221.2,1139.2 L221.9,1139.0 L222.6,1138.6 L223.3,1138.2 L224.0,1137.6 L224.7,1138.1 L225.4,1139.1 L226.1,1139.1 L226.8,1138.4 L227.5,1138.0 L228.2,1138.1 L228.9,1138.0 L229.6,1138.0 L230.3,1138.7 L231.0,1138.6 L231.7,1138.0 L232.4,1138.1 L233.1,1138.2 L233.8,1137.9 L234.5,1137.6 L235.2,1137.3 L235.9,1136.8 L236.6,1136.3 L237.3,1136.5 L238.0,1136.8 L238.7,1136.9 L239.4,1136.9 L240.1,1136.5 L240.8,1135.7 L241.5,1135.3 L242.2,1135.4 L242.9,1135.7 L243.6,1135.2 L244.3,1134.7 L245.0,1135.5 L245.7,1136.0 L246.4,1135.4 L247.1,1135.1 L247.8,1135.1 L248.5,1135.1 L249.2,1134.7 L249.9,1134.7 L250.6,1135.2 L251.3,1134.9 L252.0,1134.5 L252.7,1134.6 L253.4,1134.6 L254.1,1134.7 L254.8,1134.8 L255.5,1134.3 L256.2,1133.2 L256.9,1132.8 L257.6,1133.1 L258.3,1132.3 L259.0,1131.7 L259.7,1132.2 L260.4,1132.2 L261.1,1132.0 L261.8,1131.9 L262.5,1132.1 L263.2,1131.9 L263.9,1131.3 L264.6,1131.1 L265.3,1131.0 L266.0,1131.3 L266.7,1131.8 L267.4,1131.8 L268.1,1131.9 L268.8,1132.4 L269.5,1132.3 L270.2,1131.9 L270.9,1131.5 L271.6,1130.9 L272.3,1130.4 L273.0,1130.3 L273.7,1130.0 L274.4,1129.4 L275.1,1129.8 L275.8,1130.2 L276.5,1129.7 L277.2,1129.8 L277.9,1130.4 L278.6,1130.6 L279.3,1129.9 L280.0,1129.5 L280.7,1130.0 L281.4,1130.4 L282.1,1130.4 L282.8,1129.6 L283.5,1128.6 L284.2,1128.1 L284.9,1128.2 L285.6,1128.1 L286.3,1127.5 L287.0,1127.0 L287.7,1126.1 L288.4,1125.2 L289.1,1125.1 L289.8,1125.0 L290.5,1124.6 L291.2,1124.4 L291.9,1124.4 L292.6,1124.3 L293.3,1124.2 L294.0,1123.8 L294.7,1123.1 L295.4,1122.5 L296.1,1122.2 L296.8,1122.1 L297.5,1122.3 L298.2,1122.6 L298.9,1122.0 L299.6,1120.9 L300.3,1120.2 L301.0,1120.0 L301.7,1120.0 L302.4,1120.3 L303.1,1120.2 L303.8,1119.4 L304.5,1118.5 L305.2,1118.0 L305.9,1118.0 L306.6,1118.3 L307.3,1117.8 L308.0,1117.2 L308.7,1117.9 L309.4,1117.8 L310.1,1116.3 L310.8,1116.0 L311.5,1116.2 L312.2,1115.7 L312.9,1115.3 L313.6,1114.9 L314.3,1114.2 L315.0,1114.0 L315.7,1113.9 L316.4,1113.9 L317.1,1114.0 L317.8,1114.0 L318.5,1113.5 L319.2,1113.1 L319.9,1113.5 L320.6,1113.6 L321.3,1112.2 L322.0,1110.9 L322.7,1111.0 L323.4,1111.1 L324.1,1110.9 L324.8,1111.0 L325.5,1111.1 L326.2,1111.2 L326.9,1111.8 L327.6,1112.1 L328.3,1111.5 L329.0,1110.2 L329.7,1109.2 L330.4,1108.9 L331.1,1109.1 L331.8,1109.0 L332.5,1108.8 L333.2,1109.3 L333.9,1109.8 L334.6,1109.7 L335.3,1109.3 L336.0,1108.7 L336.7,1108.4 L337.4,1108.2 L338.1,1108.1 L338.8,1107.5 L339.5,1106.3 L340.2,1105.4 L340.9,1105.6 L341.6,1106.0 L342.3,1105.9 L343.0,1105.3 L343.7,1104.4 L344.4,1104.2 L345.1,1103.7 L345.8,1102.8 L346.5,1102.8 L347.2,1103.0 L347.9,1102.7 L348.6,1102.1 L349.3,1102.0 L350.0,1102.1 L350.7,1102.0 L351.4,1101.7 L352.1,1101.3 L352.8,1100.9 L353.5,1100.6 L354.2,1099.9 L354.9,1099.3 L355.6,1099.2 L356.3,1098.7 L357.0,1098.3 L357.7,1098.6 L358.4,1098.8 L359.1,1098.9 L359.8,1099.1 L360.5,1098.6 L361.2,1097.4 L361.9,1096.8 L362.6,1097.3 L363.3,1097.6 L364.0,1097.4 L364.7,1097.1 L365.4,1097.0 L366.1,1097.0 L366.8,1096.5 L367.5,1096.6 L368.2,1097.1 L368.9,1096.9 L369.6,1096.8 L370.3,1097.4 L371.0,1098.2 L371.7,1098.3 L372.4,1097.4 L373.1,1096.7 L373.8,1097.5 L374.5,1098.0 L375.2,1097.6 L375.9,1097.2 L376.6,1096.7 L377.3,1096.7 L378.0,1097.0 L378.7,1097.3 L379.4,1097.4 L380.1,1097.6 L380.8,1097.9 L381.5,1097.9 L382.2,1097.7 L382.9,1098.3 L383.6,1098.7 L384.3,1098.3 L385.0,1098.4 L385.7,1098.7 L386.4,1098.9 L387.1,1099.3 L387.8,1099.4 L388.5,1099.7 L389.2,1100.6 L389.9,1101.0 L390.6,1101.3 L391.3,1102.1 L392.0,1102.3 L392.7,1102.0 L393.4,1102.1 L394.1,1102.6 L394.8,1103.2 L395.5,1103.7 L396.2,1104.0 L396.9,1103.9 L397.6,1103.9 L398.3,1104.4 L399.0,1105.1 L399.7,1105.5 L400.4,1105.8 L401.1,1106.1 L401.8,1106.5 L402.5,1107.0 L403.2,1107.7 L403.9,1108.6 L404.6,1109.2 L405.3,1109.6 L406.0,1109.8 L406.7,1110.3 L407.4,1111.0 L408.1,1111.4 L408.8,1111.8 L409.5,1111.9 L410.2,1112.3 L410.9,1112.9 L411.6,1113.0 L412.3,1113.4 L413.0,1114.2 L413.7,1114.3 L414.4,1114.3 L415.1,1114.4 L415.8,1114.8 L416.5,1115.4 L417.2,1116.5 L417.9,1117.4 L418.6,1117.7 L419.3,1117.9 L420.0,1118.5 L420.7,1118.8 L421.4,1118.4 L422.1,1118.4 L422.8,1119.1 L423.5,1120.1 L424.2,1120.8 L424.9,1120.7 L425.6,1120.5 L426.3,1120.9 L427.0,1121.2 L427.7,1121.6 L428.4,1122.8 L429.1,1123.9 L429.8,1123.7 L430.5,1123.3 L431.2,1123.2 L431.9,1122.7 L432.6,1122.9 L433.3,1123.7 L434.0,1123.8 L434.7,1124.4 L435.4,1125.1 L436.1,1125.1 L436.8,1125.1 L437.5,1125.2 L438.2,1125.6 L438.9,1125.9 L439.6,1125.5 L440.3,1125.5 L441.0,1125.8 L441.7,1126.0 L442.4,1126.6 L443.1,1127.0 L443.8,1126.7 L444.5,1126.6 L445.2,1127.2 L445.9,1127.1 L446.6,1126.6 L447.3,1126.4 L448.0,1126.6 L448.7,1127.0 L449.4,1127.4 L450.1,1127.2 L450.8,1127.2 L451.5,1127.3 L452.2,1126.7 L452.9,1126.4 L453.6,1127.0 L454.3,1127.5 L455.0,1127.2 L455.7,1127.0 L456.4,1126.8 L457.1,1126.6 L457.8,1127.0 L458.5,1127.0 L459.2,1126.7 L459.9,1126.3 L460.6,1125.7 L461.3,1126.0 L462.0,1126.6 L462.7,1126.4 L463.4,1126.4 L464.1,1126.4 L464.8,1125.9 L465.5,1125.5 L466.2,1125.2 L466.9,1124.6 L467.6,1124.3 L468.3,1124.3 L469.0,1124.0 L469.7,1123.8 L470.4,1123.8 L471.1,1123.6 L471.8,1123.1 L472.5,1122.2 L473.2,1121.8 L473.9,1121.7 L474.6,1121.2 L475.3,1120.8 L476.0,1120.9 L476.7,1120.6 L477.4,1119.6 L478.1,1118.7 L478.8,1118.2 L479.5,1117.7 L480.2,1117.1 L480.9,1116.2 L481.6,1115.5 L482.3,1115.5 L483.0,1115.7 L483.7,1115.0 L484.4,1113.9 L485.1,1113.8 L485.8,1113.9 L486.5,1112.8 L487.2,1111.6 L487.9,1111.2 L488.6,1111.3 L489.3,1110.8 L490.0,1109.4 L490.7,1108.3 L491.4,1108.3 L492.1,1107.6 L492.8,1106.3 L493.5,1105.6 L494.2,1105.2 L494.9,1104.3 L495.6,1103.9 L496.3,1104.1 L497.0,1103.9 L497.7,1102.9 L498.4,1101.8 L499.1,1101.0 L499.8,1100.3 L500.5,1099.9 L501.2,1099.7 L501.9,1099.6 L502.6,1098.9 L503.3,1098.0 L504.0,1097.5 L504.7,1096.9 L505.4,1095.9 L506.1,1095.0 L506.8,1094.6 L507.5,1094.4 L508.2,1093.8 L508.9,1093.5 L509.6,1093.5 L510.3,1092.9 L511.0,1091.5 L511.7,1091.3 L512.4,1092.3 L513.1,1092.6 L513.8,1091.9 L514.5,1091.3 L515.2,1091.4 L515.9,1091.6 L516.6,1091.3 L517.3,1091.1 L518.0,1091.4 L518.7,1091.2 L519.4,1091.2 L520.1,1091.1 L520.8,1090.9 L521.5,1091.0 L522.2,1091.3 L522.9,1091.9 L523.6,1092.3 L524.3,1092.4 L525.0,1092.6 L525.7,1092.4 L526.4,1092.0 L527.1,1092.6 L527.8,1093.6 L528.5,1094.3 L529.2,1094.9 L529.9,1095.4 L530.6,1096.0 L531.3,1096.1 L532.0,1096.3 L532.7,1097.4 L533.4,1098.2 L534.1,1099.2 L534.8,1100.5 L535.5,1101.2 L536.2,1101.8 L536.9,1102.3 L537.6,1102.5 L538.3,1103.2 L539.0,1104.5 L539.7,1105.8 L540.4,1106.8 L541.1,1107.6 L541.8,1108.5 L542.5,1109.5 L543.2,1111.1 L543.9,1112.3 L544.6,1113.1 L545.3,1113.5 L546.0,1113.7 L546.7,1114.6 L547.4,1115.9 L548.1,1116.2 L548.8,1115.9 L549.5,1116.6 L550.2,1117.8 L550.9,1118.1 L551.6,1118.4 L552.3,1119.4 L553.0,1120.6 L553.7,1121.0 L554.4,1121.2 L555.1,1121.9 L555.8,1122.5 L556.5,1122.6 L557.2,1122.6 L557.9,1123.1 L558.6,1124.2 L559.3,1124.6 L560.0,1124.4 L560.7,1124.6 L561.4,1124.8 L562.1,1125.7 L562.8,1126.5 L563.5,1126.2 L564.2,1126.6 L564.9,1127.4 L565.6,1127.7 L566.3,1128.2 L567.0,1129.2 L567.7,1129.6 L568.4,1129.5 L569.1,1130.2 L569.8,1131.0 L570.5,1130.9 L571.2,1130.6 L571.9,1130.9 L572.6,1131.7 L573.3,1132.3 L574.0,1133.1 L574.7,1133.6 L575.4,1133.4 L576.1,1133.7 L576.8,1134.4 L577.5,1134.8 L578.2,1134.9 L578.9,1134.8 L579.6,1135.3 L580.3,1135.9 L581.0,1136.0 L581.7,1135.9 L582.4,1136.2 L583.1,1136.5 L583.8,1136.3 L584.5,1136.9 L585.2,1137.3 L585.9,1137.1 L586.6,1136.9 L587.3,1137.3 L588.0,1137.9 L588.7,1138.9 L589.4,1139.3 L590.1,1139.3 L590.8,1139.7 L591.5,1139.6 L592.2,1139.4 L592.9,1139.7 L593.6,1139.9 L594.3,1140.3 L595.0,1140.5 L595.7,1140.2 L596.4,1140.4 L597.1,1140.9 L597.8,1140.5 L598.5,1140.2 L599.2,1140.7 L599.9,1141.3 L600.6,1141.8 L601.3,1142.2 L602.0,1142.3 L602.7,1142.4 L603.4,1142.1 L604.1,1141.5 L604.8,1141.6 L605.5,1141.9 L606.2,1142.4 L606.9,1142.7 L607.6,1142.6 L608.3,1142.6 L609.0,1142.7 L609.7,1142.6 L610.4,1142.7 L611.1,1143.4 L611.8,1144.0 L612.5,1143.6 L613.2,1143.0 L613.9,1143.1 L614.6,1143.5 L615.3,1143.7 L616.0,1143.5 L616.7,1143.4 L617.4,1143.5 L618.1,1143.2 L618.8,1143.3 L619.5,1143.9 L620.2,1144.0 L620.9,1143.9 L621.6,1144.5 L622.3,1144.8 L623.0,1144.4 L623.7,1144.3 L624.4,1144.4 L625.1,1143.8 L625.8,1141.9 L626.5,1139.4 L627.2,1136.2 L627.9,1133.3 L628.6,1132.1 L629.3,1132.3 L630.0,1134.2 L630.7,1137.2 L631.4,1140.0 L632.1,1142.6 L632.8,1144.0 L633.5,1144.4 L634.2,1144.6 L634.9,1144.8 L635.6,1144.9 L636.3,1145.2 L637.0,1145.7 L637.7,1146.6 L638.4,1146.9 L639.1,1146.3 L639.8,1146.2 L640.5,1146.1 L641.2,1146.0 L641.9,1146.2 L642.6,1146.4 L643.3,1146.4 L644.0,1146.3 L644.7,1146.5 L645.4,1146.4 L646.1,1146.4 L646.8,1146.5 L647.5,1146.9 L648.2,1146.9 L648.9,1147.1 L649.6,1147.6 L650.3,1147.1 L651.0,1146.7 L651.7,1147.1 L652.4,1147.4 L653.1,1147.6 L653.8,1147.8 L654.5,1147.4 L655.2,1146.8 L655.9,1146.8 L656.6,1147.4 L657.3,1147.4 L658.0,1147.1 L658.7,1147.3 L659.4,1147.4 L660.1,1147.0 L660.8,1147.3 L661.5,1147.6 L662.2,1147.5 L662.9,1147.4 L663.6,1147.2 L664.3,1147.1 L665.0,1147.6 L665.7,1147.7 L666.4,1147.5 L667.1,1147.6 L667.8,1147.9 L668.5,1148.9 L669.2,1149.4 L669.9,1148.9 L670.6,1148.5 L671.3,1148.1 L672.0,1147.3 L672.7,1146.8 L673.4,1147.5 L674.1,1148.3 L674.8,1148.2 L675.5,1148.5 L676.2,1148.8 L676.9,1148.8 L677.6,1148.6 L678.3,1148.5 L679.0,1148.8 L679.7,1148.7 L680.4,1148.2 L681.1,1148.2 L681.8,1148.3 L682.5,1148.6 L683.2,1148.4 L683.9,1148.4 L684.6,1148.7 L685.3,1148.8 L686.0,1148.9 L686.7,1148.6 L687.4,1148.5 L688.1,1148.8 L688.8,1148.9 L689.5,1149.0 L690.2,1149.0 L690.9,1148.6 L691.6,1148.7 L692.3,1149.3 L693.0,1149.7 L693.7,1149.3 L694.4,1148.8 L695.1,1149.1 L695.8,1149.4 L696.5,1149.3 L697.2,1149.0 L697.9,1148.8 L698.6,1148.8 L699.3,1149.0 L700.0,1148.9 L700.7,1148.7 L701.4,1149.2 L702.1,1149.5 L702.8,1149.5 L703.5,1149.4 L704.2,1149.1 L704.9,1149.3 L705.6,1149.6 L706.3,1149.5 L707.0,1150.1 L707.7,1150.5 L708.4,1150.1 L709.1,1149.7 L709.8,1149.7 L710.5,1150.0 L711.2,1149.9 L711.9,1149.2 L712.6,1149.3 L713.3,1149.8 L714.0,1150.2 L714.7,1150.5 L715.4,1150.1 L716.1,1149.9 L716.8,1150.4 L717.5,1150.3 L718.2,1149.9 L718.9,1149.8 L719.6,1149.7 L720.3,1149.7 L721.0,1150.0 L721.7,1150.2 L722.4,1149.9 L723.1,1149.6 L723.8,1149.9 L724.5,1150.6 L725.2,1150.1 L725.9,1149.0 L726.6,1148.7 L727.3,1149.7 L728.0,1150.6 L728.7,1150.4 L729.4,1150.1 L730.1,1150.6 L730.8,1150.5 L731.5,1150.1 L732.2,1149.9 L732.9,1149.5 L733.6,1149.2 L734.3,1149.8 L735.0,1150.3 L735.7,1150.3 L736.4,1150.1 L737.1,1149.3 L737.8,1149.3 L738.5,1150.3 L739.2,1150.3 L739.9,1150.4 L740.6,1151.0 L741.3,1150.9 L742.0,1150.5 L742.7,1150.3 L743.4,1149.9 L744.1,1149.9 L744.8,1150.2 L745.5,1150.2 L746.2,1150.1 L746.9,1150.2 L747.6,1150.6 L748.3,1150.2 L749.0,1149.8 L749.7,1150.3 L750.4,1150.5 L751.1,1150.1 L751.8,1150.0 L752.5,1149.8 L753.2,1149.6 L753.9,1150.0 L754.6,1150.4 L755.3,1150.4 L756.0,1150.3 L756.7,1150.4 L757.4,1150.7 L758.1,1151.0 L758.8,1150.8 L759.5,1150.6 L760.2,1150.6 L760.9,1150.4 L761.6,1150.9 L762.3,1151.5 L763.0,1151.3 L763.7,1150.4 L764.4,1150.1 L765.1,1150.3 L765.8,1150.3 L766.5,1149.7 L767.2,1149.7 L767.9,1150.2 L768.6,1150.5 L769.3,1150.8 L770.0,1151.0" fill="none" stroke="#ff0000" stroke-width="3.00" stroke-linejoin="round" stroke-linecap="round"/>
<path d="M70.0,1130.4 L70.7,1130.2 L71.4,1130.4 L72.1,1130.5 L72.8,1130.5 L73.5,1130.6 L74.2,1130.8 L74.9,1130.8 L75.6,1130.3 L76.3,1129.7 L77.0,1129.3 L77.7,1129.1 L78.4,1129.3 L79.1,1129.2 L79.8,1128.7 L80.5,1128.7 L81.2,1128.7 L81.9,1128.3 L82.6,1128.6 L83.3,1128.8 L84.0,1128.2 L84.7,1127.8 L85.4,1128.1 L86.1,1128.5 L86.8,1128.0 L87.5,1127.3 L88.2,1127.8 L88.9,1128.5 L89.6,1128.6 L90.3,1128.2 L91.0,1127.4 L91.7,1126.9 L92.4,1127.2 L93.1,1127.4 L93.8,1127.7 L94.5,1128.0 L95.2,1127.6 L95.9,1127.4 L96.6,1127.3 L97.3,1126.8 L98.0,1126.4 L98.7,1126.5 L99.4,1127.0 L100.1,1126.9 L100.8,1126.7 L101.5,1126.9 L102.2,1126.5 L102.9,1126.0 L103.6,1126.3 L104.3,1126.1 L105.0,1125.7 L105.7,1126.0 L106.4,1126.0 L107.1,1125.9 L107.8,1125.7 L108.5,1124.9 L109.2,1124.8 L109.9,1125.4 L110.6,1125.6 L111.3,1125.2 L112.0,1124.8 L112.7,1124.9 L113.4,1125.3 L114.1,1125.3 L114.8,1124.4 L115.5,1124.1 L116.2,1124.6 L116.9,1124.7 L117.6,1124.7 L118.3,1125.2 L119.0,1125.2 L119.7,1124.6 L120.4,1124.6 L121.1,1124.7 L121.8,1124.2 L122.5,1123.8 L123.2,1123.9 L123.9,1124.0 L124.6,1124.0 L125.3,1123.9 L126.0,1123.9 L126.7,1124.1 L127.4,1123.7 L128.1,1123.2 L128.8,1123.4 L129.5,1124.2 L130.2,1123.9 L130.9,1122.7 L131.6,1122.6 L132.3,1123.0 L133.0,1122.9 L133.7,1123.0 L134.4,1123.2 L135.1,1122.9 L135.8,1122.5 L136.5,1122.3 L137.2,1122.3 L137.9,1122.7 L138.6,1123.1 L139.3,1122.8 L140.0,1122.2 L140.7,1122.1 L141.4,1121.6 L142.1,1121.0 L142.8,1121.3 L143.5,1121.6 L144.2,1121.3 L144.9,1121.2 L145.6,1121.0 L146.3,1120.5 L147.0,1120.6 L147.7,1121.2 L148.4,1121.2 L149.1,1120.6 L149.8,1119.8 L150.5,1119.5 L151.2,1119.8 L151.9,1119.9 L152.6,1119.9 L153.3,1119.9 L154.0,1119.6 L154.7,1118.6 L155.4,1118.0 L156.1,1118.5 L156.8,1118.5 L157.5,1118.4 L158.2,1118.3 L158.9,1117.5 L159.6,1116.8 L160.3,1116.4 L161.0,1116.0 L161.7,1115.8 L162.4,1115.9 L163.1,1116.0 L163.8,1115.9 L164.5,1115.8 L165.2,1116.0 L165.9,1116.2 L166.6,1115.9 L167.3,1115.5 L168.0,1115.1 L168.7,1115.2 L169.4,1115.1 L170.1,1114.3 L170.8,1113.8 L171.5,1114.0 L172.2,1114.4 L172.9,1114.4 L173.6,1114.2 L174.3,1113.6 L175.0,1112.6 L175.7,1112.4 L176.4,1112.6 L177.1,1112.4 L177.8,1112.2 L178.5,1112.5 L179.2,1112.7 L179.9,1112.4 L180.6,1112.1 L181.3,1111.7 L182.0,1110.8 L182.7,1110.1 L183.4,1110.5 L184.1,1110.7 L184.8,1110.0 L185.5,1109.6 L186.2,1109.9 L186.9,1110.2 L187.6,1109.4 L188.3,1108.3 L189.0,1107.6 L189.7,1107.8 L190.4,1108.2 L191.1,1107.4 L191.8,1106.8 L192.5,1107.3 L193.2,1107.8 L193.9,1107.7 L194.6,1107.4 L195.3,1107.5 L196.0,1107.7 L196.7,1107.1 L197.4,1106.2 L198.1,1105.7 L198.8,1105.2 L199.5,1105.1 L200.2,1105.2 L200.9,1105.0 L201.6,1104.2 L202.3,1104.0 L203.0,1104.6 L203.7,1105.0 L204.4,1104.7 L205.1,1104.3 L205.8,1104.2 L206.5,1104.2 L207.2,1104.0 L207.9,1103.8 L208.6,1103.2 L209.3,1102.4 L210.0,1102.3 L210.7,1102.6 L211.4,1102.1 L212.1,1101.8 L212.8,1101.6 L213.5,1101.0 L214.2,1100.9 L214.9,1101.0 L215.6,1100.5 L216.3,1100.0 L217.0,1099.6 L217.7,1099.3 L218.4,1099.2 L219.1,1099.3 L219.8,1099.2 L220.5,1099.0 L221.2,1098.3 L221.9,1097.8 L222.6,1097.8 L223.3,1097.6 L224.0,1097.3 L224.7,1096.8 L225.4,1096.3 L226.1,1096.0 L226.8,1095.4 L227.5,1094.5 L228.2,1094.2 L228.9,1094.3 L229.6,1094.2 L230.3,1093.4 L231.0,1092.7 L231.7,1091.7 L232.4,1091.0 L233.1,1091.4 L233.8,1091.4 L234.5,1090.5 L235.2,1089.4 L235.9,1089.0 L236.6,1088.4 L237.3,1087.6 L238.0,1087.3 L238.7,1086.9 L239.4,1086.1 L240.1,1085.0 L240.8,1084.4 L241.5,1083.8 L242.2,1083.3 L242.9,1083.4 L243.6,1083.3 L244.3,1082.6 L245.0,1082.2 L245.7,1081.9 L246.4,1080.9 L247.1,1079.5 L247.8,1078.6 L248.5,1078.5 L249.2,1078.1 L249.9,1077.6 L250.6,1077.4 L251.3,1076.6 L252.0,1075.5 L252.7,1075.1 L253.4,1074.9 L254.1,1074.5 L254.8,1074.0 L255.5,1073.4 L256.2,1072.4 L256.9,1071.7 L257.6,1071.2 L258.3,1070.8 L259.0,1070.7 L259.7,1070.3 L260.4,1069.5 L261.1,1068.9 L261.8,1068.1 L262.5,1067.6 L263.2,1067.3 L263.9,1067.1 L264.6,1067.0 L265.3,1066.6 L266.0,1066.3 L266.7,1066.6 L267.4,1066.4 L268.1,1065.1 L268.8,1063.9 L269.5,1063.9 L270.2,1064.0 L270.9,1063.7 L271.6,1062.7 L272.3,1061.8 L273.0,1061.6 L273.7,1061.0 L274.4,1059.8 L275.1,1059.0 L275.8,1058.7 L276.5,1058.1 L277.2,1056.5 L277.9,1055.1 L278.6,1054.6 L279.3,1054.0 L280.0,1053.1 L280.7,1052.6 L281.4,1052.4 L282.1,1051.8 L282.8,1050.5 L283.5,1049.4 L284.2,1048.4 L284.9,1047.3 L285.6,1046.9 L286.3,1047.0 L287.0,1047.1 L287.7,1047.1 L288.4,1046.3 L289.1,1045.2 L289.8,1044.2 L290.5,1042.7 L291.2,1041.4 L291.9,1040.5 L292.6,1040.2 L293.3,1039.8 L294.0,1038.2 L294.7,1036.6 L295.4,1035.9 L296.1,1035.1 L296.8,1034.1 L297.5,1032.6 L298.2,1030.8 L298.9,1029.5 L299.6,1028.8 L300.3,1028.1 L301.0,1027.0 L301.7,1025.3 L302.4,1024.2 L303.1,1023.1 L303.8,1021.7 L304.5,1020.0 L305.2,1018.6 L305.9,1018.0 L306.6,1016.5 L307.3,1014.6 L308.0,1013.6 L308.7,1012.4 L309.4,1011.3 L310.1,1010.0 L310.8,1008.8 L311.5,1008.1 L312.2,1007.3 L312.9,1006.5 L313.6,1005.4 L314.3,1004.0 L315.0,1003.2 L315.7,1002.1 L316.4,1000.2 L317.1,998.6 L317.8,997.9 L318.5,997.5 L319.2,996.4 L319.9,994.8 L320.6,992.9 L321.3,991.4 L322.0,990.5 L322.7,989.0 L323.4,987.2 L324.1,985.7 L324.8,984.3 L325.5,982.7 L326.2,981.2 L326.9,979.8 L327.6,978.2 L328.3,976.9 L329.0,976.2 L329.7,975.4 L330.4,974.6 L331.1,973.5 L331.8,971.5 L332.5,970.1 L333.2,970.0 L333.9,969.8 L334.6,968.4 L335.3,967.3 L336.0,967.4 L336.7,966.5 L337.4,964.9 L338.1,964.2 L338.8,963.9 L339.5,963.3 L340.2,962.9 L340.9,962.5 L341.6,962.2 L342.3,961.8 L343.0,961.3 L343.7,960.7 L344.4,959.6 L345.1,958.3 L345.8,957.6 L346.5,957.6 L347.2,957.9 L347.9,957.0 L348.6,955.5 L349.3,955.1 L350.0,955.2 L350.7,954.8 L351.4,954.4 L352.1,954.4 L352.8,954.7 L353.5,954.4 L354.2,954.6 L354.9,955.6 L355.6,956.5 L356.3,957.0 L357.0,957.9 L357.7,959.1 L358.4,960.3 L359.1,961.9 L359.8,963.5 L360.5,964.8 L361.2,966.0 L361.9,966.5 L362.6,967.4 L363.3,968.1 L364.0,968.5 L364.7,969.6 L365.4,970.7 L366.1,971.1 L366.8,971.3 L367.5,971.5 L368.2,972.0 L368.9,973.2 L369.6,973.9 L370.3,973.8 L371.0,973.8 L371.7,974.2 L372.4,975.0 L373.1,976.0 L373.8,976.8 L374.5,978.0 L375.2,979.8 L375.9,981.2 L376.6,982.4 L377.3,983.5 L378.0,984.9 L378.7,986.7 L379.4,987.6 L380.1,988.0 L380.8,989.4 L381.5,990.9 L382.2,992.6 L382.9,994.4 L383.6,995.7 L384.3,996.9 L385.0,998.2 L385.7,999.8 L386.4,1000.7 L387.1,1001.5 L387.8,1003.6 L388.5,1005.3 L389.2,1006.5 L389.9,1007.8 L390.6,1009.0 L391.3,1010.9 L392.0,1012.9 L392.7,1014.2 L393.4,1015.3 L394.1,1016.6 L394.8,1018.2 L395.5,1020.1 L396.2,1022.2 L396.9,1023.8 L397.6,1025.5 L398.3,1027.7 L399.0,1030.2 L399.7,1032.1 L400.4,1033.3 L401.1,1034.7 L401.8,1036.4 L402.5,1036.9 L403.2,1037.1 L403.9,1038.4 L404.6,1039.9 L405.3,1040.0 L406.0,1040.2 L406.7,1041.2 L407.4,1042.1 L408.1,1042.6 L408.8,1043.3 L409.5,1044.0 L410.2,1045.0 L410.9,1046.5 L411.6,1047.8 L412.3,1048.7 L413.0,1049.5 L413.7,1050.0 L414.4,1050.2 L415.1,1051.3 L415.8,1052.6 L416.5,1053.0 L417.2,1054.0 L417.9,1055.7 L418.6,1056.4 L419.3,1057.4 L420.0,1058.8 L420.7,1059.6 L421.4,1060.4 L422.1,1061.4 L422.8,1062.3 L423.5,1063.4 L424.2,1064.8 L424.9,1065.6 L425.6,1066.1 L426.3,1067.1 L427.0,1067.7 L427.7,1068.3 L428.4,1069.1 L429.1,1069.3 L429.8,1070.0 L430.5,1071.0 L431.2,1071.0 L431.9,1070.3 L432.6,1070.8 L433.3,1072.5 L434.0,1073.9 L434.7,1074.5 L435.4,1074.2 L436.1,1074.3 L436.8,1075.4 L437.5,1076.4 L438.2,1076.7 L438.9,1076.1 L439.6,1075.8 L440.3,1076.2 L441.0,1076.5 L441.7,1076.0 L442.4,1075.6 L443.1,1075.6 L443.8,1075.5 L444.5,1075.6 L445.2,1075.8 L445.9,1075.3 L446.6,1074.4 L447.3,1073.8 L448.0,1073.6 L448.7,1073.7 L449.4,1073.3 L450.1,1072.5 L450.8,1071.8 L451.5,1071.2 L452.2,1070.8 L452.9,1070.4 L453.6,1069.5 L454.3,1068.8 L455.0,1068.1 L455.7,1066.7 L456.4,1065.5 L457.1,1065.0 L457.8,1064.4 L458.5,1063.5 L459.2,1062.6 L459.9,1061.7 L460.6,1060.2 L461.3,1058.9 L462.0,1058.1 L462.7,1057.1 L463.4,1056.1 L464.1,1054.6 L464.8,1052.3 L465.5,1050.6 L466.2,1050.0 L466.9,1048.9 L467.6,1047.3 L468.3,1045.9 L469.0,1044.7 L469.7,1043.4 L470.4,1042.1 L471.1,1040.8 L471.8,1039.1 L472.5,1037.2 L473.2,1036.1 L473.9,1035.0 L474.6,1032.9 L475.3,1030.9 L476.0,1029.0 L476.7,1027.7 L477.4,1026.7 L478.1,1025.0 L478.8,1023.3 L479.5,1021.7 L480.2,1019.8 L480.9,1017.5 L481.6,1015.9 L482.3,1015.0 L483.0,1013.1 L483.7,1010.6 L484.4,1008.3 L485.1,1006.2 L485.8,1004.7 L486.5,1003.0 L487.2,1001.6 L487.9,1000.3 L488.6,997.9 L489.3,995.3 L490.0,993.5 L490.7,992.1 L491.4,990.3 L492.1,988.0 L492.8,986.2 L493.5,985.4 L494.2,984.1 L494.9,982.8 L495.6,982.0 L496.3,981.0 L497.0,979.7 L497.7,978.6 L498.4,977.9 L499.1,977.5 L499.8,976.4 L500.5,975.2 L501.2,974.9 L501.9,974.5 L502.6,973.6 L503.3,972.8 L504.0,972.0 L504.7,971.6 L505.4,971.3 L506.1,971.2 L506.8,971.5 L507.5,971.5 L508.2,971.5 L508.9,971.9 L509.6,972.5 L510.3,973.6 L511.0,975.0 L511.7,975.5 L512.4,975.7 L513.1,976.7 L513.8,978.5 L514.5,979.9 L515.2,981.2 L515.9,983.1 L516.6,985.5 L517.3,987.7 L518.0,989.3 L518.7,990.7 L519.4,992.4 L520.1,994.9 L520.8,998.0 L521.5,1000.5 L522.2,1002.9 L522.9,1005.7 L523.6,1008.0 L524.3,1010.0 L525.0,1012.0 L525.7,1013.9 L526.4,1015.9 L527.1,1017.7 L527.8,1019.1 L528.5,1020.7 L529.2,1022.7 L529.9,1024.8 L530.6,1026.4 L531.3,1028.0 L532.0,1030.3 L532.7,1032.3 L533.4,1034.0 L534.1,1035.7 L534.8,1037.4 L535.5,1039.3 L536.2,1041.4 L536.9,1042.7 L537.6,1044.0 L538.3,1046.3 L539.0,1048.8 L539.7,1050.5 L540.4,1052.2 L541.1,1054.0 L541.8,1055.9 L542.5,1058.1 L543.2,1060.6 L543.9,1062.8 L544.6,1064.2 L545.3,1066.2 L546.0,1068.8 L546.7,1070.6 L547.4,1072.1 L548.1,1073.8 L548.8,1075.5 L549.5,1077.3 L550.2,1078.8 L550.9,1080.4 L551.6,1082.4 L552.3,1083.8 L553.0,1084.8 L553.7,1085.6 L554.4,1086.1 L555.1,1086.6 L555.8,1087.8 L556.5,1089.6 L557.2,1090.7 L557.9,1091.8 L558.6,1092.9 L559.3,1093.5 L560.0,1094.7 L560.7,1096.1 L561.4,1097.1 L562.1,1097.6 L562.8,1098.1 L563.5,1099.7 L564.2,1100.9 L564.9,1101.4 L565.6,1102.5 L566.3,1103.3 L567.0,1104.2 L567.7,1104.9 L568.4,1105.5 L569.1,1106.5 L569.8,1107.4 L570.5,1108.2 L571.2,1109.0 L571.9,1109.4 L572.6,1109.8 L573.3,1110.3 L574.0,1110.7 L574.7,1111.1 L575.4,1111.8 L576.1,1112.5 L576.8,1113.7 L577.5,1114.7 L578.2,1114.3 L578.9,1114.4 L579.6,1115.6 L580.3,1116.3 L581.0,1116.8 L581.7,1117.1 L582.4,1117.2 L583.1,1117.5 L583.8,1118.3 L584.5,1119.5 L585.2,1119.7 L585.9,1119.6 L586.6,1120.5 L587.3,1120.8 L588.0,1120.4 L588.7,1120.9 L589.4,1121.9 L590.1,1122.8 L590.8,1123.5 L591.5,1123.6 L592.2,1123.6 L592.9,1123.6 L593.6,1123.8 L594.3,1124.3 L595.0,1124.6 L595.7,1125.0 L596.4,1125.0 L597.1,1125.0 L597.8,1125.5 L598.5,1125.9 L599.2,1126.5 L599.9,1127.1 L600.6,1127.1 L601.3,1127.0 L602.0,1127.5 L602.7,1127.8 L603.4,1127.4 L604.1,1127.6 L604.8,1128.6 L605.5,1128.6 L606.2,1128.2 L606.9,1128.1 L607.6,1127.8 L608.3,1127.7 L609.0,1128.2 L609.7,1128.8 L610.4,1129.6 L611.1,1130.6 L611.8,1130.5 L612.5,1130.2 L613.2,1130.3 L613.9,1130.7 L614.6,1131.5 L615.3,1131.7 L616.0,1131.4 L616.7,1131.8 L617.4,1132.6 L618.1,1133.2 L618.8,1132.7 L619.5,1131.7 L620.2,1132.0 L620.9,1132.8 L621.6,1133.3 L622.3,1133.4 L623.0,1133.2 L623.7,1133.5 L624.4,1134.1 L625.1,1134.1 L625.8,1134.3 L626.5,1134.8 L627.2,1134.5 L627.9,1134.1 L628.6,1134.1 L629.3,1134.2 L630.0,1134.4 L630.7,1134.7 L631.4,1134.6 L632.1,1134.9 L632.8,1135.2 L633.5,1135.7 L634.2,1136.3 L634.9,1136.1 L635.6,1135.9 L636.3,1135.8 L637.0,1136.1 L637.7,1136.5 L638.4,1136.5 L639.1,1136.8 L639.8,1136.9 L640.5,1136.9 L641.2,1137.1 L641.9,1137.0 L642.6,1137.0 L643.3,1136.9 L644.0,1137.0 L644.7,1137.2 L645.4,1137.9 L646.1,1138.7 L646.8,1138.9 L647.5,1138.8 L648.2,1138.6 L648.9,1138.4 L649.6,1138.3 L650.3,1138.8 L651.0,1139.6 L651.7,1139.4 L652.4,1139.1 L653.1,1139.1 L653.8,1139.3 L654.5,1139.7 L655.2,1139.3 L655.9,1139.3 L656.6,1140.3 L657.3,1140.5 L658.0,1140.0 L658.7,1139.9 L659.4,1140.2 L660.1,1140.2 L660.8,1140.2 L661.5,1140.5 L662.2,1140.3 L662.9,1139.6 L663.6,1139.5 L664.3,1139.9 L665.0,1139.6 L665.7,1139.6 L666.4,1140.0 L667.1,1140.2 L667.8,1140.6 L668.5,1140.9 L669.2,1140.4 L669.9,1139.9 L670.6,1140.4 L671.3,1140.7 L672.0,1140.7 L672.7,1140.8 L673.4,1141.2 L674.1,1141.7 L674.8,1142.1 L675.5,1142.4 L676.2,1142.1 L676.9,1141.9 L677.6,1142.3 L678.3,1142.4 L679.0,1142.5 L679.7,1142.9 L680.4,1142.9 L681.1,1142.4 L681.8,1142.2 L682.5,1143.0 L683.2,1143.7 L683.9,1143.8 L684.6,1143.9 L685.3,1144.0 L686.0,1143.7 L686.7,1143.3 L687.4,1143.2 L688.1,1142.9 L688.8,1143.1 L689.5,1143.6 L690.2,1143.8 L690.9,1143.5 L691.6,1143.2 L692.3,1143.4 L693.0,1143.3 L693.7,1142.6 L694.4,1142.8 L695.1,1144.2 L695.8,1144.7 L696.5,1144.4 L697.2,1144.0 L697.9,1143.5 L698.6,1143.3 L699.3,1143.7 L700.0,1143.9 L700.7,1144.3 L701.4,1144.2 L702.1,1143.8 L702.8,1143.8 L703.5,1143.6 L704.2,1143.9 L704.9,1144.5 L705.6,1144.4 L706.3,1144.2 L707.0,1144.2 L707.7,1144.5 L708.4,1145.1 L709.1,1145.3 L709.8,1144.8 L710.5,1144.3 L711.2,1144.4 L711.9,1144.7 L712.6,1144.8 L713.3,1145.0 L714.0,1145.9 L714.7,1146.5 L715.4,1145.8 L716.1,1145.3 L716.8,1145.3 L717.5,1144.8 L718.2,1145.1 L718.9,1145.7 L719.6,1145.6 L720.3,1145.8 L721.0,1146.2 L721.7,1146.1 L722.4,1145.8 L723.1,1145.9 L723.8,1146.3 L724.5,1146.2 L725.2,1146.0 L725.9,1146.0 L726.6,1145.7 L727.3,1145.4 L728.0,1145.6 L728.7,1146.3 L729.4,1146.6 L730.1,1146.3 L730.8,1146.0 L731.5,1146.2 L732.2,1146.3 L732.9,1146.3 L733.6,1146.6 L734.3,1147.0 L735.0,1146.4 L735.7,1145.7 L736.4,1145.8 L737.1,1146.0 L737.8,1146.1 L738.5,1146.6 L739.2,1146.5 L739.9,1145.7 L740.6,1145.6 L741.3,1146.3 L742.0,1146.4 L742.7,1146.2 L743.4,1147.0 L744.1,1147.7 L744.8,1147.5 L745.5,1146.8 L746.2,1146.2 L746.9,1146.2 L747.6,1146.5 L748.3,1146.9 L749.0,1147.3 L749.7,1147.1 L750.4,1146.8 L751.1,1147.3 L751.8,1147.4 L752.5,1146.6 L753.2,1146.3 L753.9,1146.7 L754.6,1146.9 L755.3,1146.9 L756.0,1147.4 L756.7,1147.5 L757.4,1147.3 L758.1,1146.9 L758.8,1146.7 L759.5,1147.5 L760.2,1148.2 L760.9,1148.2 L761.6,1147.8 L762.3,1147.2 L763.0,1146.9 L763.7,1147.3 L764.4,1147.5 L765.1,1147.2 L765.8,1146.5 L766.5,1146.5 L767.2,1147.0 L767.9,1147.8 L768.6,1148.2 L769.3,1147.4 L770.0,1146.8" fill="none" stroke="#00b0f0" stroke-width="3.00" stroke-linejoin="round" stroke-linecap="round"/>
<path d="M70.0,1114.9 L70.7,1115.4 L71.4,1115.3 L72.1,1114.6 L72.8,1114.2 L73.5,1114.4 L74.2,1114.6 L74.9,1114.7 L75.6,1114.4 L76.3,1114.1 L77.0,1114.6 L77.7,1114.7 L78.4,1114.5 L79.1,1114.2 L79.8,1114.1 L80.5,1114.4 L81.2,1114.4 L81.9,1114.0 L82.6,1113.9 L83.3,1113.9 L84.0,1113.2 L84.7,1113.0 L85.4,1113.3 L86.1,1112.9 L86.8,1112.3 L87.5,1112.5 L88.2,1112.6 L88.9,1112.2 L89.6,1112.2 L90.3,1112.8 L91.0,1113.1 L91.7,1112.6 L92.4,1112.3 L93.1,1112.6 L93.8,1112.6 L94.5,1112.4 L95.2,1112.5 L95.9,1112.4 L96.6,1111.7 L97.3,1111.3 L98.0,1111.4 L98.7,1111.5 L99.4,1111.0 L100.1,1110.0 L100.8,1109.5 L101.5,1109.0 L102.2,1108.7 L102.9,1109.0 L103.6,1108.9 L104.3,1108.6 L105.0,1108.7 L105.7,1108.6 L106.4,1108.0 L107.1,1107.7 L107.8,1107.2 L108.5,1106.5 L109.2,1106.6 L109.9,1106.3 L110.6,1105.5 L111.3,1105.5 L112.0,1105.6 L112.7,1105.4 L113.4,1105.0 L114.1,1104.8 L114.8,1104.5 L115.5,1104.2 L116.2,1104.2 L116.9,1104.1 L117.6,1103.8 L118.3,1103.7 L119.0,1103.9 L119.7,1103.7 L120.4,1103.4 L121.1,1103.6 L121.8,1104.0 L122.5,1103.6 L123.2,1102.8 L123.9,1102.9 L124.6,1103.1 L125.3,1102.6 L126.0,1102.5 L126.7,1102.6 L127.4,1102.4 L128.1,1102.7 L128.8,1102.8 L129.5,1101.9 L130.2,1101.6 L130.9,1101.7 L131.6,1102.3 L132.3,1103.2 L133.0,1102.8 L133.7,1101.5 L134.4,1101.3 L135.1,1102.1 L135.8,1102.3 L136.5,1101.6 L137.2,1100.9 L137.9,1100.8 L138.6,1100.7 L139.3,1100.2 L140.0,1099.9 L140.7,1100.0 L141.4,1099.9 L142.1,1099.4 L142.8,1098.9 L143.5,1098.3 L144.2,1098.5 L144.9,1098.8 L145.6,1098.1 L146.3,1097.6 L147.0,1098.1 L147.7,1098.4 L148.4,1098.2 L149.1,1097.3 L149.8,1096.2 L150.5,1096.0 L151.2,1096.9 L151.9,1097.0 L152.6,1095.6 L153.3,1095.0 L154.0,1094.9 L154.7,1094.4 L155.4,1094.0 L156.1,1093.9 L156.8,1094.0 L157.5,1094.0 L158.2,1093.7 L158.9,1093.2 L159.6,1092.8 L160.3,1092.0 L161.0,1091.1 L161.7,1091.0 L162.4,1091.5 L163.1,1091.4 L163.8,1091.3 L164.5,1091.4 L165.2,1091.3 L165.9,1091.0 L166.6,1090.5 L167.3,1089.7 L168.0,1088.9 L168.7,1088.5 L169.4,1088.2 L170.1,1087.8 L170.8,1087.7 L171.5,1087.7 L172.2,1087.5 L172.9,1086.7 L173.6,1086.0 L174.3,1086.2 L175.0,1086.5 L175.7,1086.5 L176.4,1085.9 L177.1,1084.9 L177.8,1084.8 L178.5,1085.3 L179.2,1085.2 L179.9,1085.1 L180.6,1084.5 L181.3,1083.2 L182.0,1082.7 L182.7,1082.6 L183.4,1082.3 L184.1,1081.8 L184.8,1081.2 L185.5,1080.4 L186.2,1079.5 L186.9,1079.1 L187.6,1078.8 L188.3,1078.5 L189.0,1078.1 L189.7,1078.0 L190.4,1077.7 L191.1,1077.0 L191.8,1076.3 L192.5,1075.6 L193.2,1074.9 L193.9,1074.3 L194.6,1073.9 L195.3,1073.6 L196.0,1073.3 L196.7,1072.5 L197.4,1071.8 L198.1,1071.5 L198.8,1070.8 L199.5,1070.1 L200.2,1069.8 L200.9,1069.4 L201.6,1069.0 L202.3,1068.2 L203.0,1067.4 L203.7,1067.3 L204.4,1067.5 L205.1,1066.7 L205.8,1065.7 L206.5,1065.1 L207.2,1064.9 L207.9,1064.8 L208.6,1064.0 L209.3,1063.7 L210.0,1063.2 L210.7,1062.3 L211.4,1062.2 L212.1,1062.2 L212.8,1061.6 L213.5,1061.0 L214.2,1060.5 L214.9,1059.9 L215.6,1059.2 L216.3,1058.7 L217.0,1058.1 L217.7,1057.5 L218.4,1057.1 L219.1,1056.4 L219.8,1055.7 L220.5,1056.0 L221.2,1056.3 L221.9,1055.6 L222.6,1054.7 L223.3,1054.4 L224.0,1053.9 L224.7,1053.6 L225.4,1053.0 L226.1,1052.3 L226.8,1052.3 L227.5,1052.1 L228.2,1051.5 L228.9,1050.9 L229.6,1050.4 L230.3,1050.6 L231.0,1051.1 L231.7,1050.9 L232.4,1049.8 L233.1,1048.7 L233.8,1046.9 L234.5,1045.2 L235.2,1044.6 L235.9,1043.8 L236.6,1042.5 L237.3,1041.6 L238.0,1040.6 L238.7,1038.9 L239.4,1037.5 L240.1,1036.8 L240.8,1036.0 L241.5,1035.2 L242.2,1034.8 L242.9,1033.8 L243.6,1032.3 L244.3,1031.3 L245.0,1030.5 L245.7,1029.5 L246.4,1028.2 L247.1,1026.9 L247.8,1026.3 L248.5,1025.7 L249.2,1024.2 L249.9,1022.6 L250.6,1021.9 L251.3,1021.1 L252.0,1019.7 L252.7,1018.6 L253.4,1017.6 L254.1,1016.3 L254.8,1015.3 L255.5,1014.3 L256.2,1013.2 L256.9,1012.8 L257.6,1011.6 L258.3,1010.2 L259.0,1009.4 L259.7,1008.1 L260.4,1006.5 L261.1,1005.9 L261.8,1005.6 L262.5,1004.8 L263.2,1003.6 L263.9,1002.5 L264.6,1001.4 L265.3,1000.4 L266.0,999.5 L266.7,998.2 L267.4,997.0 L268.1,995.6 L268.8,993.9 L269.5,993.0 L270.2,992.5 L270.9,991.2 L271.6,989.6 L272.3,988.3 L273.0,987.0 L273.7,985.7 L274.4,984.4 L275.1,982.9 L275.8,981.6 L276.5,980.8 L277.2,979.1 L277.9,977.2 L278.6,976.1 L279.3,975.1 L280.0,973.6 L280.7,972.2 L281.4,971.8 L282.1,971.0 L282.8,968.6 L283.5,966.7 L284.2,965.4 L284.9,963.7 L285.6,961.6 L286.3,960.3 L287.0,959.4 L287.7,958.2 L288.4,956.6 L289.1,954.4 L289.8,953.0 L290.5,951.6 L291.2,948.5 L291.9,945.5 L292.6,943.4 L293.3,941.2 L294.0,938.9 L294.7,936.2 L295.4,933.6 L296.1,932.2 L296.8,931.0 L297.5,928.1 L298.2,924.8 L298.9,923.0 L299.6,921.7 L300.3,920.1 L301.0,918.8 L301.7,917.7 L302.4,916.1 L303.1,914.3 L303.8,912.6 L304.5,911.1 L305.2,910.1 L305.9,909.1 L306.6,907.5 L307.3,905.8 L308.0,904.5 L308.7,902.5 L309.4,900.2 L310.1,897.9 L310.8,895.8 L311.5,893.4 L312.2,891.4 L312.9,890.6 L313.6,889.4 L314.3,887.8 L315.0,886.6 L315.7,885.2 L316.4,883.2 L317.1,881.2 L317.8,880.5 L318.5,880.3 L319.2,879.8 L319.9,878.9 L320.6,877.3 L321.3,875.0 L322.0,873.7 L322.7,873.5 L323.4,873.1 L324.1,872.2 L324.8,871.1 L325.5,869.6 L326.2,868.3 L326.9,867.3 L327.6,866.3 L328.3,865.3 L329.0,864.1 L329.7,862.8 L330.4,861.7 L331.1,860.7 L331.8,859.9 L332.5,858.6 L333.2,857.0 L333.9,856.0 L334.6,855.3 L335.3,853.9 L336.0,852.0 L336.7,849.6 L337.4,846.7 L338.1,844.3 L338.8,842.6 L339.5,841.6 L340.2,840.8 L340.9,840.4 L341.6,840.8 L342.3,842.0 L343.0,842.6 L343.7,842.7 L344.4,843.6 L345.1,844.8 L345.8,845.8 L346.5,847.1 L347.2,848.9 L347.9,850.6 L348.6,851.1 L349.3,851.0 L350.0,850.8 L350.7,850.6 L351.4,850.7 L352.1,850.6 L352.8,850.3 L353.5,850.5 L354.2,850.8 L354.9,850.9 L355.6,851.2 L356.3,852.4 L357.0,854.7 L357.7,856.9 L358.4,858.9 L359.1,860.5 L359.8,862.2 L360.5,864.4 L361.2,867.3 L361.9,870.3 L362.6,872.5 L363.3,874.6 L364.0,877.4 L364.7,880.1 L365.4,882.6 L366.1,884.4 L366.8,886.1 L367.5,888.1 L368.2,889.3 L368.9,890.5 L369.6,892.9 L370.3,894.7 L371.0,896.0 L371.7,897.9 L372.4,899.6 L373.1,901.3 L373.8,903.3 L374.5,905.6 L375.2,908.5 L375.9,910.7 L376.6,912.3 L377.3,914.3 L378.0,916.5 L378.7,919.4 L379.4,922.0 L380.1,923.9 L380.8,926.4 L381.5,929.4 L382.2,932.1 L382.9,934.1 L383.6,935.4 L384.3,937.1 L385.0,939.2 L385.7,941.0 L386.4,942.9 L387.1,945.4 L387.8,947.4 L388.5,948.7 L389.2,950.1 L389.9,951.5 L390.6,952.7 L391.3,954.5 L392.0,957.1 L392.7,960.0 L393.4,962.3 L394.1,964.2 L394.8,966.1 L395.5,968.5 L396.2,972.3 L396.9,975.5 L397.6,977.6 L398.3,980.1 L399.0,982.3 L399.7,984.3 L400.4,987.4 L401.1,990.2 L401.8,992.0 L402.5,993.8 L403.2,995.4 L403.9,996.4 L404.6,997.9 L405.3,999.1 L406.0,999.6 L406.7,1000.5 L407.4,1000.7 L408.1,1000.8 L408.8,1001.9 L409.5,1003.0 L410.2,1004.0 L410.9,1005.2 L411.6,1006.8 L412.3,1008.1 L413.0,1009.4 L413.7,1010.8 L414.4,1012.4 L415.1,1014.2 L415.8,1015.2 L416.5,1015.7 L417.2,1016.8 L417.9,1018.5 L418.6,1019.6 L419.3,1020.2 L420.0,1020.8 L420.7,1021.3 L421.4,1021.8 L422.1,1022.7 L422.8,1023.8 L423.5,1024.4 L424.2,1024.9 L424.9,1025.8 L425.6,1026.6 L426.3,1027.0 L427.0,1027.5 L427.7,1027.6 L428.4,1027.9 L429.1,1028.4 L429.8,1028.7 L430.5,1028.7 L431.2,1028.7 L431.9,1029.0 L432.6,1028.7 L433.3,1028.1 L434.0,1027.9 L434.7,1028.4 L435.4,1028.7 L436.1,1028.4 L436.8,1027.5 L437.5,1026.3 L438.2,1025.8 L438.9,1025.7 L439.6,1025.6 L440.3,1025.8 L441.0,1025.4 L441.7,1024.9 L442.4,1024.4 L443.1,1023.5 L443.8,1022.8 L444.5,1022.6 L445.2,1022.6 L445.9,1022.4 L446.6,1022.0 L447.3,1021.2 L448.0,1019.8 L448.7,1019.1 L449.4,1018.6 L450.1,1017.5 L450.8,1016.9 L451.5,1016.6 L452.2,1015.8 L452.9,1014.4 L453.6,1012.6 L454.3,1011.2 L455.0,1010.0 L455.7,1008.4 L456.4,1007.1 L457.1,1005.9 L457.8,1004.0 L458.5,1002.2 L459.2,1001.1 L459.9,999.9 L460.6,998.4 L461.3,996.6 L462.0,994.5 L462.7,992.0 L463.4,990.0 L464.1,987.9 L464.8,985.0 L465.5,981.8 L466.2,978.9 L466.9,976.1 L467.6,973.2 L468.3,970.3 L469.0,968.0 L469.7,965.7 L470.4,962.8 L471.1,960.0 L471.8,956.8 L472.5,953.5 L473.2,950.6 L473.9,948.0 L474.6,945.3 L475.3,942.5 L476.0,940.0 L476.7,936.7 L477.4,933.1 L478.1,930.8 L478.8,928.2 L479.5,924.7 L480.2,921.3 L480.9,917.8 L481.6,914.5 L482.3,911.3 L483.0,908.0 L483.7,904.0 L484.4,900.5 L485.1,898.6 L485.8,896.1 L486.5,892.4 L487.2,888.9 L487.9,885.2 L488.6,881.4 L489.3,878.5 L490.0,875.7 L490.7,873.3 L491.4,872.4 L492.1,871.5 L492.8,870.7 L493.5,871.1 L494.2,870.7 L494.9,869.6 L495.6,869.2 L496.3,868.2 L497.0,867.1 L497.7,866.1 L498.4,864.4 L499.1,862.8 L499.8,861.8 L500.5,860.7 L501.2,859.1 L501.9,857.0 L502.6,856.2 L503.3,856.1 L504.0,855.7 L504.7,855.4 L505.4,855.7 L506.1,856.3 L506.8,857.7 L507.5,859.4 L508.2,860.6 L508.9,862.0 L509.6,864.1 L510.3,865.8 L511.0,867.1 L511.7,869.2 L512.4,872.1 L513.1,875.0 L513.8,877.7 L514.5,880.4 L515.2,883.2 L515.9,886.0 L516.6,888.8 L517.3,891.2 L518.0,893.6 L518.7,896.5 L519.4,900.0 L520.1,903.3 L520.8,906.2 L521.5,909.8 L522.2,913.6 L522.9,916.5 L523.6,920.2 L524.3,924.9 L525.0,930.4 L525.7,935.9 L526.4,940.5 L527.1,944.9 L527.8,948.4 L528.5,951.3 L529.2,955.3 L529.9,960.1 L530.6,963.5 L531.3,966.6 L532.0,970.1 L532.7,973.3 L533.4,977.2 L534.1,980.7 L534.8,983.0 L535.5,985.9 L536.2,989.1 L536.9,991.9 L537.6,994.4 L538.3,996.9 L539.0,999.6 L539.7,1002.0 L540.4,1004.0 L541.1,1006.3 L541.8,1008.6 L542.5,1010.7 L543.2,1013.2 L543.9,1016.0 L544.6,1018.3 L545.3,1020.6 L546.0,1023.3 L546.7,1025.1 L547.4,1027.1 L548.1,1030.2 L548.8,1032.7 L549.5,1034.0 L550.2,1035.7 L550.9,1037.9 L551.6,1039.9 L552.3,1042.2 L553.0,1044.6 L553.7,1046.2 L554.4,1047.7 L555.1,1049.3 L555.8,1051.0 L556.5,1052.8 L557.2,1054.3 L557.9,1055.4 L558.6,1057.3 L559.3,1059.4 L560.0,1060.4 L560.7,1061.6 L561.4,1063.4 L562.1,1064.2 L562.8,1065.0 L563.5,1066.5 L564.2,1067.6 L564.9,1068.9 L565.6,1070.5 L566.3,1071.6 L567.0,1072.5 L567.7,1073.7 L568.4,1075.3 L569.1,1076.8 L569.8,1077.6 L570.5,1079.0 L571.2,1080.8 L571.9,1081.9 L572.6,1083.3 L573.3,1084.6 L574.0,1084.9 L574.7,1085.7 L575.4,1087.5 L576.1,1089.2 L576.8,1090.3 L577.5,1091.4 L578.2,1092.8 L578.9,1093.7 L579.6,1094.3 L580.3,1095.5 L581.0,1096.3 L581.7,1096.6 L582.4,1097.9 L583.1,1099.4 L583.8,1099.8 L584.5,1099.6 L585.2,1100.5 L585.9,1101.5 L586.6,1102.1 L587.3,1102.5 L588.0,1103.1 L588.7,1104.2 L589.4,1104.6 L590.1,1105.0 L590.8,1105.6 L591.5,1106.3 L592.2,1107.3 L592.9,1107.8 L593.6,1107.7 L594.3,1107.9 L595.0,1108.8 L595.7,1109.7 L596.4,1110.0 L597.1,1110.2 L597.8,1110.4 L598.5,1110.8 L599.2,1111.0 L599.9,1111.3 L600.6,1112.2 L601.3,1112.4 L602.0,1112.8 L602.7,1113.8 L603.4,1114.2 L604.1,1114.2 L604.8,1114.1 L605.5,1114.4 L606.2,1115.6 L606.9,1116.3 L607.6,1116.6 L608.3,1117.0 L609.0,1117.0 L609.7,1117.3 L610.4,1118.1 L611.1,1118.7 L611.8,1118.9 L612.5,1118.8 L613.2,1118.5 L613.9,1118.6 L614.6,1119.0 L615.3,1119.4 L616.0,1119.9 L616.7,1120.6 L617.4,1120.5 L618.1,1121.0 L618.8,1122.1 L619.5,1121.8 L620.2,1121.7 L620.9,1122.9 L621.6,1123.2 L622.3,1122.4 L623.0,1122.2 L623.7,1123.0 L624.4,1123.9 L625.1,1123.9 L625.8,1123.8 L626.5,1124.5 L627.2,1124.9 L627.9,1124.5 L628.6,1124.4 L629.3,1125.2 L630.0,1126.5 L630.7,1127.1 L631.4,1126.7 L632.1,1126.5 L632.8,1126.2 L633.5,1125.9 L634.2,1126.2 L634.9,1126.2 L635.6,1126.2 L636.3,1126.7 L637.0,1127.3 L637.7,1127.9 L638.4,1128.2 L639.1,1128.0 L639.8,1128.0 L640.5,1128.4 L641.2,1128.8 L641.9,1128.9 L642.6,1128.2 L643.3,1127.6 L644.0,1128.9 L644.7,1130.2 L645.4,1130.1 L646.1,1129.9 L646.8,1130.3 L647.5,1130.5 L648.2,1130.4 L648.9,1130.3 L649.6,1130.5 L650.3,1130.7 L651.0,1130.5 L651.7,1130.6 L652.4,1131.3 L653.1,1132.0 L653.8,1132.2 L654.5,1132.3 L655.2,1132.8 L655.9,1133.4 L656.6,1133.2 L657.3,1133.4 L658.0,1133.7 L658.7,1133.3 L659.4,1133.4 L660.1,1134.0 L660.8,1134.3 L661.5,1134.0 L662.2,1133.9 L662.9,1133.6 L663.6,1133.7 L664.3,1134.2 L665.0,1134.0 L665.7,1133.6 L666.4,1133.7 L667.1,1133.7 L667.8,1134.0 L668.5,1134.5 L669.2,1134.9 L669.9,1135.1 L670.6,1134.9 L671.3,1135.3 L672.0,1136.1 L672.7,1136.5 L673.4,1136.5 L674.1,1136.2 L674.8,1136.1 L675.5,1136.3 L676.2,1136.5 L676.9,1136.4 L677.6,1136.5 L678.3,1136.7 L679.0,1136.7 L679.7,1137.2 L680.4,1137.6 L681.1,1137.2 L681.8,1137.1 L682.5,1137.5 L683.2,1137.7 L683.9,1137.8 L684.6,1138.0 L685.3,1137.8 L686.0,1137.3 L686.7,1137.3 L687.4,1137.5 L688.1,1137.6 L688.8,1137.5 L689.5,1137.6 L690.2,1138.4 L690.9,1139.1 L691.6,1139.1 L692.3,1139.1 L693.0,1139.1 L693.7,1138.3 L694.4,1137.7 L695.1,1138.3 L695.8,1139.1 L696.5,1140.0 L697.2,1140.0 L697.9,1139.7 L698.6,1140.4 L699.3,1140.7 L700.0,1140.3 L700.7,1140.4 L701.4,1140.8 L702.1,1140.2 L702.8,1139.7 L703.5,1139.6 L704.2,1139.6 L704.9,1140.0 L705.6,1140.3 L706.3,1140.4 L707.0,1140.3 L707.7,1140.3 L708.4,1140.5 L709.1,1140.5 L709.8,1140.4 L710.5,1140.2 L711.2,1140.4 L711.9,1140.5 L712.6,1140.5 L713.3,1140.2 L714.0,1139.7 L714.7,1140.1 L715.4,1141.0 L716.1,1141.1 L716.8,1140.3 L717.5,1140.0 L718.2,1140.5 L718.9,1141.0 L719.6,1141.0 L720.3,1141.3 L721.0,1142.0 L721.7,1142.4 L722.4,1142.1 L723.1,1141.6 L723.8,1141.7 L724.5,1141.6 L725.2,1141.6 L725.9,1142.2 L726.6,1142.3 L727.3,1142.4 L728.0,1143.0 L728.7,1143.2 L729.4,1143.2 L730.1,1143.4 L730.8,1142.9 L731.5,1142.3 L732.2,1142.6 L732.9,1143.0 L733.6,1142.8 L734.3,1142.9 L735.0,1143.5 L735.7,1144.0 L736.4,1144.2 L737.1,1143.8 L737.8,1143.6 L738.5,1143.8 L739.2,1143.8 L739.9,1143.8 L740.6,1144.2 L741.3,1144.0 L742.0,1143.7 L742.7,1144.1 L743.4,1144.1 L744.1,1143.7 L744.8,1143.4 L745.5,1143.5 L746.2,1143.5 L746.9,1143.1 L747.6,1143.6 L748.3,1144.6 L749.0,1144.7 L749.7,1144.6 L750.4,1144.8 L751.1,1144.7 L751.8,1144.4 L752.5,1144.1 L753.2,1144.3 L753.9,1144.6 L754.6,1144.8 L755.3,1144.6 L756.0,1143.9 L756.7,1143.6 L757.4,1144.2 L758.1,1145.1 L758.8,1145.3 L759.5,1144.8 L760.2,1143.8 L760.9,1143.5 L761.6,1144.3 L762.3,1144.8 L763.0,1145.0 L763.7,1145.2 L764.4,1145.1 L765.1,1144.7 L765.8,1144.8 L766.5,1145.3 L767.2,1145.5 L767.9,1145.9 L768.6,1146.4 L769.3,1145.9 L770.0,1145.6" fill="none" stroke="#00b050" stroke-width="3.00" stroke-linejoin="round" stroke-linecap="round"/>
</g>
<line x1="98" y1="389.0" x2="98" y2="383.0" stroke="#000" stroke-width="2"/>
<line x1="126" y1="389.0" x2="126" y2="383.0" stroke="#000" stroke-width="2"/>
<line x1="154" y1="389.0" x2="154" y2="383.0" stroke="#000" stroke-width="2"/>
<line x1="182" y1="389.0" x2="182" y2="383.0" stroke="#000" stroke-width="2"/>
<line x1="210" y1="389.0" x2="210" y2="381.0" stroke="#000" stroke-width="2"/>
<line x1="238" y1="389.0" x2="238" y2="383.0" stroke="#000" stroke-width="2"/>
<line x1="266" y1="389.0" x2="266" y2="383.0" stroke="#000" stroke-width="2"/>
<line x1="294" y1="389.0" x2="294" y2="383.0" stroke="#000" stroke-width="2"/>
<line x1="322" y1="389.0" x2="322" y2="383.0" stroke="#000" stroke-width="2"/>
<line x1="350" y1="389.0" x2="350" y2="381.0" stroke="#000" stroke-width="2"/>
<line x1="378" y1="389.0" x2="378" y2="383.0" stroke="#000" stroke-width="2"/>
<line x1="406" y1="389.0" x2="406" y2="383.0" stroke="#000" stroke-width="2"/>
<line x1="434" y1="389.0" x2="434" y2="383.0" stroke="#000" stroke-width="2"/>
<line x1="462" y1="389.0" x2="462" y2="383.0" stroke="#000" stroke-width="2"/>
<line x1="490" y1="389.0" x2="490" y2="381.0" stroke="#000" stroke-width="2"/>
<line x1="518" y1="389.0" x2="518" y2="383.0" stroke="#000" stroke-width="2"/>
<line x1="546" y1="389.0" x2="546" y2="383.0" stroke="#000" stroke-width="2"/>
<line x1="574" y1="389.0" x2="574" y2="383.0" stroke="#000" stroke-width="2"/>
<line x1="602" y1="389.0" x2="602" y2="383.0" stroke="#000" stroke-width="2"/>
<line x1="630" y1="389.0" x2="630" y2="381.0" stroke="#000" stroke-width="2"/>
<line x1="658" y1="389.0" x2="658" y2="383.0" stroke="#000" stroke-width="2"/>
<line x1="686" y1="389.0" x2="686" y2="383.0" stroke="#000" stroke-width="2"/>
<line x1="714" y1="389.0" x2="714" y2="383.0" stroke="#000" stroke-width="2"/>
<line x1="742" y1="389.0" x2="742" y2="383.0" stroke="#000" stroke-width="2"/>
<line x1="98" y1="775.0" x2="98" y2="769.0" stroke="#000" stroke-width="2"/>
<line x1="126" y1="775.0" x2="126" y2="769.0" stroke="#000" stroke-width="2"/>
<line x1="154" y1="775.0" x2="154" y2="769.0" stroke="#000" stroke-width="2"/>
<line x1="182" y1="775.0" x2="182" y2="769.0" stroke="#000" stroke-width="2"/>
<line x1="210" y1="775.0" x2="210" y2="767.0" stroke="#000" stroke-width="2"/>
<line x1="238" y1="775.0" x2="238" y2="769.0" stroke="#000" stroke-width="2"/>
<line x1="266" y1="775.0" x2="266" y2="769.0" stroke="#000" stroke-width="2"/>
<line x1="294" y1="775.0" x2="294" y2="769.0" stroke="#000" stroke-width="2"/>
<line x1="322" y1="775.0" x2="322" y2="769.0" stroke="#000" stroke-width="2"/>
<line x1="350" y1="775.0" x2="350" y2="767.0" stroke="#000" stroke-width="2"/>
<line x1="378" y1="775.0" x2="378" y2="769.0" stroke="#000" stroke-width="2"/>
<line x1="406" y1="775.0" x2="406" y2="769.0" stroke="#000" stroke-width="2"/>
<line x1="434" y1="775.0" x2="434" y2="769.0" stroke="#000" stroke-width="2"/>
<line x1="462" y1="775.0" x2="462" y2="769.0" stroke="#000" stroke-width="2"/>
<line x1="490" y1="775.0" x2="490" y2="767.0" stroke="#000" stroke-width="2"/>
<line x1="518" y1="775.0" x2="518" y2="769.0" stroke="#000" stroke-width="2"/>
<line x1="546" y1="775.0" x2="546" y2="769.0" stroke="#000" stroke-width="2"/>
<line x1="574" y1="775.0" x2="574" y2="769.0" stroke="#000" stroke-width="2"/>
<line x1="602" y1="775.0" x2="602" y2="769.0" stroke="#000" stroke-width="2"/>
<line x1="630" y1="775.0" x2="630" y2="767.0" stroke="#000" stroke-width="2"/>
<line x1="658" y1="775.0" x2="658" y2="769.0" stroke="#000" stroke-width="2"/>
<line x1="686" y1="775.0" x2="686" y2="769.0" stroke="#000" stroke-width="2"/>
<line x1="714" y1="775.0" x2="714" y2="769.0" stroke="#000" stroke-width="2"/>
<line x1="742" y1="775.0" x2="742" y2="769.0" stroke="#000" stroke-width="2"/>
<line x1="98" y1="1160.0" x2="98" y2="1154.0" stroke="#000" stroke-width="2"/>
<line x1="126" y1="1160.0" x2="126" y2="1154.0" stroke="#000" stroke-width="2"/>
<line x1="154" y1="1160.0" x2="154" y2="1154.0" stroke="#000" stroke-width="2"/>
<line x1="182" y1="1160.0" x2="182" y2="1154.0" stroke="#000" stroke-width="2"/>
<line x1="210" y1="1160.0" x2="210" y2="1152.0" stroke="#000" stroke-width="2"/>
<line x1="238" y1="1160.0" x2="238" y2="1154.0" stroke="#000" stroke-width="2"/>
<line x1="266" y1="1160.0" x2="266" y2="1154.0" stroke="#000" stroke-width="2"/>
<line x1="294" y1="1160.0" x2="294" y2="1154.0" stroke="#000" stroke-width="2"/>
<line x1="322" y1="1160.0" x2="322" y2="1154.0" stroke="#000" stroke-width="2"/>
<line x1="350" y1="1160.0" x2="350" y2="1152.0" stroke="#000" stroke-width="2"/>
<line x1="378" y1="1160.0" x2="378" y2="1154.0" stroke="#000" stroke-width="2"/>
<line x1="406" y1="1160.0" x2="406" y2="1154.0" stroke="#000" stroke-width="2"/>
<line x1="434" y1="1160.0" x2="434" y2="1154.0" stroke="#000" stroke-width="2"/>
<line x1="462" y1="1160.0" x2="462" y2="1154.0" stroke="#000" stroke-width="2"/>
<line x1="490" y1="1160.0" x2="490" y2="1152.0" stroke="#000" stroke-width="2"/>
<line x1="518" y1="1160.0" x2="518" y2="1154.0" stroke="#000" stroke-width="2"/>
<line x1="546" y1="1160.0" x2="546" y2="1154.0" stroke="#000" stroke-width="2"/>
<line x1="574" y1="1160.0" x2="574" y2="1154.0" stroke="#000" stroke-width="2"/>
<line x1="602" y1="1160.0" x2="602" y2="1154.0" stroke="#000" stroke-width="2"/>
<line x1="630" y1="1160.0" x2="630" y2="1152.0" stroke="#000" stroke-width="2"/>
<line x1="658" y1="1160.0" x2="658" y2="1154.0" stroke="#000" stroke-width="2"/>
<line x1="686" y1="1160.0" x2="686" y2="1154.0" stroke="#000" stroke-width="2"/>
<line x1="714" y1="1160.0" x2="714" y2="1154.0" stroke="#000" stroke-width="2"/>
<line x1="742" y1="1160.0" x2="742" y2="1154.0" stroke="#000" stroke-width="2"/>
<rect x="70" y="3" width="700" height="1157" fill="none" stroke="#000" stroke-width="2.2"/>
<line x1="70" y1="389" x2="770" y2="389" stroke="#000" stroke-width="2.2"/>
<line x1="70" y1="775" x2="770" y2="775" stroke="#000" stroke-width="2.2"/>
<text transform="translate(193.3 49.5) scale(1.025 1)" font-family="Liberation Serif, serif" font-size="39.0" text-anchor="middle" fill="#000">Ge-Ge</text>
<text transform="translate(198.1 84.7) scale(1.025 1)" font-family="Liberation Serif, serif" font-size="39.0" text-anchor="middle" fill="#000">(NW)</text>
<text transform="translate(492.0 196.3) scale(1.025 1)" font-family="Liberation Serif, serif" font-size="39.0" text-anchor="middle" fill="#000">Ge-Ge</text>
<text transform="translate(491.7 226.6) scale(1.025 1)" font-family="Liberation Serif, serif" font-size="39.0" text-anchor="middle" fill="#000">(Ge sub.)</text>
<text transform="translate(257.9 436.3) scale(1.025 1)" font-family="Liberation Serif, serif" font-size="39.0" text-anchor="middle" fill="#000">Ge-Ge</text>
<text transform="translate(262.6 471.2) scale(1.025 1)" font-family="Liberation Serif, serif" font-size="39.0" text-anchor="middle" fill="#000">(NW)</text>
<text transform="translate(513.8 434.2) scale(1.025 1)" font-family="Liberation Serif, serif" font-size="39.0" text-anchor="middle" fill="#000">Ge-Ge</text>
<text transform="translate(513.8 463.5) scale(1.025 1)" font-family="Liberation Serif, serif" font-size="39.0" text-anchor="middle" fill="#000">(Ge sub.)</text>
<text transform="translate(198.4 815.5) scale(1.025 1)" font-family="Liberation Serif, serif" font-size="39.0" text-anchor="middle" fill="#000">Ge-Ge</text>
<text transform="translate(203.1 850.0) scale(1.025 1)" font-family="Liberation Serif, serif" font-size="39.0" text-anchor="middle" fill="#000">(NW)</text>
<text transform="translate(499.2 814.2) scale(1.025 1)" font-family="Liberation Serif, serif" font-size="39.0" text-anchor="middle" fill="#000">Ge-Ge</text>
<text transform="translate(499.0 844.1) scale(1.025 1)" font-family="Liberation Serif, serif" font-size="39.0" text-anchor="middle" fill="#000">(Ge sub.)</text>
<line x1="199.5" y1="93.8" x2="293.3" y2="136.0" stroke="#000" stroke-width="2.6"/>
<line x1="259.3" y1="477.8" x2="304.3" y2="531.2" stroke="#000" stroke-width="2.6"/>
<line x1="203.3" y1="857.1" x2="297.1" y2="899.8" stroke="#000" stroke-width="2.6"/>
<text x="713.5" y="49.5" font-family="Liberation Sans, sans-serif" font-size="33" text-anchor="middle" fill="#000">(a)</text>
<text x="720.0" y="435.0" font-family="Liberation Sans, sans-serif" font-size="33" text-anchor="middle" fill="#000">(b)</text>
<text x="725.4" y="820.3" font-family="Liberation Sans, sans-serif" font-size="33" text-anchor="middle" fill="#000">(c)</text>
<rect x="569.0" y="97.4" width="189.2" height="184.6" fill="#fff" stroke="#000" stroke-width="2"/>
<line x1="577.0" y1="120.8" x2="628.0" y2="120.8" stroke="#000000" stroke-width="3.2"/>
<text transform="translate(631.0 128.6) scale(1.030 1)" font-family="Liberation Serif, serif" font-weight="bold" font-size="26.7" fill="#000">0.356 mW</text>
<line x1="577.0" y1="166.4" x2="628.0" y2="166.4" stroke="#ff0000" stroke-width="3.2"/>
<text transform="translate(631.0 174.2) scale(1.030 1)" font-family="Liberation Serif, serif" font-weight="bold" font-size="26.7" fill="#000">1.03 mW</text>
<line x1="577.0" y1="212.9" x2="628.0" y2="212.9" stroke="#00b0f0" stroke-width="3.2"/>
<text transform="translate(631.0 220.7) scale(1.030 1)" font-family="Liberation Serif, serif" font-weight="bold" font-size="26.7" fill="#000">3.19 mW</text>
<line x1="577.0" y1="259.0" x2="628.0" y2="259.0" stroke="#00b050" stroke-width="3.2"/>
<text transform="translate(631.0 266.8) scale(1.030 1)" font-family="Liberation Serif, serif" font-weight="bold" font-size="26.7" fill="#000">6.05 mW</text>
<rect x="572.3" y="490.3" width="191.8" height="174.9" fill="#fff" stroke="#000" stroke-width="2"/>
<line x1="581.0" y1="511.7" x2="631.3" y2="511.7" stroke="#000000" stroke-width="3.2"/>
<text transform="translate(635.5 521.0) scale(1.030 1)" font-family="Liberation Serif, serif" font-weight="bold" font-size="26.7" fill="#000">0.410 mW</text>
<line x1="581.0" y1="555.7" x2="631.3" y2="555.7" stroke="#ff0000" stroke-width="3.2"/>
<text transform="translate(635.5 565.0) scale(1.030 1)" font-family="Liberation Serif, serif" font-weight="bold" font-size="26.7" fill="#000">1.12 mW</text>
<line x1="581.0" y1="599.6" x2="631.3" y2="599.6" stroke="#00b0f0" stroke-width="3.2"/>
<text transform="translate(635.5 608.9) scale(1.030 1)" font-family="Liberation Serif, serif" font-weight="bold" font-size="26.7" fill="#000">3.03 mW</text>
<line x1="581.0" y1="642.8" x2="631.3" y2="642.8" stroke="#00b050" stroke-width="3.2"/>
<text transform="translate(635.5 652.1) scale(1.030 1)" font-family="Liberation Serif, serif" font-weight="bold" font-size="26.7" fill="#000">6.17 mW</text>
<rect x="562.5" y="870.1" width="194.5" height="166.3" fill="#fff" stroke="#000" stroke-width="2"/>
<line x1="572.3" y1="890.9" x2="623.0" y2="890.9" stroke="#000000" stroke-width="3.2"/>
<text transform="translate(627.8 899.0) scale(1.030 1)" font-family="Liberation Serif, serif" font-weight="bold" font-size="26.7" fill="#000">0.335 mW</text>
<line x1="572.3" y1="932.4" x2="623.0" y2="932.4" stroke="#ff0000" stroke-width="3.2"/>
<text transform="translate(627.8 940.5) scale(1.030 1)" font-family="Liberation Serif, serif" font-weight="bold" font-size="26.7" fill="#000">1.04 mW</text>
<line x1="572.3" y1="972.9" x2="623.0" y2="972.9" stroke="#00b0f0" stroke-width="3.2"/>
<text transform="translate(627.8 981.0) scale(1.030 1)" font-family="Liberation Serif, serif" font-weight="bold" font-size="26.7" fill="#000">3.06 mW</text>
<line x1="572.3" y1="1013.7" x2="623.0" y2="1013.7" stroke="#00b050" stroke-width="3.2"/>
<text transform="translate(627.8 1021.8) scale(1.030 1)" font-family="Liberation Serif, serif" font-weight="bold" font-size="26.7" fill="#000">6.16 mW</text>
<text x="70.0" y="1205.5" font-family="Liberation Serif, serif" font-weight="bold" font-size="31" text-anchor="middle" fill="#000">285</text>
<text x="210.0" y="1205.5" font-family="Liberation Serif, serif" font-weight="bold" font-size="31" text-anchor="middle" fill="#000">290</text>
<text x="350.0" y="1205.5" font-family="Liberation Serif, serif" font-weight="bold" font-size="31" text-anchor="middle" fill="#000">295</text>
<text x="490.0" y="1205.5" font-family="Liberation Serif, serif" font-weight="bold" font-size="31" text-anchor="middle" fill="#000">300</text>
<text x="630.0" y="1205.5" font-family="Liberation Serif, serif" font-weight="bold" font-size="31" text-anchor="middle" fill="#000">305</text>
<text x="770.0" y="1205.5" font-family="Liberation Serif, serif" font-weight="bold" font-size="31" text-anchor="middle" fill="#000">310</text>
<text x="231" y="1259" font-family="Liberation Serif, serif" font-weight="bold" font-size="54" fill="#000">Raman shift [cm<tspan font-size="35" dx="2.5" dy="-17">-1</tspan><tspan dx="0" dy="17">]</tspan></text>
<text transform="translate(38.5 821) rotate(-90)" font-family="Liberation Serif, serif" font-weight="bold" font-size="54.6" fill="#000">Intensity [arb. unit]</text>
</svg>
</body></html>
